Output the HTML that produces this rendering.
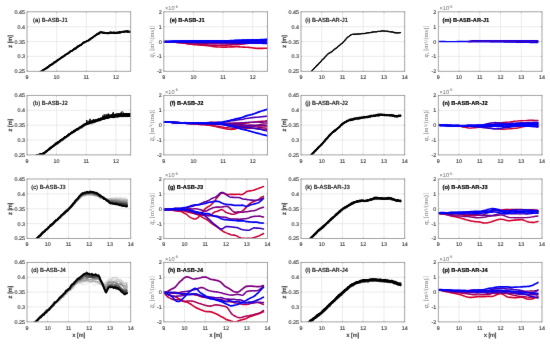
<!DOCTYPE html>
<html lang="en">
<head>
<meta charset="utf-8">
<title>Beach profile evolution and sediment transport</title>
<style>
html,body{margin:0;padding:0;background:#fff;}
body{width:550px;height:345px;overflow:hidden;}
svg{display:block;}
svg text{font-family:'Liberation Sans', sans-serif;text-rendering:geometricPrecision;}
.tk{font-size:5.4px;fill:#404040;stroke:#404040;stroke-width:0.14px;}
.tt{font-size:5.9px;fill:#161616;stroke:#161616;stroke-width:0.2px;}
.tb{font-size:5.7px;fill:#0a0a0a;font-weight:bold;stroke:#0a0a0a;stroke-width:0.18px;}
.yl{font-size:5.8px;fill:#333;stroke:#333;stroke-width:0.22px;}
.ql{font-size:6.3px;fill:#707070;font-family:'Liberation Serif','DejaVu Serif',serif;letter-spacing:0.1px;}
.qi{font-style:italic;}
.sub{font-size:4.2px;}
.ex{font-size:5.6px;fill:#707070;}
.es{font-size:4px;}
</style>
</head>
<body>
<svg width="550" height="345" viewBox="0 0 550 345" role="img" aria-label="Beach profile evolution and net sediment transport, 16 panels">
<defs><filter id="soft" x="0" y="0" width="100%" height="100%" filterUnits="objectBoundingBox" color-interpolation-filters="sRGB"><feConvolveMatrix order="3" kernelMatrix="0.0028 0.0470 0.0028 0.0470 0.8008 0.0470 0.0028 0.0470 0.0028" edgeMode="duplicate" preserveAlpha="true"/></filter></defs>
<rect width="550" height="345" fill="#fff"/>
<g filter="url(#soft)">
<rect width="550" height="345" fill="#fff"/>
<g>
<rect x="27.0" y="11.8" width="103.7" height="59.5" fill="#fff"/>
<path d="M56.6 11.8V71.3M86.3 11.8V71.3M115.9 11.8V71.3M27.0 56.4H130.7M27.0 41.6H130.7M27.0 26.7H130.7" stroke="#e4e4e4" stroke-width="0.7" fill="none"/>
<clipPath id="c1"><rect x="27.0" y="11.8" width="103.7" height="59.5"/></clipPath>
<g clip-path="url(#c1)" fill="none" stroke-linejoin="round" stroke-linecap="round">
<polyline points="35.9,74.9 36.5,74.6 37.2,74.4 37.8,74.1 38.4,73.7 39.1,73.2 39.7,72.5 40.3,71.9 41.0,71.8 41.6,71.4 42.3,70.8 42.9,70.3 43.5,70.1 44.2,69.8 44.8,69.2 45.4,68.7 46.1,68.6 46.7,68.3 47.3,68.0 48.0,67.7 48.6,67.1 49.3,66.5 49.9,66.0 50.5,65.4 51.2,64.8 51.8,64.7 52.4,64.6 53.1,64.0 53.7,63.2 54.3,62.9 55.0,62.7 55.6,62.2 56.3,61.8 56.9,61.2 57.5,60.6 58.2,60.2 58.8,59.7 59.4,59.2 60.1,58.9 60.7,58.5 61.3,58.0 62.0,57.7 62.6,57.4 63.3,56.7 63.9,56.2 64.5,56.0 65.2,55.4 65.8,55.0 66.4,54.5 67.1,53.8 67.7,53.5 68.3,53.5 69.0,52.9 69.6,52.4 70.2,52.0 70.9,51.5 71.5,51.1 72.2,50.5 72.8,50.0 73.4,49.9 74.1,49.5 74.7,49.1 75.3,48.8 76.0,48.5 76.6,48.0 77.2,47.3 77.9,46.6 78.5,46.3 79.2,46.3 79.8,45.8 80.4,45.3 81.1,45.1 81.7,44.6 82.3,43.8 83.0,43.2 83.6,42.8 84.2,42.7 84.9,42.3 85.5,41.8 86.2,41.3 86.8,41.3 87.4,41.1 88.1,40.8 88.7,40.5 89.3,40.2 90.0,39.8 90.6,39.3 91.2,38.6 91.9,37.9 92.5,37.5 93.2,37.1 93.8,36.7 94.4,36.2 95.1,35.7 95.7,35.3 96.3,35.0 97.0,34.7 97.6,34.3 98.2,34.1 98.9,33.8 99.5,33.2 100.2,32.9 100.8,32.4 101.4,32.2 102.1,32.6 102.7,32.9 103.3,32.8 104.0,32.9 104.6,33.2 105.2,33.4 105.9,33.3 106.5,33.4 107.2,33.6 107.8,33.5 108.4,33.4 109.1,33.4 109.7,33.3 110.3,33.1 111.0,32.8 111.6,32.8 112.2,32.9 112.9,33.0 113.5,33.2 114.2,33.4 114.8,33.3 115.4,33.1 116.1,33.2 116.7,33.1 117.3,33.1 118.0,33.0 118.6,32.9 119.2,32.7 119.9,32.7 120.5,32.7 121.2,32.2 121.8,31.9 122.4,32.1 123.1,32.1 123.7,32.1 124.3,31.9 125.0,31.7 125.6,31.8 126.2,31.9 126.9,32.0 127.5,32.2 128.2,32.1 128.8,31.8 129.4,31.7 130.1,31.8 130.7,31.9" stroke="#000000" stroke-width="1.45"/>
<polyline points="35.9,74.9 36.5,74.7 37.2,74.3 37.8,73.8 38.4,73.4 39.1,73.1 39.7,72.8 40.3,72.1 41.0,71.4 41.6,71.2 42.3,70.9 42.9,70.2 43.5,69.7 44.2,69.6 44.8,69.2 45.4,68.9 46.1,68.5 46.7,67.7 47.3,67.2 48.0,66.9 48.6,66.5 49.3,66.0 49.9,65.6 50.5,65.3 51.2,65.1 51.8,64.5 52.4,63.8 53.1,63.4 53.7,63.0 54.3,62.6 55.0,62.3 55.6,61.8 56.3,61.2 56.9,60.9 57.5,60.5 58.2,59.9 58.8,59.3 59.4,58.8 60.1,58.6 60.7,58.5 61.3,58.1 62.0,57.3 62.6,56.7 63.3,56.4 63.9,56.0 64.5,55.4 65.2,54.9 65.8,54.6 66.4,54.3 67.1,53.9 67.7,53.6 68.3,53.0 69.0,52.4 69.6,51.9 70.2,51.2 70.9,51.1 71.5,51.3 72.2,50.9 72.8,50.3 73.4,49.8 74.1,49.3 74.7,48.9 75.3,48.9 76.0,48.6 76.6,47.7 77.2,47.1 77.9,46.8 78.5,46.4 79.2,46.2 79.8,45.8 80.4,45.3 81.1,45.0 81.7,44.5 82.3,43.8 83.0,43.2 83.6,42.9 84.2,42.7 84.9,42.4 85.5,42.0 86.2,41.6 86.8,41.2 87.4,41.0 88.1,40.6 88.7,40.0 89.3,39.6 90.0,39.4 90.6,38.9 91.2,38.4 91.9,38.2 92.5,37.9 93.2,37.3 93.8,36.5 94.4,36.1 95.1,35.7 95.7,35.2 96.3,34.6 97.0,34.4 97.6,34.4 98.2,33.9 98.9,33.8 99.5,33.6 100.2,32.8 100.8,32.2 101.4,32.4 102.1,32.8 102.7,32.7 103.3,32.5 104.0,32.7 104.6,33.0 105.2,33.2 105.9,33.2 106.5,33.1 107.2,33.1 107.8,33.2 108.4,33.3 109.1,33.1 109.7,32.9 110.3,32.8 111.0,33.0 111.6,32.9 112.2,32.9 112.9,32.8 113.5,32.4 114.2,32.3 114.8,32.6 115.4,32.6 116.1,32.8 116.7,33.2 117.3,32.9 118.0,32.7 118.6,32.8 119.2,32.8 119.9,32.7 120.5,32.3 121.2,32.0 121.8,31.9 122.4,31.8 123.1,31.6 123.7,31.7 124.3,32.0 125.0,31.8 125.6,31.3 126.2,31.2 126.9,31.3 127.5,31.4 128.2,31.6 128.8,31.7 129.4,31.8 130.1,31.8 130.7,31.8" stroke="#000000" stroke-width="1.45"/>
<polyline points="35.9,74.2 36.5,74.0 37.2,73.9 37.8,73.7 38.4,73.1 39.1,72.3 39.7,72.0 40.3,71.8 41.0,71.5 41.6,71.2 42.3,70.6 42.9,70.0 43.5,69.7 44.2,69.3 44.8,68.9 45.4,68.5 46.1,68.3 46.7,67.8 47.3,67.2 48.0,66.7 48.6,66.2 49.3,65.6 49.9,65.0 50.5,64.9 51.2,64.7 51.8,64.1 52.4,63.7 53.1,63.4 53.7,62.6 54.3,62.0 55.0,61.8 55.6,61.7 56.3,61.3 56.9,60.8 57.5,60.6 58.2,60.0 58.8,59.3 59.4,58.9 60.1,58.3 60.7,57.7 61.3,57.4 62.0,56.9 62.6,56.4 63.3,56.3 63.9,56.2 64.5,55.9 65.2,55.1 65.8,54.3 66.4,54.0 67.1,54.0 67.7,53.7 68.3,53.1 69.0,52.6 69.6,52.1 70.2,51.6 70.9,51.2 71.5,50.9 72.2,50.4 72.8,49.9 73.4,49.5 74.1,48.8 74.7,48.2 75.3,47.9 76.0,47.9 76.6,47.7 77.2,47.3 77.9,47.0 78.5,46.5 79.2,45.6 79.8,45.0 80.4,45.0 81.1,44.8 81.7,44.3 82.3,43.7 83.0,42.8 83.6,42.2 84.2,42.1 84.9,42.1 85.5,41.8 86.2,41.3 86.8,41.1 87.4,40.9 88.1,40.6 88.7,40.2 89.3,39.5 90.0,38.8 90.6,38.5 91.2,38.2 91.9,37.8 92.5,37.4 93.2,37.0 93.8,36.7 94.4,36.4 95.1,35.9 95.7,35.1 96.3,34.5 97.0,34.0 97.6,33.6 98.2,33.5 98.9,33.1 99.5,32.5 100.2,32.2 100.8,32.2 101.4,32.1 102.1,32.2 102.7,32.7 103.3,32.7 104.0,32.5 104.6,32.9 105.2,33.2 105.9,33.0 106.5,32.8 107.2,32.8 107.8,33.0 108.4,33.2 109.1,32.9 109.7,32.4 110.3,32.3 111.0,32.4 111.6,32.5 112.2,32.7 112.9,32.9 113.5,32.7 114.2,32.5 114.8,32.6 115.4,32.4 116.1,32.5 116.7,32.8 117.3,32.8 118.0,32.7 118.6,32.6 119.2,32.6 119.9,32.6 120.5,32.4 121.2,32.4 121.8,32.3 122.4,31.9 123.1,31.7 123.7,31.8 124.3,31.7 125.0,31.6 125.6,31.6 126.2,31.4 126.9,31.3 127.5,31.3 128.2,31.5 128.8,31.6 129.4,31.7 130.1,31.7 130.7,31.6" stroke="#000000" stroke-width="1.45"/>
<polyline points="35.9,74.4 36.5,74.0 37.2,73.8 37.8,73.6 38.4,73.0 39.1,72.4 39.7,71.9 40.3,71.7 41.0,71.5 41.6,71.1 42.3,70.5 42.9,70.2 43.5,70.0 44.2,69.1 44.8,68.6 45.4,68.5 46.1,68.2 46.7,67.7 47.3,67.2 48.0,66.6 48.6,66.3 49.3,65.8 49.9,65.2 50.5,64.8 51.2,64.4 51.8,64.2 52.4,64.0 53.1,63.4 53.7,62.5 54.3,62.1 55.0,61.8 55.6,61.3 56.3,60.9 56.9,60.3 57.5,59.8 58.2,59.8 58.8,59.7 59.4,59.3 60.1,58.6 60.7,57.8 61.3,57.4 62.0,57.3 62.6,57.1 63.3,56.3 63.9,55.8 64.5,55.7 65.2,55.2 65.8,54.6 66.4,54.1 67.1,53.8 67.7,53.5 68.3,53.2 69.0,52.6 69.6,51.7 70.2,51.2 70.9,51.2 71.5,51.1 72.2,50.7 72.8,50.1 73.4,49.4 74.1,49.0 74.7,48.6 75.3,48.3 76.0,47.8 76.6,47.1 77.2,46.4 77.9,45.9 78.5,45.9 79.2,45.7 79.8,45.2 80.4,44.9 81.1,44.4 81.7,44.0 82.3,43.5 83.0,42.9 83.6,42.4 84.2,42.1 84.9,41.8 85.5,41.6 86.2,41.3 86.8,41.0 87.4,40.6 88.1,40.3 88.7,40.0 89.3,39.8 90.0,39.3 90.6,38.9 91.2,38.4 91.9,38.0 92.5,37.6 93.2,36.9 93.8,36.2 94.4,35.9 95.1,35.5 95.7,35.1 96.3,34.7 97.0,34.2 97.6,33.6 98.2,33.2 98.9,32.8 99.5,32.4 100.2,32.1 100.8,32.1 101.4,32.1 102.1,32.2 102.7,32.4 103.3,32.4 104.0,32.4 104.6,32.5 105.2,32.8 105.9,33.1 106.5,33.0 107.2,32.8 107.8,32.7 108.4,32.8 109.1,32.9 109.7,32.5 110.3,32.1 111.0,32.1 111.6,32.4 112.2,32.6 112.9,32.3 113.5,32.5 114.2,32.8 114.8,32.7 115.4,32.7 116.1,32.8 116.7,32.5 117.3,32.2 118.0,32.3 118.6,32.1 119.2,31.7 119.9,31.7 120.5,31.9 121.2,32.1 121.8,32.1 122.4,31.9 123.1,31.5 123.7,31.3 124.3,31.1 125.0,31.1 125.6,31.3 126.2,31.3 126.9,31.1 127.5,31.0 128.2,31.0 128.8,31.2 129.4,31.4 130.1,31.5 130.7,31.6" stroke="#000000" stroke-width="1.45"/>
</g>
<path d="M27.0 71.3v-1.1M27.0 11.8v1.1M56.6 71.3v-1.1M56.6 11.8v1.1M86.3 71.3v-1.1M86.3 11.8v1.1M115.9 71.3v-1.1M115.9 11.8v1.1M27.0 71.3h1.1M130.7 71.3h-1.1M27.0 56.4h1.1M130.7 56.4h-1.1M27.0 41.6h1.1M130.7 41.6h-1.1M27.0 26.7h1.1M130.7 26.7h-1.1M27.0 11.8h1.1M130.7 11.8h-1.1" stroke="#9c9c9c" stroke-width="0.6" fill="none"/>
<rect x="27.0" y="11.8" width="103.7" height="59.5" fill="none" stroke="#9c9c9c" stroke-width="0.9"/>
<text x="27.0" y="79.1" text-anchor="middle" class="tk">9</text>
<text x="56.6" y="79.1" text-anchor="middle" class="tk">10</text>
<text x="86.3" y="79.1" text-anchor="middle" class="tk">11</text>
<text x="115.9" y="79.1" text-anchor="middle" class="tk">12</text>
<text x="24.9" y="73.2" text-anchor="end" class="tk">0.25</text>
<text x="24.9" y="58.4" text-anchor="end" class="tk">0.3</text>
<text x="24.9" y="43.5" text-anchor="end" class="tk">0.35</text>
<text x="24.9" y="28.6" text-anchor="end" class="tk">0.4</text>
<text x="24.9" y="13.8" text-anchor="end" class="tk">0.45</text>
<text x="33.0" y="21.6" class="tt">(a) B-ASB-J1</text>
<text transform="translate(11.6 41.5) rotate(-90)" text-anchor="middle" class="yl">z [m]</text>
</g>
<g>
<rect x="27.0" y="95.4" width="103.7" height="59.5" fill="#fff"/>
<path d="M56.6 95.4V154.9M86.3 95.4V154.9M115.9 95.4V154.9M27.0 140.0H130.7M27.0 125.2H130.7M27.0 110.3H130.7" stroke="#e4e4e4" stroke-width="0.7" fill="none"/>
<clipPath id="c2"><rect x="27.0" y="95.4" width="103.7" height="59.5"/></clipPath>
<g clip-path="url(#c2)" fill="none" stroke-linejoin="round" stroke-linecap="round">
<polyline points="34.4,157.9 35.1,157.4 35.7,156.9 36.3,157.0 37.0,157.1 37.6,156.8 38.3,156.4 38.9,156.6 39.6,156.6 40.2,155.8 40.9,154.9 41.5,154.9 42.2,155.0 42.8,154.6 43.5,154.6 44.1,154.7 44.7,153.8 45.4,152.6 46.0,151.8 46.7,151.0 47.3,150.6 48.0,150.5 48.6,150.1 49.3,149.6 49.9,149.4 50.6,148.8 51.2,147.7 51.9,147.1 52.5,147.1 53.1,146.9 53.8,146.1 54.4,145.4 55.1,144.9 55.7,144.6 56.4,144.5 57.0,144.2 57.7,143.4 58.3,142.6 59.0,142.3 59.6,142.6 60.3,142.1 60.9,141.3 61.6,141.1 62.2,140.7 62.8,139.6 63.5,138.9 64.1,138.7 64.8,138.4 65.4,137.8 66.1,137.3 66.7,136.9 67.4,136.9 68.0,136.6 68.7,135.9 69.3,135.4 70.0,134.7 70.6,134.3 71.2,134.2 71.9,133.7 72.5,133.1 73.2,132.6 73.8,132.4 74.5,131.9 75.1,130.8 75.8,129.8 76.4,129.6 77.1,129.9 77.7,129.5 78.4,128.9 79.0,129.0 79.6,129.0 80.3,128.3 80.9,127.8 81.6,127.9 82.2,128.0 82.9,127.3 83.5,126.4 84.2,126.0 84.8,125.6 85.5,124.9 86.1,124.5 86.8,124.4 87.4,124.3 88.0,124.3 88.7,124.3 89.3,123.8 90.0,123.2 90.6,123.2 91.3,123.4 91.9,123.1 92.6,122.7 93.2,122.5 93.9,122.9 94.5,122.7 95.2,121.8 95.8,120.7 96.4,120.8 97.1,121.0 97.7,120.5 98.4,120.1 99.0,120.5 99.7,120.4 100.3,119.8 101.0,119.6 101.6,119.6 102.3,119.4 102.9,118.6 103.6,118.2 104.2,118.4 104.8,118.8 105.5,119.0 106.1,118.5 106.8,118.0 107.4,117.7 108.1,117.5 108.7,117.8 109.4,117.9 110.0,117.5 110.7,117.3 111.3,117.3 112.0,117.2 112.6,117.5 113.3,117.4 113.9,116.7 114.5,116.2 115.2,115.8 115.8,115.7 116.5,116.4 117.1,117.1 117.8,117.1 118.4,116.9 119.1,116.6 119.7,116.6 120.4,116.7 121.0,116.6 121.7,116.5 122.3,116.2 122.9,116.1 123.6,116.1 124.2,116.1 124.9,116.2 125.5,116.5 126.2,116.5 126.8,115.8 127.5,114.8 128.1,114.6 128.8,114.8 129.4,115.4 130.1,115.5 130.7,115.3" stroke="#aaaaaa" stroke-width="1.30"/>
<polyline points="34.4,157.2 35.1,157.1 35.7,156.9 36.3,156.6 37.0,156.4 37.6,156.3 38.3,156.2 38.9,155.4 39.6,154.6 40.2,154.8 40.9,155.0 41.5,154.5 42.2,154.5 42.8,154.7 43.5,154.2 44.1,153.3 44.7,152.9 45.4,152.3 46.0,151.7 46.7,151.5 47.3,151.2 48.0,150.5 48.6,150.0 49.3,150.1 49.9,149.7 50.6,148.7 51.2,147.8 51.9,147.0 52.5,146.8 53.1,146.7 53.8,146.1 54.4,145.7 55.1,145.3 55.7,144.7 56.4,144.7 57.0,144.5 57.7,143.9 58.3,143.4 59.0,142.7 59.6,141.7 60.3,140.9 60.9,140.3 61.6,140.5 62.2,140.7 62.8,140.2 63.5,139.7 64.1,139.1 64.8,138.3 65.4,138.2 66.1,137.9 66.7,136.9 67.4,136.2 68.0,135.8 68.7,135.2 69.3,134.7 70.0,134.2 70.6,133.6 71.2,133.2 71.9,132.9 72.5,132.8 73.2,132.8 73.8,132.3 74.5,131.7 75.1,131.4 75.8,130.9 76.4,130.0 77.1,129.9 77.7,130.3 78.4,130.0 79.0,129.2 79.6,128.6 80.3,128.2 80.9,127.8 81.6,127.3 82.2,126.8 82.9,126.5 83.5,125.9 84.2,124.8 84.8,124.3 85.5,124.8 86.1,124.9 86.8,124.4 87.4,124.0 88.0,124.1 88.7,123.9 89.3,123.6 90.0,123.6 90.6,123.5 91.3,123.4 91.9,123.6 92.6,123.3 93.2,122.5 93.9,122.0 94.5,122.1 95.2,122.3 95.8,121.7 96.4,120.9 97.1,120.7 97.7,120.9 98.4,120.8 99.0,120.4 99.7,120.5 100.3,120.6 101.0,120.0 101.6,119.2 102.3,118.8 102.9,118.8 103.6,118.7 104.2,118.6 104.8,118.6 105.5,118.0 106.1,117.1 106.8,117.3 107.4,117.7 108.1,117.5 108.7,116.9 109.4,116.7 110.0,117.1 110.7,117.5 111.3,117.1 112.0,116.6 112.6,116.3 113.3,116.0 113.9,116.0 114.5,116.2 115.2,116.4 115.8,115.8 116.5,115.2 117.1,115.4 117.8,115.8 118.4,115.6 119.1,115.5 119.7,115.9 120.4,116.0 121.0,115.6 121.7,115.5 122.3,115.7 122.9,115.7 123.6,115.7 124.2,115.7 124.9,115.8 125.5,116.0 126.2,115.6 126.8,115.4 127.5,115.7 128.1,115.6 128.8,115.4 129.4,115.6 130.1,115.7 130.7,115.7" stroke="#828282" stroke-width="1.30"/>
<polyline points="34.4,156.5 35.1,156.0 35.7,155.9 36.3,156.0 37.0,155.8 37.6,155.6 38.3,155.3 38.9,155.0 39.6,155.0 40.2,154.8 40.9,154.4 41.5,154.2 42.2,154.2 42.8,154.1 43.5,153.7 44.1,153.2 44.7,152.7 45.4,152.3 46.0,152.0 46.7,151.6 47.3,150.7 48.0,150.0 48.6,149.7 49.3,149.1 49.9,148.6 50.6,148.3 51.2,148.0 51.9,147.3 52.5,146.7 53.1,146.3 53.8,145.7 54.4,145.4 55.1,144.9 55.7,144.2 56.4,143.8 57.0,143.6 57.7,143.0 58.3,142.2 59.0,141.7 59.6,141.4 60.3,140.9 60.9,140.5 61.6,140.2 62.2,139.7 62.8,139.2 63.5,138.9 64.1,138.4 64.8,137.9 65.4,137.4 66.1,137.1 66.7,136.5 67.4,135.9 68.0,135.4 68.7,134.9 69.3,134.3 70.0,133.8 70.6,133.4 71.2,133.2 71.9,132.9 72.5,132.3 73.2,131.7 73.8,131.4 74.5,131.6 75.1,131.2 75.8,130.4 76.4,129.9 77.1,129.5 77.7,129.2 78.4,128.8 79.0,128.4 79.6,128.0 80.3,127.8 80.9,127.6 81.6,127.1 82.2,126.6 82.9,126.1 83.5,125.8 84.2,125.5 84.8,125.1 85.5,124.8 86.1,124.6 86.8,124.4 87.4,123.9 88.0,123.4 88.7,123.2 89.3,123.1 90.0,122.9 90.6,122.8 91.3,122.7 91.9,122.3 92.6,122.1 93.2,122.1 93.9,122.1 94.5,121.8 95.2,121.7 95.8,121.5 96.4,121.2 97.1,121.0 97.7,120.9 98.4,120.8 99.0,120.5 99.7,120.2 100.3,120.0 101.0,119.6 101.6,119.3 102.3,119.1 102.9,119.1 103.6,119.2 104.2,119.0 104.8,118.7 105.5,118.5 106.1,118.3 106.8,118.4 107.4,118.3 108.1,118.1 108.7,117.9 109.4,117.6 110.0,117.4 110.7,117.3 111.3,117.1 112.0,117.1 112.6,117.4 113.3,117.5 113.9,117.4 114.5,117.4 115.2,117.0 115.8,116.6 116.5,116.7 117.1,116.7 117.8,116.7 118.4,116.6 119.1,116.5 119.7,116.4 120.4,116.2 121.0,116.0 121.7,116.2 122.3,116.4 122.9,116.5 123.6,116.4 124.2,116.2 124.9,116.2 125.5,116.1 126.2,116.1 126.8,116.5 127.5,116.4 128.1,116.1 128.8,116.3 129.4,116.4 130.1,116.4 130.7,116.4" stroke="#000000" stroke-width="1.40"/>
<polyline points="34.4,156.5 35.1,156.0 35.7,156.0 36.3,156.3 37.0,156.1 37.6,155.6 38.3,155.2 38.9,155.2 39.6,155.0 40.2,154.5 40.9,154.3 41.5,154.5 42.2,154.6 42.8,154.4 43.5,154.1 44.1,153.6 44.7,152.8 45.4,152.2 46.0,151.5 46.7,150.7 47.3,150.4 48.0,150.2 48.6,149.5 49.3,148.9 49.9,148.8 50.6,148.4 51.2,147.9 51.9,147.3 52.5,146.7 53.1,146.6 53.8,146.1 54.4,145.3 55.1,144.7 55.7,144.1 56.4,143.6 57.0,143.1 57.7,142.8 58.3,142.6 59.0,142.1 59.6,141.5 60.3,140.9 60.9,140.5 61.6,140.2 62.2,139.7 62.8,139.0 63.5,138.6 64.1,138.1 64.8,137.2 65.4,136.8 66.1,136.9 66.7,136.2 67.4,135.4 68.0,135.1 68.7,134.9 69.3,134.6 70.0,134.2 70.6,133.8 71.2,133.3 71.9,132.8 72.5,132.4 73.2,132.2 73.8,131.8 74.5,131.4 75.1,131.0 75.8,130.4 76.4,129.8 77.1,129.4 77.7,129.0 78.4,128.7 79.0,128.4 79.6,128.0 80.3,127.6 80.9,127.2 81.6,126.8 82.2,126.3 82.9,125.9 83.5,125.8 84.2,125.4 84.8,125.0 85.5,124.5 86.1,124.1 86.8,123.7 87.4,123.8 88.0,123.9 88.7,123.7 89.3,123.5 90.0,122.9 90.6,122.4 91.3,122.4 91.9,122.5 92.6,122.2 93.2,121.6 93.9,121.5 94.5,121.4 95.2,120.9 95.8,120.5 96.4,120.5 97.1,120.6 97.7,120.5 98.4,120.3 99.0,120.4 99.7,120.3 100.3,120.0 101.0,119.8 101.6,119.5 102.3,119.0 102.9,118.7 103.6,118.8 104.2,118.7 104.8,118.4 105.5,118.0 106.1,117.8 106.8,117.9 107.4,117.9 108.1,117.8 108.7,117.4 109.4,117.0 110.0,116.9 110.7,117.0 111.3,116.8 112.0,116.6 112.6,116.5 113.3,116.6 113.9,116.7 114.5,116.8 115.2,116.6 115.8,116.3 116.5,116.5 117.1,116.4 117.8,116.1 118.4,116.2 119.1,116.2 119.7,116.1 120.4,116.0 121.0,116.1 121.7,116.3 122.3,116.2 122.9,116.1 123.6,116.0 124.2,115.8 124.9,115.6 125.5,115.6 126.2,115.7 126.8,115.5 127.5,115.3 128.1,115.2 128.8,115.3 129.4,115.5 130.1,115.6 130.7,115.5" stroke="#000000" stroke-width="1.40"/>
<polyline points="34.4,156.9 35.1,156.6 35.7,156.3 36.3,156.2 37.0,156.1 37.6,155.8 38.3,155.2 38.9,154.7 39.6,154.5 40.2,154.5 40.9,154.5 41.5,154.4 42.2,154.1 42.8,153.8 43.5,153.3 44.1,152.7 44.7,152.6 45.4,152.4 46.0,152.0 46.7,151.5 47.3,150.8 48.0,149.9 48.6,149.5 49.3,149.2 49.9,148.4 50.6,147.8 51.2,147.5 51.9,147.2 52.5,146.6 53.1,146.0 53.8,145.3 54.4,144.7 55.1,144.1 55.7,143.6 56.4,143.2 57.0,143.0 57.7,142.9 58.3,142.3 59.0,141.7 59.6,141.2 60.3,140.7 60.9,140.4 61.6,140.0 62.2,139.2 62.8,138.7 63.5,138.4 64.1,137.8 64.8,137.3 65.4,137.2 66.1,137.2 66.7,136.6 67.4,136.0 68.0,135.6 68.7,134.8 69.3,134.3 70.0,134.1 70.6,133.6 71.2,132.9 71.9,132.7 72.5,132.5 73.2,131.9 73.8,131.4 74.5,131.1 75.1,130.6 75.8,130.4 76.4,130.1 77.1,129.4 77.7,129.0 78.4,128.7 79.0,128.3 79.6,127.6 80.3,127.0 80.9,126.8 81.6,126.5 82.2,126.1 82.9,125.8 83.5,125.2 84.2,124.7 84.8,124.3 85.5,124.1 86.1,124.0 86.8,123.7 87.4,123.3 88.0,122.9 88.7,122.7 89.3,122.5 90.0,122.3 90.6,122.1 91.3,122.2 91.9,122.4 92.6,122.3 93.2,121.9 93.9,121.4 94.5,121.2 95.2,120.9 95.8,120.5 96.4,120.3 97.1,120.2 97.7,120.3 98.4,120.2 99.0,119.9 99.7,119.7 100.3,119.6 101.0,119.2 101.6,119.0 102.3,119.0 102.9,118.9 103.6,118.6 104.2,118.2 104.8,117.9 105.5,117.7 106.1,117.7 106.8,117.6 107.4,117.2 108.1,117.0 108.7,116.7 109.4,116.8 110.0,117.0 110.7,116.7 111.3,116.2 112.0,115.9 112.6,115.9 113.3,116.2 113.9,116.1 114.5,115.7 115.2,115.5 115.8,115.7 116.5,116.0 117.1,116.0 117.8,115.4 118.4,115.0 119.1,115.1 119.7,115.2 120.4,115.4 121.0,115.5 121.7,115.4 122.3,115.5 122.9,115.5 123.6,115.2 124.2,115.1 124.9,115.1 125.5,115.2 126.2,115.4 126.8,115.5 127.5,115.3 128.1,115.4 128.8,115.5 129.4,115.5 130.1,115.4 130.7,115.4" stroke="#000000" stroke-width="1.40"/>
<polyline points="34.4,156.9 35.1,156.7 35.7,156.2 36.3,155.6 37.0,155.3 37.6,155.5 38.3,155.3 38.9,154.8 39.6,154.6 40.2,154.4 40.9,154.1 41.5,154.1 42.2,154.3 42.8,154.0 43.5,153.4 44.1,153.0 44.7,152.8 45.4,152.2 46.0,151.4 46.7,150.8 47.3,150.4 48.0,149.8 48.6,149.4 49.3,149.2 49.9,148.6 50.6,147.9 51.2,147.7 51.9,147.4 52.5,146.6 53.1,145.7 53.8,145.3 54.4,144.9 55.1,144.3 55.7,143.8 56.4,143.3 57.0,142.6 57.7,142.2 58.3,142.0 59.0,141.7 59.6,141.2 60.3,141.0 60.9,140.5 61.6,139.4 62.2,138.8 62.8,138.6 63.5,138.3 64.1,137.6 64.8,137.0 65.4,136.6 66.1,136.6 66.7,136.4 67.4,136.0 68.0,135.8 68.7,135.3 69.3,134.6 70.0,134.1 70.6,133.6 71.2,132.8 71.9,132.1 72.5,131.7 73.2,131.5 73.8,131.2 74.5,131.0 75.1,130.6 75.8,130.1 76.4,129.9 77.1,129.6 77.7,129.2 78.4,128.5 79.0,127.9 79.6,127.7 80.3,127.4 80.9,127.1 81.6,126.9 82.2,126.3 82.9,125.3 83.5,124.7 84.2,124.6 84.8,124.5 85.5,124.1 86.1,123.7 86.8,123.3 87.4,123.1 88.0,122.9 88.7,122.8 89.3,122.7 90.0,122.7 90.6,122.6 91.3,122.4 91.9,122.2 92.6,121.9 93.2,121.6 93.9,121.3 94.5,121.1 95.2,121.1 95.8,121.0 96.4,120.6 97.1,120.1 97.7,119.6 98.4,119.6 99.0,119.5 99.7,119.3 100.3,119.2 101.0,118.9 101.6,119.0 102.3,118.9 102.9,118.0 103.6,117.7 104.2,118.0 104.8,117.8 105.5,117.5 106.1,117.4 106.8,117.4 107.4,117.1 108.1,116.6 108.7,116.3 109.4,116.0 110.0,115.8 110.7,115.6 111.3,115.8 112.0,116.0 112.6,116.2 113.3,116.0 113.9,115.6 114.5,115.6 115.2,115.5 115.8,115.5 116.5,115.6 117.1,115.5 117.8,115.4 118.4,115.2 119.1,115.0 119.7,114.9 120.4,115.1 121.0,115.2 121.7,115.0 122.3,114.8 122.9,114.5 123.6,114.2 124.2,114.4 124.9,114.7 125.5,114.8 126.2,115.0 126.8,115.0 127.5,114.9 128.1,114.8 128.8,114.6 129.4,114.5 130.1,114.5 130.7,114.5" stroke="#000000" stroke-width="1.40"/>
<polyline points="34.4,156.5 35.1,156.0 35.7,155.6 36.3,155.3 37.0,155.0 37.6,154.9 38.3,154.8 38.9,154.4 39.6,154.1 40.2,154.2 40.9,153.9 41.5,153.6 42.2,153.5 42.8,153.3 43.5,153.0 44.1,152.8 44.7,152.4 45.4,152.0 46.0,151.6 46.7,151.0 47.3,150.4 48.0,149.7 48.6,149.3 49.3,148.8 49.9,147.9 50.6,147.3 51.2,147.1 51.9,146.8 52.5,146.3 53.1,145.7 53.8,145.3 54.4,145.0 55.1,144.1 55.7,143.4 56.4,143.3 57.0,142.8 57.7,142.2 58.3,141.8 59.0,141.3 59.6,141.1 60.3,140.5 60.9,139.8 61.6,139.6 62.2,139.3 62.8,138.8 63.5,138.2 64.1,137.7 64.8,137.3 65.4,137.0 66.1,136.6 66.7,136.0 67.4,135.8 68.0,135.6 68.7,135.0 69.3,134.4 70.0,133.8 70.6,133.2 71.2,133.0 71.9,132.6 72.5,131.8 73.2,131.3 73.8,130.9 74.5,130.7 75.1,130.5 75.8,130.0 76.4,129.3 77.1,128.9 77.7,128.7 78.4,128.4 79.0,128.0 79.6,127.5 80.3,126.8 80.9,126.7 81.6,126.6 82.2,126.1 82.9,125.4 83.5,125.0 84.2,124.7 84.8,124.4 85.5,124.1 86.1,124.0 86.8,123.6 87.4,123.1 88.0,122.8 88.7,122.5 89.3,122.1 90.0,122.0 90.6,121.8 91.3,121.4 91.9,121.3 92.6,121.4 93.2,121.1 93.9,121.0 94.5,120.9 95.2,120.7 95.8,120.6 96.4,120.6 97.1,120.2 97.7,119.9 98.4,119.8 99.0,119.7 99.7,119.4 100.3,119.0 101.0,118.8 101.6,118.6 102.3,118.4 102.9,118.2 103.6,117.9 104.2,117.5 104.8,117.4 105.5,117.2 106.1,116.8 106.8,116.7 107.4,116.6 108.1,116.2 108.7,116.1 109.4,116.3 110.0,116.2 110.7,115.9 111.3,115.9 112.0,115.8 112.6,115.6 113.3,115.4 113.9,115.3 114.5,115.2 115.2,115.0 115.8,115.1 116.5,114.8 117.1,114.5 117.8,114.6 118.4,114.8 119.1,114.8 119.7,114.7 120.4,114.5 121.0,114.4 121.7,114.6 122.3,114.4 122.9,114.2 123.6,114.3 124.2,114.4 124.9,114.5 125.5,114.5 126.2,114.2 126.8,113.8 127.5,114.0 128.1,114.2 128.8,114.2 129.4,114.0 130.1,113.8 130.7,113.8" stroke="#000000" stroke-width="1.40"/>
<polyline points="34.4,155.9 35.1,155.7 35.7,155.6 36.3,155.4 37.0,155.3 37.6,155.3 38.3,155.0 38.9,154.7 39.6,154.7 40.2,154.6 40.9,154.1 41.5,153.9 42.2,153.8 42.8,153.6 43.5,153.2 44.1,152.8 44.7,152.5 45.4,152.0 46.0,151.2 46.7,150.7 47.3,150.3 48.0,149.9 48.6,149.4 49.3,148.6 49.9,148.1 50.6,147.6 51.2,146.9 51.9,146.4 52.5,146.1 53.1,145.7 53.8,145.5 54.4,145.2 55.1,144.6 55.7,143.9 56.4,143.3 57.0,142.8 57.7,142.5 58.3,142.1 59.0,141.6 59.6,141.2 60.3,140.7 60.9,140.2 61.6,139.9 62.2,139.5 62.8,138.9 63.5,138.2 64.1,137.6 64.8,137.2 65.4,137.0 66.1,136.7 66.7,136.1 67.4,135.6 68.0,135.2 68.7,134.5 69.3,134.1 70.0,133.8 70.6,133.1 71.2,132.5 71.9,132.1 72.5,131.7 73.2,131.3 73.8,130.7 74.5,130.3 75.1,130.0 75.8,129.6 76.4,129.3 77.1,129.1 77.7,128.8 78.4,128.3 79.0,127.8 79.6,127.5 80.3,127.0 80.9,126.4 81.6,126.3 82.2,126.2 82.9,125.5 83.5,124.9 84.2,124.6 84.8,124.4 85.5,124.1 86.1,123.6 86.8,123.1 87.4,122.9 88.0,122.8 88.7,122.5 89.3,122.1 90.0,122.0 90.6,122.0 91.3,121.6 91.9,121.1 92.6,121.2 93.2,121.2 93.9,121.0 94.5,120.7 95.2,120.1 95.8,119.8 96.4,120.1 97.1,120.0 97.7,119.4 98.4,118.9 99.0,118.7 99.7,118.7 100.3,118.7 101.0,118.6 101.6,118.6 102.3,118.2 102.9,117.7 103.6,117.3 104.2,116.9 104.8,116.9 105.5,116.9 106.1,116.4 106.8,115.9 107.4,116.0 108.1,116.1 108.7,115.6 109.4,115.3 110.0,115.4 110.7,115.3 111.3,115.0 112.0,115.0 112.6,115.2 113.3,115.1 113.9,114.9 114.5,114.7 115.2,114.5 115.8,114.3 116.5,114.4 117.1,114.6 117.8,114.3 118.4,114.0 119.1,113.9 119.7,113.9 120.4,114.2 121.0,114.2 121.7,114.0 122.3,114.2 122.9,114.3 123.6,113.9 124.2,113.9 124.9,114.0 125.5,114.1 126.2,114.1 126.8,114.0 127.5,113.7 128.1,113.7 128.8,113.8 129.4,113.6 130.1,113.6 130.7,113.6" stroke="#000000" stroke-width="1.40"/>
<polyline points="34.4,156.1 35.1,156.1 35.7,155.9 36.3,155.4 37.0,155.3 37.6,155.0 38.3,154.6 38.9,154.3 39.6,154.2 40.2,154.1 40.9,153.9 41.5,153.8 42.2,153.7 42.8,153.4 43.5,152.8 44.1,152.4 44.7,151.9 45.4,151.2 46.0,151.0 46.7,150.7 47.3,150.2 48.0,149.7 48.6,148.9 49.3,148.3 49.9,148.2 50.6,147.8 51.2,147.1 51.9,146.7 52.5,146.2 53.1,145.8 53.8,145.5 54.4,144.9 55.1,144.3 55.7,143.7 56.4,143.2 57.0,142.8 57.7,142.2 58.3,141.8 59.0,141.6 59.6,141.3 60.3,140.7 60.9,140.1 61.6,139.6 62.2,139.0 62.8,138.3 63.5,137.7 64.1,137.3 64.8,137.2 65.4,136.9 66.1,136.2 66.7,135.6 67.4,135.2 68.0,134.7 68.7,134.2 69.3,133.7 70.0,133.3 70.6,132.9 71.2,132.5 71.9,132.2 72.5,131.7 73.2,131.3 73.8,130.9 74.5,130.4 75.1,130.0 75.8,129.6 76.4,129.3 77.1,128.9 77.7,128.3 78.4,128.2 79.0,128.1 79.6,127.6 80.3,126.9 80.9,126.2 81.6,125.8 82.2,125.6 82.9,125.4 83.5,124.9 84.2,124.2 84.8,123.8 85.5,123.6 86.1,123.3 86.8,120.0 87.4,123.0 88.0,121.5 88.7,122.7 89.3,122.6 90.0,118.8 90.6,120.0 91.3,121.7 91.9,121.5 92.6,121.0 93.2,120.7 93.9,119.3 94.5,120.3 95.2,120.3 95.8,120.1 96.4,119.1 97.1,119.8 97.7,119.5 98.4,119.2 99.0,118.9 99.7,118.8 100.3,118.7 101.0,118.5 101.6,118.2 102.3,118.2 102.9,115.5 103.6,117.6 104.2,114.3 104.8,117.2 105.5,116.8 106.1,114.0 106.8,116.0 107.4,116.0 108.1,113.6 108.7,115.3 109.4,115.3 110.0,115.3 110.7,115.2 111.3,115.0 112.0,114.8 112.6,114.7 113.3,112.1 113.9,114.6 114.5,114.8 115.2,114.7 115.8,114.4 116.5,114.5 117.1,114.4 117.8,114.1 118.4,114.1 119.1,114.4 119.7,114.5 120.4,114.4 121.0,114.2 121.7,111.7 122.3,111.7 122.9,111.9 123.6,113.9 124.2,114.0 124.9,113.7 125.5,113.7 126.2,114.0 126.8,113.9 127.5,113.7 128.1,113.7 128.8,113.7 129.4,113.8 130.1,113.7 130.7,113.1" stroke="#000000" stroke-width="0.90"/>
<polyline points="34.4,155.8 35.1,155.5 35.7,155.6 36.3,155.7 37.0,155.3 37.6,155.0 38.3,154.7 38.9,154.3 39.6,154.0 40.2,154.0 40.9,153.8 41.5,153.5 42.2,153.4 42.8,153.4 43.5,153.0 44.1,152.7 44.7,152.3 45.4,151.7 46.0,151.3 46.7,151.0 47.3,150.6 48.0,149.8 48.6,148.8 49.3,148.1 49.9,147.7 50.6,147.4 51.2,147.1 51.9,146.6 52.5,146.2 53.1,145.9 53.8,145.4 54.4,144.7 55.1,144.3 55.7,142.8 56.4,143.2 57.0,142.6 57.7,142.1 58.3,141.7 59.0,141.3 59.6,140.9 60.3,139.5 60.9,140.1 61.6,139.5 62.2,138.9 62.8,138.3 63.5,138.0 64.1,137.9 64.8,137.5 65.4,136.8 66.1,136.3 66.7,136.0 67.4,135.5 68.0,134.8 68.7,133.6 69.3,134.1 70.0,133.4 70.6,132.9 71.2,132.6 71.9,132.2 72.5,131.8 73.2,131.3 73.8,131.0 74.5,130.8 75.1,130.4 75.8,130.0 76.4,128.6 77.1,127.9 77.7,128.6 78.4,128.6 79.0,128.5 79.6,127.8 80.3,127.3 80.9,126.6 81.6,125.9 82.2,125.6 82.9,125.4 83.5,123.8 84.2,124.6 84.8,124.3 85.5,124.0 86.1,123.5 86.8,122.9 87.4,122.6 88.0,122.5 88.7,122.4 89.3,120.2 90.0,120.3 90.6,121.7 91.3,121.4 91.9,121.3 92.6,121.4 93.2,119.2 93.9,120.6 94.5,120.5 95.2,120.3 95.8,119.8 96.4,119.6 97.1,119.6 97.7,119.3 98.4,118.9 99.0,118.8 99.7,118.8 100.3,118.1 101.0,117.3 101.6,118.5 102.3,117.8 102.9,116.3 103.6,117.7 104.2,117.7 104.8,117.5 105.5,117.2 106.1,116.9 106.8,116.3 107.4,115.7 108.1,115.3 108.7,113.9 109.4,115.7 110.0,115.9 110.7,116.0 111.3,115.6 112.0,115.1 112.6,113.4 113.3,114.7 113.9,114.1 114.5,114.6 115.2,114.4 115.8,114.4 116.5,114.7 117.1,113.3 117.8,114.6 118.4,114.1 119.1,113.8 119.7,114.1 120.4,114.3 121.0,112.5 121.7,114.1 122.3,114.1 122.9,114.0 123.6,113.9 124.2,113.9 124.9,113.7 125.5,113.7 126.2,113.8 126.8,113.8 127.5,113.7 128.1,113.6 128.8,113.6 129.4,113.6 130.1,113.7 130.7,113.2" stroke="#000000" stroke-width="0.90"/>
</g>
<path d="M27.0 154.9v-1.1M27.0 95.4v1.1M56.6 154.9v-1.1M56.6 95.4v1.1M86.3 154.9v-1.1M86.3 95.4v1.1M115.9 154.9v-1.1M115.9 95.4v1.1M27.0 154.9h1.1M130.7 154.9h-1.1M27.0 140.0h1.1M130.7 140.0h-1.1M27.0 125.2h1.1M130.7 125.2h-1.1M27.0 110.3h1.1M130.7 110.3h-1.1M27.0 95.4h1.1M130.7 95.4h-1.1" stroke="#9c9c9c" stroke-width="0.6" fill="none"/>
<rect x="27.0" y="95.4" width="103.7" height="59.5" fill="none" stroke="#9c9c9c" stroke-width="0.9"/>
<text x="27.0" y="162.7" text-anchor="middle" class="tk">9</text>
<text x="56.6" y="162.7" text-anchor="middle" class="tk">10</text>
<text x="86.3" y="162.7" text-anchor="middle" class="tk">11</text>
<text x="115.9" y="162.7" text-anchor="middle" class="tk">12</text>
<text x="24.9" y="156.8" text-anchor="end" class="tk">0.25</text>
<text x="24.9" y="142.0" text-anchor="end" class="tk">0.3</text>
<text x="24.9" y="127.1" text-anchor="end" class="tk">0.35</text>
<text x="24.9" y="112.2" text-anchor="end" class="tk">0.4</text>
<text x="24.9" y="97.4" text-anchor="end" class="tk">0.45</text>
<text x="33.0" y="105.2" class="tt">(b) B-ASB-J2</text>
<text transform="translate(11.6 125.2) rotate(-90)" text-anchor="middle" class="yl">z [m]</text>
</g>
<g>
<rect x="27.0" y="179.0" width="103.7" height="59.5" fill="#fff"/>
<path d="M47.7 179.0V238.5M68.5 179.0V238.5M89.2 179.0V238.5M110.0 179.0V238.5M27.0 223.6H130.7M27.0 208.8H130.7M27.0 193.9H130.7" stroke="#e4e4e4" stroke-width="0.7" fill="none"/>
<clipPath id="c3"><rect x="27.0" y="179.0" width="103.7" height="59.5"/></clipPath>
<g clip-path="url(#c3)" fill="none" stroke-linejoin="round" stroke-linecap="round">
<polyline points="32.2,242.2 32.8,241.9 33.5,241.4 34.1,241.1 34.7,240.8 35.4,240.1 36.0,239.1 36.6,238.3 37.3,237.6 37.9,237.0 38.5,236.7 39.2,236.3 39.8,235.6 40.5,234.5 41.1,233.8 41.7,233.9 42.4,233.5 43.0,233.0 43.6,232.6 44.3,231.8 44.9,230.8 45.5,230.2 46.2,229.7 46.8,229.1 47.5,228.6 48.1,228.1 48.7,227.6 49.4,227.1 50.0,226.4 50.6,225.7 51.3,224.9 51.9,224.2 52.5,223.7 53.2,223.4 53.8,223.1 54.4,222.8 55.1,222.3 55.7,221.3 56.4,220.7 57.0,220.3 57.6,219.6 58.3,219.1 58.9,218.5 59.5,217.7 60.2,217.4 60.8,217.0 61.4,216.0 62.1,215.4 62.7,215.3 63.4,215.2 64.0,214.8 64.6,214.0 65.3,213.0 65.9,212.6 66.5,212.3 67.2,211.4 67.8,210.4 68.4,210.1 69.1,209.6 69.7,208.7 70.4,208.1 71.0,207.7 71.6,207.4 72.3,207.1 72.9,206.3 73.5,205.4 74.2,204.5 74.8,203.6 75.4,202.9 76.1,202.3 76.7,201.8 77.3,201.6 78.0,201.2 78.6,200.4 79.3,199.5 79.9,198.8 80.5,198.2 81.2,197.8 81.8,197.4 82.4,196.8 83.1,196.6 83.7,196.4 84.3,196.1 85.0,196.1 85.6,196.1 86.3,195.6 86.9,195.2 87.5,195.4 88.2,195.2 88.8,194.8 89.4,195.1 90.1,195.3 90.7,195.1 91.3,195.3 92.0,195.7 92.6,195.7 93.3,195.7 93.9,195.9 94.5,196.0 95.2,196.0 95.8,196.6 96.4,196.9 97.1,196.7 97.7,196.7 98.3,197.1 99.0,197.6 99.6,197.6 100.2,197.6 100.9,198.0 101.5,198.6 102.2,198.8 102.8,199.0 103.4,199.4 104.1,199.2 104.7,198.8 105.3,199.1 106.0,199.2 106.6,198.8 107.2,198.5 107.9,198.5 108.5,198.7 109.2,198.3 109.8,197.9 110.4,198.1 111.1,198.0 111.7,197.4 112.3,197.3 113.0,198.1 113.6,198.6 114.2,198.4 114.9,198.0 115.5,197.6 116.2,197.3 116.8,197.5 117.4,197.6 118.1,197.6 118.7,197.7 119.3,197.7 120.0,197.3 120.6,196.7 121.2,197.0 121.9,197.7 122.5,197.9 123.2,197.9 123.8,198.1 124.4,198.0 125.1,197.7 125.7,197.5 126.3,197.6 127.0,197.8" stroke="#f0f0f0" stroke-width="1.40"/>
<polyline points="32.2,242.4 32.8,242.0 33.5,241.3 34.1,240.5 34.7,239.9 35.4,239.5 36.0,238.8 36.6,238.3 37.3,238.2 37.9,238.1 38.5,237.3 39.2,236.0 39.8,235.1 40.5,234.7 41.1,234.3 41.7,233.9 42.4,233.5 43.0,232.8 43.6,231.9 44.3,231.3 44.9,230.9 45.5,230.3 46.2,229.5 46.8,229.1 47.5,228.5 48.1,227.6 48.7,227.1 49.4,226.6 50.0,225.7 50.6,225.2 51.3,224.9 51.9,224.6 52.5,224.3 53.2,224.1 53.8,223.4 54.4,222.6 55.1,222.0 55.7,221.4 56.4,220.9 57.0,220.5 57.6,219.7 58.3,218.8 58.9,218.0 59.5,217.2 60.2,216.8 60.8,216.5 61.4,216.1 62.1,215.5 62.7,215.0 63.4,214.6 64.0,214.0 64.6,213.4 65.3,212.7 65.9,212.2 66.5,211.9 67.2,211.3 67.8,210.7 68.4,210.4 69.1,209.6 69.7,208.8 70.4,208.8 71.0,208.0 71.6,207.0 72.3,206.2 72.9,205.4 73.5,205.0 74.2,203.9 74.8,202.7 75.4,202.4 76.1,202.0 76.7,201.5 77.3,200.8 78.0,200.1 78.6,199.6 79.3,198.8 79.9,198.0 80.5,197.6 81.2,197.1 81.8,196.7 82.4,196.4 83.1,195.8 83.7,195.8 84.3,196.0 85.0,195.8 85.6,195.6 86.3,195.5 86.9,195.3 87.5,195.1 88.2,195.0 88.8,194.9 89.4,194.8 90.1,194.7 90.7,194.8 91.3,195.1 92.0,195.4 92.6,195.4 93.3,195.1 93.9,194.8 94.5,194.7 95.2,195.0 95.8,195.7 96.4,196.1 97.1,196.3 97.7,196.4 98.3,196.4 99.0,196.8 99.6,197.6 100.2,197.8 100.9,197.6 101.5,197.9 102.2,198.2 102.8,198.3 103.4,198.6 104.1,199.0 104.7,199.4 105.3,199.6 106.0,199.4 106.6,199.6 107.2,199.7 107.9,199.4 108.5,199.0 109.2,198.9 109.8,199.1 110.4,199.2 111.1,199.1 111.7,199.0 112.3,198.7 113.0,198.4 113.6,198.2 114.2,197.9 114.9,198.0 115.5,198.3 116.2,198.4 116.8,198.4 117.4,198.2 118.1,198.3 118.7,198.7 119.3,198.4 120.0,198.2 120.6,198.3 121.2,198.6 121.9,199.1 122.5,199.0 123.2,198.4 123.8,198.7 124.4,199.1 125.1,199.0 125.7,199.2 126.3,199.7 127.0,199.8" stroke="#d4d4d4" stroke-width="1.40"/>
<polyline points="32.2,242.2 32.8,241.7 33.5,241.1 34.1,240.6 34.7,240.0 35.4,239.7 36.0,239.6 36.6,239.0 37.3,238.4 37.9,237.9 38.5,237.1 39.2,236.4 39.8,235.9 40.5,235.5 41.1,234.5 41.7,233.5 42.4,233.5 43.0,233.2 43.6,232.1 44.3,231.2 44.9,230.8 45.5,230.4 46.2,229.7 46.8,229.3 47.5,229.0 48.1,228.3 48.7,227.4 49.4,226.5 50.0,226.0 50.6,225.5 51.3,224.8 51.9,224.3 52.5,223.9 53.2,223.9 53.8,223.4 54.4,222.5 55.1,222.0 55.7,221.4 56.4,220.7 57.0,220.2 57.6,219.5 58.3,218.9 58.9,218.7 59.5,217.6 60.2,216.5 60.8,216.3 61.4,216.0 62.1,215.1 62.7,214.5 63.4,214.4 64.0,214.0 64.6,213.2 65.3,212.5 65.9,211.9 66.5,211.4 67.2,211.0 67.8,210.6 68.4,210.1 69.1,209.6 69.7,208.8 70.4,208.3 71.0,207.5 71.6,206.4 72.3,206.0 72.9,205.6 73.5,204.6 74.2,203.9 74.8,203.2 75.4,202.5 76.1,201.8 76.7,201.2 77.3,200.6 78.0,199.6 78.6,198.9 79.3,198.8 79.9,198.0 80.5,197.1 81.2,197.0 81.8,196.4 82.4,195.5 83.1,195.2 83.7,194.9 84.3,194.9 85.0,195.0 85.6,194.8 86.3,194.5 86.9,194.3 87.5,194.4 88.2,194.6 88.8,194.4 89.4,194.1 90.1,194.3 90.7,194.8 91.3,194.8 92.0,194.7 92.6,194.9 93.3,195.2 93.9,195.3 94.5,195.3 95.2,195.1 95.8,195.2 96.4,195.3 97.1,195.5 97.7,195.6 98.3,195.6 99.0,196.1 99.6,196.9 100.2,197.8 100.9,198.5 101.5,198.3 102.2,197.9 102.8,198.0 103.4,198.4 104.1,198.4 104.7,198.6 105.3,199.3 106.0,199.8 106.6,199.7 107.2,199.4 107.9,199.3 108.5,199.4 109.2,199.5 109.8,199.1 110.4,198.9 111.1,198.8 111.7,198.7 112.3,198.8 113.0,199.3 113.6,199.8 114.2,199.6 114.9,199.0 115.5,198.8 116.2,199.2 116.8,199.4 117.4,199.4 118.1,199.4 118.7,199.6 119.3,199.4 120.0,198.9 120.6,199.2 121.2,199.9 121.9,200.1 122.5,199.9 123.2,199.5 123.8,199.4 124.4,199.7 125.1,199.8 125.7,200.0 126.3,199.9 127.0,199.6" stroke="#bfbfbf" stroke-width="1.40"/>
<polyline points="32.2,241.4 32.8,240.9 33.5,241.0 34.1,240.6 34.7,239.9 35.4,239.7 36.0,239.6 36.6,239.0 37.3,238.0 37.9,237.3 38.5,236.7 39.2,235.8 39.8,235.2 40.5,234.8 41.1,234.4 41.7,233.8 42.4,233.0 43.0,232.3 43.6,231.9 44.3,231.4 44.9,231.1 45.5,230.8 46.2,230.0 46.8,229.0 47.5,228.1 48.1,227.4 48.7,227.0 49.4,226.4 50.0,225.6 50.6,225.3 51.3,225.1 51.9,224.6 52.5,224.1 53.2,223.6 53.8,222.7 54.4,222.0 55.1,221.4 55.7,220.7 56.4,220.4 57.0,220.1 57.6,219.6 58.3,219.0 58.9,218.3 59.5,217.4 60.2,216.6 60.8,216.1 61.4,215.8 62.1,215.6 62.7,215.3 63.4,214.6 64.0,213.9 64.6,213.0 65.3,212.3 65.9,211.5 66.5,210.9 67.2,210.6 67.8,210.1 68.4,209.6 69.1,208.9 69.7,208.3 70.4,207.9 71.0,206.9 71.6,205.8 72.3,205.6 72.9,205.3 73.5,204.9 74.2,204.1 74.8,202.9 75.4,202.2 76.1,201.3 76.7,200.1 77.3,199.5 78.0,199.3 78.6,198.6 79.3,197.8 79.9,197.2 80.5,196.7 81.2,196.0 81.8,195.4 82.4,195.2 83.1,195.1 83.7,194.7 84.3,194.6 85.0,194.6 85.6,194.3 86.3,194.0 86.9,194.1 87.5,194.5 88.2,194.6 88.8,194.6 89.4,194.6 90.1,194.3 90.7,194.4 91.3,194.7 92.0,194.5 92.6,194.2 93.3,194.5 93.9,194.7 94.5,194.7 95.2,195.2 95.8,195.8 96.4,195.9 97.1,195.7 97.7,195.6 98.3,195.8 99.0,196.5 99.6,197.2 100.2,197.6 100.9,197.8 101.5,198.1 102.2,198.4 102.8,198.3 103.4,198.3 104.1,198.5 104.7,198.9 105.3,199.5 106.0,199.9 106.6,199.7 107.2,199.2 107.9,199.3 108.5,199.5 109.2,199.5 109.8,199.4 110.4,199.3 111.1,199.5 111.7,199.7 112.3,199.7 113.0,200.0 113.6,200.4 114.2,200.3 114.9,200.0 115.5,199.8 116.2,200.0 116.8,199.8 117.4,199.7 118.1,200.0 118.7,200.2 119.3,199.7 120.0,199.6 120.6,200.2 121.2,200.8 121.9,200.7 122.5,200.3 123.2,200.1 123.8,200.2 124.4,200.6 125.1,200.6 125.7,200.5 126.3,200.3 127.0,200.4" stroke="#adadad" stroke-width="1.40"/>
<polyline points="32.2,241.7 32.8,241.7 33.5,241.7 34.1,241.1 34.7,240.5 35.4,239.8 36.0,238.7 36.6,238.0 37.3,237.9 37.9,237.7 38.5,237.1 39.2,236.2 39.8,235.3 40.5,234.7 41.1,234.3 41.7,234.2 42.4,234.0 43.0,233.3 43.6,232.4 44.3,231.5 44.9,230.9 45.5,230.5 46.2,229.7 46.8,228.9 47.5,228.7 48.1,228.3 48.7,227.6 49.4,227.1 50.0,226.4 50.6,225.3 51.3,224.8 51.9,224.7 52.5,224.2 53.2,223.4 53.8,222.8 54.4,222.3 55.1,221.6 55.7,220.9 56.4,220.5 57.0,220.0 57.6,219.4 58.3,218.8 58.9,218.1 59.5,217.4 60.2,216.9 60.8,216.5 61.4,216.1 62.1,215.8 62.7,215.3 63.4,214.6 64.0,213.9 64.6,213.4 65.3,212.9 65.9,212.0 66.5,211.4 67.2,211.0 67.8,210.0 68.4,209.5 69.1,209.0 69.7,208.2 70.4,207.7 71.0,207.0 71.6,206.1 72.3,205.7 72.9,205.1 73.5,204.2 74.2,203.8 74.8,203.0 75.4,201.8 76.1,200.9 76.7,200.7 77.3,200.1 78.0,199.2 78.6,198.7 79.3,198.2 79.9,197.3 80.5,196.5 81.2,195.8 81.8,195.1 82.4,194.9 83.1,194.9 83.7,195.0 84.3,195.0 85.0,194.7 85.6,194.4 86.3,194.3 86.9,194.3 87.5,194.1 88.2,193.5 88.8,193.3 89.4,193.7 90.1,193.9 90.7,193.7 91.3,193.5 92.0,193.7 92.6,194.0 93.3,194.2 93.9,194.5 94.5,194.7 95.2,194.7 95.8,194.9 96.4,195.1 97.1,195.2 97.7,195.4 98.3,195.8 99.0,196.2 99.6,196.7 100.2,196.9 100.9,197.2 101.5,197.5 102.2,197.6 102.8,198.1 103.4,198.7 104.1,199.0 104.7,199.1 105.3,199.3 106.0,199.9 106.6,200.3 107.2,200.1 107.9,199.8 108.5,200.1 109.2,200.2 109.8,200.5 110.4,200.8 111.1,200.5 111.7,200.1 112.3,200.1 113.0,200.1 113.6,200.3 114.2,200.5 114.9,200.4 115.5,200.1 116.2,199.9 116.8,200.1 117.4,200.6 118.1,200.9 118.7,200.8 119.3,200.6 120.0,201.1 120.6,201.3 121.2,201.2 121.9,200.9 122.5,200.9 123.2,201.5 123.8,201.3 124.4,201.1 125.1,201.5 125.7,201.5 126.3,201.1 127.0,200.8" stroke="#9c9c9c" stroke-width="1.40"/>
<polyline points="32.2,242.3 32.8,241.9 33.5,240.8 34.1,240.1 34.7,240.3 35.4,240.0 36.0,239.0 36.6,238.3 37.3,237.7 37.9,237.3 38.5,237.0 39.2,236.2 39.8,235.1 40.5,234.7 41.1,235.0 41.7,234.1 42.4,233.0 43.0,232.7 43.6,232.5 44.3,231.7 44.9,230.9 45.5,230.4 46.2,229.9 46.8,229.3 47.5,228.6 48.1,228.0 48.7,227.6 49.4,227.0 50.0,226.1 50.6,225.3 51.3,224.8 51.9,224.4 52.5,223.7 53.2,223.0 53.8,222.4 54.4,221.7 55.1,220.9 55.7,220.5 56.4,220.4 57.0,219.9 57.6,219.1 58.3,218.5 58.9,218.3 59.5,218.3 60.2,217.7 60.8,216.5 61.4,215.5 62.1,215.2 62.7,214.8 63.4,214.1 64.0,213.5 64.6,212.9 65.3,212.4 65.9,212.1 66.5,211.8 67.2,211.5 67.8,210.9 68.4,210.1 69.1,209.1 69.7,208.2 70.4,207.4 71.0,206.9 71.6,206.4 72.3,205.6 72.9,204.9 73.5,204.0 74.2,203.4 74.8,203.0 75.4,202.2 76.1,201.3 76.7,200.6 77.3,199.5 78.0,198.7 78.6,198.4 79.3,198.2 79.9,197.7 80.5,196.8 81.2,196.2 81.8,196.0 82.4,195.2 83.1,194.8 83.7,194.9 84.3,194.8 85.0,194.5 85.6,194.3 86.3,194.3 86.9,193.9 87.5,193.3 88.2,193.4 88.8,193.6 89.4,193.8 90.1,193.9 90.7,193.7 91.3,193.6 92.0,193.8 92.6,193.7 93.3,193.4 93.9,193.8 94.5,194.6 95.2,195.1 95.8,195.0 96.4,194.7 97.1,194.8 97.7,195.3 98.3,196.1 99.0,196.5 99.6,196.5 100.2,196.8 100.9,197.2 101.5,197.3 102.2,197.4 102.8,197.9 103.4,198.8 104.1,199.3 104.7,199.2 105.3,199.2 106.0,199.5 106.6,199.9 107.2,200.0 107.9,200.0 108.5,200.1 109.2,200.4 109.8,200.8 110.4,200.8 111.1,200.8 111.7,201.1 112.3,201.3 113.0,200.9 113.6,200.5 114.2,200.5 114.9,200.5 115.5,200.8 116.2,201.3 116.8,201.6 117.4,201.3 118.1,200.9 118.7,200.9 119.3,201.0 120.0,201.2 120.6,201.5 121.2,201.7 121.9,201.6 122.5,201.5 123.2,201.5 123.8,201.6 124.4,201.9 125.1,202.1 125.7,202.3 126.3,202.1 127.0,201.9" stroke="#8b8b8b" stroke-width="1.40"/>
<polyline points="32.2,242.4 32.8,241.5 33.5,240.5 34.1,240.5 34.7,240.4 35.4,239.6 36.0,238.8 36.6,238.3 37.3,237.8 37.9,237.4 38.5,236.5 39.2,235.4 39.8,235.3 40.5,235.2 41.1,234.6 41.7,233.8 42.4,233.0 43.0,232.4 43.6,232.1 44.3,231.8 44.9,231.0 45.5,230.3 46.2,230.0 46.8,229.6 47.5,229.0 48.1,228.2 48.7,227.6 49.4,227.2 50.0,226.4 50.6,225.7 51.3,225.4 51.9,224.9 52.5,224.1 53.2,223.5 53.8,223.3 54.4,222.8 55.1,222.1 55.7,221.2 56.4,220.4 57.0,219.9 57.6,219.4 58.3,218.7 58.9,217.6 59.5,216.9 60.2,216.7 60.8,216.8 61.4,216.2 62.1,215.1 62.7,214.6 63.4,214.2 64.0,213.6 64.6,213.1 65.3,212.3 65.9,211.6 66.5,211.2 67.2,210.7 67.8,210.1 68.4,209.5 69.1,208.6 69.7,207.7 70.4,207.1 71.0,206.6 71.6,206.3 72.3,206.0 72.9,204.9 73.5,204.0 74.2,203.4 74.8,202.8 75.4,202.4 76.1,201.4 76.7,200.1 77.3,199.3 78.0,199.1 78.6,198.4 79.3,197.4 79.9,196.6 80.5,195.7 81.2,195.4 81.8,195.3 82.4,194.5 83.1,194.3 83.7,194.4 84.3,194.1 85.0,193.7 85.6,193.6 86.3,193.9 86.9,194.1 87.5,193.5 88.2,192.9 88.8,192.5 89.4,192.5 90.1,192.9 90.7,193.3 91.3,193.5 92.0,193.6 92.6,193.8 93.3,194.2 93.9,194.5 94.5,194.2 95.2,193.8 95.8,193.6 96.4,194.2 97.1,194.9 97.7,195.3 98.3,195.9 99.0,196.5 99.6,196.6 100.2,196.3 100.9,196.6 101.5,197.4 102.2,197.5 102.8,197.5 103.4,197.8 104.1,198.4 104.7,199.1 105.3,199.4 106.0,199.4 106.6,199.6 107.2,200.3 107.9,200.5 108.5,200.4 109.2,200.6 109.8,200.6 110.4,200.6 111.1,200.6 111.7,200.5 112.3,200.7 113.0,201.1 113.6,201.6 114.2,201.6 114.9,201.1 115.5,200.8 116.2,200.6 116.8,200.8 117.4,201.3 118.1,201.6 118.7,201.6 119.3,201.8 120.0,202.2 120.6,202.3 121.2,202.3 121.9,202.4 122.5,202.6 123.2,202.6 123.8,202.5 124.4,202.5 125.1,202.7 125.7,203.0 126.3,202.8 127.0,202.4" stroke="#7a7a7a" stroke-width="1.40"/>
<polyline points="32.2,242.1 32.8,241.7 33.5,241.5 34.1,241.2 34.7,240.2 35.4,239.6 36.0,239.2 36.6,238.7 37.3,238.3 37.9,237.8 38.5,237.0 39.2,236.1 39.8,235.3 40.5,235.0 41.1,234.3 41.7,233.8 42.4,233.9 43.0,233.3 43.6,232.2 44.3,231.5 44.9,230.7 45.5,230.0 46.2,229.8 46.8,229.8 47.5,229.4 48.1,228.4 48.7,227.5 49.4,226.8 50.0,226.3 50.6,225.7 51.3,224.6 51.9,223.8 52.5,223.7 53.2,223.6 53.8,223.1 54.4,222.4 55.1,221.9 55.7,221.3 56.4,220.4 57.0,219.7 57.6,219.2 58.3,218.6 58.9,217.8 59.5,217.7 60.2,217.7 60.8,216.9 61.4,215.7 62.1,215.0 62.7,214.6 63.4,214.2 64.0,213.6 64.6,212.9 65.3,212.4 65.9,212.1 66.5,211.4 67.2,210.6 67.8,210.3 68.4,209.9 69.1,209.0 69.7,208.3 70.4,207.5 71.0,206.5 71.6,205.6 72.3,205.0 72.9,204.7 73.5,204.2 74.2,203.3 74.8,202.1 75.4,201.2 76.1,200.6 76.7,200.4 77.3,199.9 78.0,198.7 78.6,197.8 79.3,197.3 79.9,196.5 80.5,195.7 81.2,195.4 81.8,195.2 82.4,194.6 83.1,194.5 83.7,194.2 84.3,193.5 85.0,193.4 85.6,193.9 86.3,194.0 86.9,193.5 87.5,193.2 88.2,193.4 88.8,193.6 89.4,193.7 90.1,193.5 90.7,193.0 91.3,192.6 92.0,192.8 92.6,193.2 93.3,193.3 93.9,193.4 94.5,193.8 95.2,193.7 95.8,193.5 96.4,193.9 97.1,194.5 97.7,195.0 98.3,195.6 99.0,196.1 99.6,196.1 100.2,195.7 100.9,195.8 101.5,196.3 102.2,197.0 102.8,197.7 103.4,198.2 104.1,198.5 104.7,198.8 105.3,199.2 106.0,199.5 106.6,200.2 107.2,200.9 107.9,201.1 108.5,201.4 109.2,201.3 109.8,201.0 110.4,201.2 111.1,201.3 111.7,201.1 112.3,201.2 113.0,201.5 113.6,201.4 114.2,201.6 114.9,201.8 115.5,202.0 116.2,202.5 116.8,202.5 117.4,202.3 118.1,202.2 118.7,202.4 119.3,202.5 120.0,202.2 120.6,202.1 121.2,202.3 121.9,202.5 122.5,203.0 123.2,203.1 123.8,203.1 124.4,203.3 125.1,203.1 125.7,202.9 126.3,203.2 127.0,203.6" stroke="#696969" stroke-width="1.40"/>
<polyline points="32.2,241.5 32.8,240.9 33.5,240.6 34.1,240.3 34.7,240.1 35.4,239.9 36.0,239.3 36.6,238.4 37.3,237.7 37.9,237.3 38.5,236.7 39.2,236.3 39.8,235.7 40.5,234.8 41.1,234.1 41.7,233.9 42.4,233.6 43.0,232.9 43.6,232.0 44.3,231.0 44.9,230.6 45.5,230.4 46.2,230.0 46.8,229.6 47.5,228.8 48.1,227.9 48.7,227.2 49.4,226.7 50.0,226.4 50.6,225.6 51.3,224.9 51.9,224.8 52.5,224.4 53.2,223.6 53.8,223.0 54.4,222.3 55.1,221.5 55.7,220.9 56.4,220.3 57.0,219.7 57.6,218.7 58.3,218.1 58.9,218.0 59.5,217.7 60.2,217.1 60.8,216.2 61.4,215.6 62.1,215.3 62.7,214.7 63.4,214.3 64.0,214.0 64.6,213.1 65.3,211.9 65.9,211.3 66.5,211.1 67.2,210.5 67.8,210.0 68.4,209.8 69.1,208.7 69.7,207.6 70.4,207.2 71.0,206.7 71.6,205.9 72.3,205.4 72.9,204.5 73.5,203.5 74.2,202.8 74.8,202.2 75.4,201.6 76.1,200.8 76.7,199.9 77.3,198.9 78.0,198.3 78.6,198.2 79.3,197.8 79.9,196.5 80.5,195.6 81.2,195.6 81.8,195.5 82.4,194.9 83.1,194.3 83.7,194.2 84.3,194.0 85.0,193.4 85.6,193.1 86.3,193.1 86.9,193.3 87.5,193.0 88.2,192.5 88.8,192.4 89.4,192.9 90.1,193.3 90.7,193.1 91.3,192.8 92.0,192.8 92.6,192.8 93.3,192.8 93.9,193.0 94.5,193.1 95.2,193.5 95.8,194.1 96.4,194.0 97.1,194.1 97.7,194.9 98.3,195.3 99.0,195.3 99.6,195.8 100.2,196.6 100.9,196.9 101.5,196.7 102.2,196.7 102.8,197.1 103.4,197.6 104.1,198.2 104.7,198.9 105.3,199.4 106.0,199.7 106.6,199.9 107.2,199.9 107.9,200.3 108.5,200.8 109.2,201.0 109.8,201.5 110.4,202.1 111.1,202.3 111.7,202.4 112.3,202.2 113.0,202.1 113.6,202.2 114.2,202.2 114.9,202.4 115.5,202.7 116.2,202.9 116.8,202.9 117.4,203.0 118.1,203.1 118.7,203.0 119.3,203.2 120.0,203.8 120.6,204.0 121.2,203.6 121.9,203.4 122.5,203.3 123.2,203.2 123.8,203.2 124.4,203.4 125.1,203.9 125.7,204.2 126.3,204.3 127.0,204.2" stroke="#585858" stroke-width="1.40"/>
<polyline points="32.2,241.7 32.8,241.4 33.5,241.1 34.1,240.5 34.7,239.9 35.4,239.4 36.0,238.9 36.6,238.5 37.3,238.2 37.9,237.7 38.5,236.8 39.2,236.1 39.8,235.7 40.5,234.9 41.1,234.0 41.7,233.8 42.4,233.4 43.0,232.8 43.6,232.3 44.3,231.4 44.9,230.3 45.5,229.7 46.2,229.3 46.8,228.8 47.5,228.3 48.1,227.7 48.7,227.3 49.4,226.9 50.0,226.1 50.6,225.3 51.3,224.7 51.9,224.5 52.5,224.1 53.2,222.9 53.8,221.7 54.4,221.5 55.1,221.5 55.7,221.2 56.4,220.5 57.0,219.9 57.6,219.2 58.3,218.5 58.9,217.6 59.5,217.2 60.2,217.2 60.8,216.5 61.4,216.0 62.1,215.6 62.7,214.9 63.4,213.9 64.0,213.3 64.6,212.9 65.3,211.8 65.9,210.8 66.5,210.5 67.2,210.2 67.8,209.9 68.4,209.5 69.1,208.6 69.7,207.8 70.4,206.7 71.0,205.7 71.6,205.3 72.3,204.7 72.9,204.1 73.5,204.0 74.2,203.5 74.8,202.5 75.4,201.6 76.1,200.6 76.7,199.7 77.3,198.6 78.0,197.7 78.6,197.4 79.3,196.9 79.9,196.0 80.5,195.4 81.2,195.1 81.8,194.5 82.4,194.0 83.1,193.6 83.7,193.2 84.3,193.2 85.0,193.4 85.6,193.4 86.3,193.2 86.9,193.0 87.5,192.9 88.2,192.6 88.8,192.3 89.4,192.3 90.1,192.6 90.7,192.6 91.3,192.2 92.0,192.2 92.6,192.3 93.3,192.5 93.9,192.5 94.5,192.5 95.2,192.8 95.8,193.4 96.4,194.0 97.1,194.2 97.7,194.6 98.3,195.0 99.0,195.2 99.6,195.3 100.2,195.7 100.9,196.6 101.5,197.0 102.2,197.1 102.8,197.3 103.4,197.8 104.1,198.3 104.7,198.7 105.3,198.9 106.0,199.3 106.6,200.0 107.2,200.6 107.9,201.1 108.5,201.1 109.2,201.2 109.8,201.6 110.4,202.1 111.1,202.9 111.7,203.4 112.3,203.2 113.0,202.9 113.6,202.7 114.2,202.7 114.9,202.7 115.5,202.8 116.2,203.2 116.8,203.7 117.4,203.4 118.1,203.2 118.7,203.8 119.3,203.7 120.0,203.3 120.6,203.6 121.2,204.1 121.9,204.0 122.5,203.7 123.2,203.9 123.8,204.2 124.4,204.2 125.1,204.0 125.7,203.9 126.3,204.0 127.0,204.4" stroke="#464646" stroke-width="1.40"/>
<polyline points="32.2,242.2 32.8,241.4 33.5,240.5 34.1,240.1 34.7,239.6 35.4,239.0 36.0,238.9 36.6,238.5 37.3,238.0 37.9,237.5 38.5,236.6 39.2,235.9 39.8,235.8 40.5,235.5 41.1,234.9 41.7,234.0 42.4,233.3 43.0,232.8 43.6,232.3 44.3,231.6 44.9,230.7 45.5,230.1 46.2,229.5 46.8,228.9 47.5,228.7 48.1,228.3 48.7,227.3 49.4,226.4 50.0,226.1 50.6,226.2 51.3,226.0 51.9,225.3 52.5,224.2 53.2,223.0 53.8,222.4 54.4,222.0 55.1,221.3 55.7,220.7 56.4,220.2 57.0,219.6 57.6,219.3 58.3,219.2 58.9,218.2 59.5,217.1 60.2,216.7 60.8,216.4 61.4,215.9 62.1,215.1 62.7,214.3 63.4,213.9 64.0,214.0 64.6,213.7 65.3,212.9 65.9,212.4 66.5,211.6 67.2,210.3 67.8,209.7 68.4,209.5 69.1,208.6 69.7,207.8 70.4,207.3 71.0,206.7 71.6,206.3 72.3,205.8 72.9,205.0 73.5,203.9 74.2,202.9 74.8,202.4 75.4,201.9 76.1,200.9 76.7,199.9 77.3,199.0 78.0,198.2 78.6,197.8 79.3,197.3 79.9,196.4 80.5,195.6 81.2,195.0 81.8,194.1 82.4,193.6 83.1,193.7 83.7,193.5 84.3,193.1 85.0,193.3 85.6,193.5 86.3,193.2 86.9,192.7 87.5,192.5 88.2,192.5 88.8,192.3 89.4,191.9 90.1,192.1 90.7,192.5 91.3,192.4 92.0,192.2 92.6,192.3 93.3,192.7 93.9,193.0 94.5,193.4 95.2,193.7 95.8,193.7 96.4,193.8 97.1,194.1 97.7,194.7 98.3,195.1 99.0,195.6 99.6,195.8 100.2,195.8 100.9,196.1 101.5,196.6 102.2,197.2 102.8,197.7 103.4,198.3 104.1,198.7 104.7,198.9 105.3,199.1 106.0,199.6 106.6,200.0 107.2,200.3 107.9,200.7 108.5,201.0 109.2,201.4 109.8,202.0 110.4,202.4 111.1,202.7 111.7,202.8 112.3,202.7 113.0,202.5 113.6,202.8 114.2,203.3 114.9,203.7 115.5,203.6 116.2,203.3 116.8,203.3 117.4,203.7 118.1,203.8 118.7,203.9 119.3,204.1 120.0,204.1 120.6,203.7 121.2,203.8 121.9,204.2 122.5,204.7 123.2,204.9 123.8,204.8 124.4,204.8 125.1,205.0 125.7,205.1 126.3,205.2 127.0,205.1" stroke="#333333" stroke-width="1.40"/>
<polyline points="32.2,241.6 32.8,241.1 33.5,241.0 34.1,241.1 34.7,240.8 35.4,240.3 36.0,239.4 36.6,238.5 37.3,237.9 37.9,237.5 38.5,237.0 39.2,236.6 39.8,236.3 40.5,235.7 41.1,234.7 41.7,233.8 42.4,233.3 43.0,232.4 43.6,231.6 44.3,231.4 44.9,231.0 45.5,230.5 46.2,229.7 46.8,229.0 47.5,228.3 48.1,227.5 48.7,226.9 49.4,226.5 50.0,226.1 50.6,225.5 51.3,225.1 51.9,224.6 52.5,223.8 53.2,223.2 53.8,222.6 54.4,221.7 55.1,221.6 55.7,221.2 56.4,220.6 57.0,220.3 57.6,219.8 58.3,219.2 58.9,218.4 59.5,217.5 60.2,216.6 60.8,215.7 61.4,215.1 62.1,214.5 62.7,214.2 63.4,213.7 64.0,213.1 64.6,212.7 65.3,212.1 65.9,211.1 66.5,210.5 67.2,210.1 67.8,209.4 68.4,209.0 69.1,208.8 69.7,208.3 70.4,207.5 71.0,206.7 71.6,205.7 72.3,204.6 72.9,204.0 73.5,203.6 74.2,203.0 74.8,202.3 75.4,201.3 76.1,200.3 76.7,199.8 77.3,199.5 78.0,198.5 78.6,197.3 79.3,196.4 79.9,195.7 80.5,195.3 81.2,194.7 81.8,194.2 82.4,193.8 83.1,193.4 83.7,193.3 84.3,193.2 85.0,193.2 85.6,193.3 86.3,193.1 86.9,192.6 87.5,192.6 88.2,192.9 88.8,192.7 89.4,192.1 90.1,191.5 90.7,191.4 91.3,191.9 92.0,192.5 92.6,192.4 93.3,192.2 93.9,192.3 94.5,192.6 95.2,192.7 95.8,192.6 96.4,192.9 97.1,193.8 97.7,194.2 98.3,194.2 99.0,194.6 99.6,194.8 100.2,195.1 100.9,196.0 101.5,196.5 102.2,196.8 102.8,197.2 103.4,197.4 104.1,197.6 104.7,198.3 105.3,199.0 106.0,199.4 106.6,200.2 107.2,200.5 107.9,200.6 108.5,201.5 109.2,202.2 109.8,202.6 110.4,203.3 111.1,203.6 111.7,203.3 112.3,203.4 113.0,203.7 113.6,203.8 114.2,204.0 114.9,204.1 115.5,203.6 116.2,203.1 116.8,203.4 117.4,204.1 118.1,204.6 118.7,204.8 119.3,204.8 120.0,204.7 120.6,204.8 121.2,205.1 121.9,205.2 122.5,205.6 123.2,205.7 123.8,205.6 124.4,205.9 125.1,206.1 125.7,205.9 126.3,205.8 127.0,205.7" stroke="#1e1e1e" stroke-width="1.80"/>
<polyline points="32.2,241.6 32.8,241.3 33.5,241.0 34.1,240.5 34.7,240.1 35.4,239.9 36.0,239.4 36.6,238.9 37.3,238.5 37.9,237.7 38.5,236.9 39.2,236.0 39.8,235.6 40.5,235.6 41.1,234.5 41.7,233.3 42.4,232.6 43.0,232.2 43.6,232.1 44.3,232.0 44.9,231.3 45.5,230.2 46.2,229.5 46.8,229.2 47.5,228.7 48.1,228.1 48.7,227.8 49.4,226.9 50.0,225.5 50.6,224.8 51.3,224.5 51.9,224.0 52.5,223.8 53.2,223.8 53.8,223.2 54.4,222.1 55.1,221.1 55.7,220.2 56.4,219.9 57.0,219.8 57.6,219.4 58.3,218.4 58.9,217.8 59.5,217.7 60.2,217.2 60.8,216.1 61.4,215.3 62.1,215.0 62.7,214.4 63.4,213.5 64.0,212.9 64.6,212.2 65.3,211.6 65.9,211.3 66.5,211.1 67.2,210.8 67.8,210.5 68.4,209.5 69.1,208.3 69.7,207.7 70.4,207.3 71.0,206.7 71.6,206.2 72.3,205.1 72.9,203.9 73.5,203.2 74.2,202.6 74.8,201.4 75.4,200.5 76.1,200.1 76.7,199.6 77.3,199.4 78.0,198.7 78.6,197.4 79.3,196.4 79.9,195.8 80.5,195.2 81.2,194.5 81.8,193.6 82.4,193.1 83.1,193.5 83.7,193.5 84.3,192.8 85.0,192.4 85.6,192.3 86.3,192.0 86.9,191.7 87.5,191.8 88.2,192.2 88.8,192.5 89.4,192.4 90.1,192.1 90.7,191.8 91.3,191.8 92.0,191.8 92.6,191.8 93.3,192.3 93.9,192.5 94.5,192.7 95.2,192.9 95.8,192.9 96.4,193.1 97.1,193.4 97.7,193.5 98.3,194.1 99.0,194.8 99.6,195.5 100.2,196.1 100.9,196.3 101.5,196.5 102.2,196.8 102.8,197.4 103.4,198.4 104.1,199.1 104.7,199.2 105.3,199.2 106.0,199.8 106.6,200.6 107.2,201.0 107.9,201.2 108.5,201.7 109.2,202.5 109.8,203.0 110.4,203.0 111.1,203.0 111.7,203.2 112.3,203.3 113.0,203.7 113.6,203.9 114.2,203.8 114.9,203.9 115.5,204.2 116.2,204.4 116.8,204.5 117.4,204.4 118.1,204.4 118.7,204.5 119.3,204.8 120.0,205.4 120.6,205.4 121.2,205.2 121.9,205.8 122.5,206.1 123.2,205.6 123.8,205.8 124.4,206.1 125.1,206.1 125.7,206.5 126.3,206.7 127.0,206.4" stroke="#000000" stroke-width="1.80"/>
</g>
<path d="M27.0 238.5v-1.1M27.0 179.0v1.1M47.7 238.5v-1.1M47.7 179.0v1.1M68.5 238.5v-1.1M68.5 179.0v1.1M89.2 238.5v-1.1M89.2 179.0v1.1M110.0 238.5v-1.1M110.0 179.0v1.1M130.7 238.5v-1.1M130.7 179.0v1.1M27.0 238.5h1.1M130.7 238.5h-1.1M27.0 223.6h1.1M130.7 223.6h-1.1M27.0 208.8h1.1M130.7 208.8h-1.1M27.0 193.9h1.1M130.7 193.9h-1.1M27.0 179.0h1.1M130.7 179.0h-1.1" stroke="#9c9c9c" stroke-width="0.6" fill="none"/>
<rect x="27.0" y="179.0" width="103.7" height="59.5" fill="none" stroke="#9c9c9c" stroke-width="0.9"/>
<text x="27.0" y="246.3" text-anchor="middle" class="tk">9</text>
<text x="47.7" y="246.3" text-anchor="middle" class="tk">10</text>
<text x="68.5" y="246.3" text-anchor="middle" class="tk">11</text>
<text x="89.2" y="246.3" text-anchor="middle" class="tk">12</text>
<text x="110.0" y="246.3" text-anchor="middle" class="tk">13</text>
<text x="130.7" y="246.3" text-anchor="middle" class="tk">14</text>
<text x="24.9" y="240.4" text-anchor="end" class="tk">0.25</text>
<text x="24.9" y="225.6" text-anchor="end" class="tk">0.3</text>
<text x="24.9" y="210.7" text-anchor="end" class="tk">0.35</text>
<text x="24.9" y="195.8" text-anchor="end" class="tk">0.4</text>
<text x="24.9" y="180.9" text-anchor="end" class="tk">0.45</text>
<text x="31.2" y="188.8" class="tt">(c) B-ASB-J3</text>
<text transform="translate(11.6 208.8) rotate(-90)" text-anchor="middle" class="yl">z [m]</text>
</g>
<g>
<rect x="27.0" y="262.4" width="103.7" height="59.5" fill="#fff"/>
<path d="M47.7 262.4V321.9M68.5 262.4V321.9M89.2 262.4V321.9M110.0 262.4V321.9M27.0 307.0H130.7M27.0 292.1H130.7M27.0 277.3H130.7" stroke="#e4e4e4" stroke-width="0.7" fill="none"/>
<clipPath id="c4"><rect x="27.0" y="262.4" width="103.7" height="59.5"/></clipPath>
<g clip-path="url(#c4)" fill="none" stroke-linejoin="round" stroke-linecap="round">
<polyline points="30.1,325.5 30.8,325.5 31.4,325.3 32.1,324.3 32.7,323.1 33.4,323.0 34.0,323.3 34.7,323.0 35.3,322.3 36.0,321.4 36.6,320.2 37.3,319.5 37.9,319.5 38.6,318.7 39.2,317.9 39.9,317.7 40.5,317.2 41.2,316.4 41.8,315.5 42.5,314.8 43.1,314.4 43.8,313.5 44.4,312.6 45.1,311.8 45.7,311.0 46.4,310.4 47.0,309.8 47.7,309.3 48.3,309.2 49.0,308.9 49.6,307.9 50.3,306.8 50.9,306.5 51.6,306.9 52.2,306.2 52.9,305.3 53.5,305.2 54.2,304.2 54.8,302.7 55.5,302.4 56.1,302.4 56.8,301.5 57.4,300.6 58.1,300.4 58.7,300.1 59.4,299.9 60.0,299.8 60.7,299.0 61.3,298.0 62.0,297.1 62.6,296.5 63.3,296.9 63.9,297.2 64.6,296.1 65.2,294.8 65.9,294.2 66.5,293.9 67.2,293.3 67.8,292.5 68.5,292.0 69.1,291.6 69.8,291.3 70.4,290.7 71.1,290.0 71.7,290.0 72.4,289.2 73.0,287.8 73.7,287.0 74.3,286.2 75.0,285.7 75.6,284.8 76.3,283.8 76.9,283.8 77.6,284.3 78.2,284.5 78.9,284.3 79.5,283.7 80.2,283.6 80.8,284.1 81.5,284.2 82.1,284.3 82.8,284.7 83.4,284.7 84.1,284.5 84.7,284.4 85.4,284.2 86.0,284.3 86.7,283.9 87.3,283.0 88.0,282.7 88.6,282.9 89.3,282.9 89.9,282.8 90.6,282.5 91.2,282.2 91.9,282.2 92.5,283.1 93.2,283.6 93.8,284.5 94.5,285.7 95.1,285.4 95.8,284.4 96.4,284.2 97.1,284.4 97.7,284.0 98.4,284.0 99.0,284.2 99.7,283.5 100.3,282.9 101.0,283.4 101.6,283.5 102.3,282.9 102.9,282.9 103.6,283.1 104.2,283.0 104.9,282.7 105.5,282.0 106.2,281.2 106.8,280.5 107.5,280.0 108.1,279.7 108.8,279.1 109.4,278.7 110.1,278.4 110.7,278.1 111.4,279.0 112.0,279.6 112.7,279.3 113.3,279.4 114.0,280.0 114.6,280.3 115.3,280.2 115.9,280.1 116.6,280.5 117.2,281.0 117.9,281.0 118.5,281.0 119.2,281.9 119.8,283.2 120.5,283.3 121.1,283.0 121.8,282.9 122.4,282.7 123.1,282.6 123.7,282.9 124.4,283.4 125.0,283.3 125.7,283.1 126.3,283.6 127.0,283.7" stroke="#ebebeb" stroke-width="1.20"/>
<polyline points="30.1,325.1 30.8,325.4 31.4,325.6 32.1,324.7 32.7,323.9 33.4,323.1 34.0,322.1 34.7,321.7 35.3,321.3 36.0,320.5 36.6,319.9 37.3,319.5 37.9,318.8 38.6,318.3 39.2,318.0 39.9,317.4 40.5,316.9 41.2,316.6 41.8,315.8 42.5,314.5 43.1,314.0 43.8,313.6 44.4,313.0 45.1,312.3 45.7,311.7 46.4,311.2 47.0,310.6 47.7,309.8 48.3,309.2 49.0,308.8 49.6,308.9 50.3,308.2 50.9,306.9 51.6,306.5 52.2,306.1 52.9,305.6 53.5,305.1 54.2,304.9 54.8,304.6 55.5,303.9 56.1,302.8 56.8,301.7 57.4,301.1 58.1,300.7 58.7,299.9 59.4,300.1 60.0,300.6 60.7,299.7 61.3,297.9 62.0,297.4 62.6,297.4 63.3,297.0 63.9,296.1 64.6,294.9 65.2,294.1 65.9,293.5 66.5,293.8 67.2,293.8 67.8,292.6 68.5,291.9 69.1,291.2 69.8,290.2 70.4,289.6 71.1,289.0 71.7,288.7 72.4,288.2 73.0,287.4 73.7,286.6 74.3,285.4 75.0,284.7 75.6,284.3 76.3,283.7 76.9,283.3 77.6,283.1 78.2,282.9 78.9,282.8 79.5,282.9 80.2,283.0 80.8,282.7 81.5,282.5 82.1,282.8 82.8,282.7 83.4,282.3 84.1,282.0 84.7,281.9 85.4,281.4 86.0,280.7 86.7,281.2 87.3,281.7 88.0,281.0 88.6,280.4 89.3,280.2 89.9,279.9 90.6,279.7 91.2,280.0 91.9,280.4 92.5,280.7 93.2,280.8 93.8,280.6 94.5,280.5 95.1,280.8 95.8,281.1 96.4,281.2 97.1,281.5 97.7,282.3 98.4,282.6 99.0,282.6 99.7,282.7 100.3,283.1 101.0,283.6 101.6,283.8 102.3,283.6 102.9,283.7 103.6,284.1 104.2,283.8 104.9,283.1 105.5,282.4 106.2,282.4 106.8,282.5 107.5,282.1 108.1,281.8 108.8,281.3 109.4,280.7 110.1,280.7 110.7,280.5 111.4,280.5 112.0,280.7 112.7,280.1 113.3,279.7 114.0,280.1 114.6,280.3 115.3,279.9 115.9,279.8 116.6,279.7 117.2,279.3 117.9,279.8 118.5,280.7 119.2,280.9 119.8,280.7 120.5,280.9 121.1,281.3 121.8,281.4 122.4,282.0 123.1,283.2 123.7,283.8 124.4,283.9 125.0,283.4 125.7,282.9 126.3,283.3 127.0,283.9" stroke="#dadada" stroke-width="1.20"/>
<polyline points="30.1,325.8 30.8,325.3 31.4,325.2 32.1,324.8 32.7,324.5 33.4,324.3 34.0,323.3 34.7,322.5 35.3,322.4 36.0,322.4 36.6,322.0 37.3,321.1 37.9,320.1 38.6,319.3 39.2,318.3 39.9,317.0 40.5,316.6 41.2,316.8 41.8,316.1 42.5,314.8 43.1,314.2 43.8,313.2 44.4,312.5 45.1,312.6 45.7,312.2 46.4,311.5 47.0,311.1 47.7,310.6 48.3,309.5 49.0,308.6 49.6,308.3 50.3,307.9 50.9,307.6 51.6,306.8 52.2,306.1 52.9,306.1 53.5,305.4 54.2,304.4 54.8,303.9 55.5,302.8 56.1,302.0 56.8,301.9 57.4,301.6 58.1,301.1 58.7,300.2 59.4,299.4 60.0,298.7 60.7,297.8 61.3,297.1 62.0,296.5 62.6,296.5 63.3,296.5 63.9,295.6 64.6,295.1 65.2,294.7 65.9,293.6 66.5,292.9 67.2,292.7 67.8,292.4 68.5,291.7 69.1,290.9 69.8,290.4 70.4,290.2 71.1,289.6 71.7,288.5 72.4,288.3 73.0,288.3 73.7,287.3 74.3,286.1 75.0,285.1 75.6,284.5 76.3,283.9 76.9,283.0 77.6,282.0 78.2,281.4 78.9,281.5 79.5,281.9 80.2,281.9 80.8,281.6 81.5,281.1 82.1,280.9 82.8,281.5 83.4,281.6 84.1,281.4 84.7,281.4 85.4,281.3 86.0,281.4 86.7,281.5 87.3,281.0 88.0,281.0 88.6,281.6 89.3,281.7 89.9,281.5 90.6,281.6 91.2,281.6 91.9,281.1 92.5,280.9 93.2,281.1 93.8,281.1 94.5,280.4 95.1,280.5 95.8,281.4 96.4,281.4 97.1,281.2 97.7,281.6 98.4,281.7 99.0,282.1 99.7,282.8 100.3,283.5 101.0,284.3 101.6,284.9 102.3,284.7 102.9,283.6 103.6,283.2 104.2,283.7 104.9,284.0 105.5,283.7 106.2,283.0 106.8,282.1 107.5,281.4 108.1,280.8 108.8,280.1 109.4,279.8 110.1,280.0 110.7,279.6 111.4,278.7 112.0,278.4 112.7,278.4 113.3,277.5 114.0,277.2 114.6,277.8 115.3,277.9 115.9,277.5 116.6,277.3 117.2,278.0 117.9,278.7 118.5,279.3 119.2,280.0 119.8,279.9 120.5,279.7 121.1,280.3 121.8,280.8 122.4,281.3 123.1,281.9 123.7,282.7 124.4,283.5 125.0,283.6 125.7,283.3 126.3,282.6 127.0,282.5" stroke="#cccccc" stroke-width="1.20"/>
<polyline points="30.1,325.8 30.8,325.9 31.4,325.6 32.1,324.6 32.7,323.6 33.4,323.3 34.0,323.3 34.7,322.8 35.3,321.9 36.0,321.3 36.6,321.0 37.3,320.0 37.9,319.1 38.6,318.5 39.2,317.5 39.9,316.9 40.5,316.7 41.2,316.2 41.8,315.9 42.5,315.6 43.1,315.0 43.8,314.2 44.4,313.2 45.1,312.4 45.7,311.6 46.4,311.5 47.0,311.7 47.7,310.9 48.3,310.1 49.0,309.3 49.6,308.6 50.3,307.5 50.9,306.9 51.6,306.9 52.2,306.2 52.9,305.7 53.5,305.4 54.2,304.3 54.8,303.5 55.5,303.3 56.1,302.2 56.8,300.8 57.4,301.1 58.1,301.7 58.7,300.9 59.4,299.9 60.0,299.2 60.7,298.7 61.3,298.1 62.0,297.3 62.6,296.9 63.3,296.8 63.9,296.1 64.6,295.0 65.2,293.9 65.9,293.4 66.5,293.1 67.2,292.5 67.8,291.4 68.5,290.6 69.1,290.5 69.8,289.9 70.4,289.3 71.1,289.0 71.7,288.2 72.4,287.4 73.0,286.8 73.7,285.7 74.3,284.6 75.0,284.0 75.6,283.8 76.3,282.8 76.9,282.1 77.6,282.5 78.2,282.4 78.9,281.8 79.5,281.8 80.2,281.7 80.8,281.5 81.5,281.1 82.1,281.0 82.8,281.2 83.4,281.3 84.1,281.2 84.7,281.2 85.4,281.2 86.0,281.0 86.7,280.1 87.3,279.2 88.0,278.9 88.6,279.4 89.3,279.7 89.9,279.5 90.6,279.7 91.2,279.5 91.9,279.4 92.5,280.1 93.2,280.3 93.8,280.5 94.5,281.2 95.1,281.6 95.8,281.7 96.4,281.8 97.1,281.6 97.7,282.1 98.4,283.2 99.0,283.6 99.7,283.7 100.3,284.2 101.0,284.4 101.6,284.1 102.3,284.5 102.9,285.1 103.6,285.0 104.2,284.8 104.9,285.4 105.5,285.2 106.2,284.0 106.8,283.8 107.5,284.4 108.1,284.0 108.8,283.1 109.4,283.0 110.1,282.7 110.7,282.3 111.4,282.4 112.0,283.2 112.7,283.4 113.3,282.3 114.0,281.3 114.6,281.5 115.3,281.7 115.9,281.0 116.6,280.7 117.2,281.1 117.9,281.4 118.5,281.3 119.2,281.3 119.8,281.7 120.5,282.2 121.1,282.7 121.8,283.3 122.4,283.6 123.1,283.7 123.7,283.9 124.4,283.9 125.0,283.7 125.7,283.5 126.3,283.9 127.0,284.5" stroke="#bdbdbd" stroke-width="1.20"/>
<polyline points="30.1,325.7 30.8,325.8 31.4,325.6 32.1,324.8 32.7,323.5 33.4,323.0 34.0,323.3 34.7,323.0 35.3,322.2 36.0,321.1 36.6,320.4 37.3,320.7 37.9,320.5 38.6,319.3 39.2,318.2 39.9,317.4 40.5,316.2 41.2,315.4 41.8,315.5 42.5,315.7 43.1,315.2 43.8,313.9 44.4,312.9 45.1,312.3 45.7,311.5 46.4,310.8 47.0,310.0 47.7,309.9 48.3,310.0 49.0,309.7 49.6,309.4 50.3,308.7 50.9,307.2 51.6,305.7 52.2,305.0 52.9,305.0 53.5,305.1 54.2,304.4 54.8,303.3 55.5,302.7 56.1,302.4 56.8,301.5 57.4,301.2 58.1,301.1 58.7,300.0 59.4,299.3 60.0,299.0 60.7,298.1 61.3,296.7 62.0,295.7 62.6,295.6 63.3,296.0 63.9,295.5 64.6,294.6 65.2,294.5 65.9,294.3 66.5,293.3 67.2,291.7 67.8,290.8 68.5,290.6 69.1,290.4 69.8,290.0 70.4,289.3 71.1,288.5 71.7,287.7 72.4,286.9 73.0,286.5 73.7,285.9 74.3,284.7 75.0,284.0 75.6,283.5 76.3,283.5 76.9,283.4 77.6,282.7 78.2,282.1 78.9,281.8 79.5,282.2 80.2,282.2 80.8,281.2 81.5,280.5 82.1,280.7 82.8,280.6 83.4,280.3 84.1,280.5 84.7,280.7 85.4,280.6 86.0,280.4 86.7,280.2 87.3,280.5 88.0,280.4 88.6,280.7 89.3,281.6 89.9,281.8 90.6,281.6 91.2,281.4 91.9,281.6 92.5,281.8 93.2,281.3 93.8,281.0 94.5,281.6 95.1,282.1 95.8,281.9 96.4,281.7 97.1,281.6 97.7,281.5 98.4,281.6 99.0,281.7 99.7,282.1 100.3,283.2 101.0,283.3 101.6,283.1 102.3,283.5 102.9,283.8 103.6,284.3 104.2,284.9 104.9,285.4 105.5,285.5 106.2,285.1 106.8,284.5 107.5,283.2 108.1,281.9 108.8,281.9 109.4,282.1 110.1,281.6 110.7,281.2 111.4,281.0 112.0,281.4 112.7,282.0 113.3,281.8 114.0,281.7 114.6,282.2 115.3,283.1 115.9,283.9 116.6,283.3 117.2,282.8 117.9,283.8 118.5,284.2 119.2,283.9 119.8,283.7 120.5,284.3 121.1,285.4 121.8,285.5 122.4,285.6 123.1,286.4 123.7,286.2 124.4,285.5 125.0,285.6 125.7,286.7 126.3,287.6 127.0,287.1" stroke="#afafaf" stroke-width="1.20"/>
<polyline points="30.1,325.8 30.8,325.6 31.4,324.6 32.1,323.5 32.7,323.9 33.4,324.1 34.0,323.4 34.7,322.9 35.3,322.5 36.0,321.7 36.6,320.8 37.3,320.5 37.9,320.4 38.6,319.4 39.2,318.5 39.9,317.8 40.5,316.8 41.2,316.3 41.8,316.2 42.5,315.0 43.1,313.5 43.8,313.0 44.4,312.9 45.1,312.5 45.7,312.5 46.4,312.1 47.0,310.8 47.7,309.9 48.3,309.3 49.0,308.8 49.6,308.3 50.3,307.8 50.9,306.9 51.6,306.1 52.2,305.6 52.9,305.4 53.5,305.4 54.2,304.5 54.8,302.7 55.5,301.9 56.1,301.9 56.8,301.9 57.4,301.5 58.1,300.4 58.7,299.8 59.4,299.6 60.0,298.6 60.7,297.7 61.3,297.4 62.0,297.1 62.6,296.6 63.3,295.8 63.9,294.7 64.6,294.3 65.2,294.0 65.9,292.7 66.5,292.0 67.2,291.6 67.8,290.9 68.5,290.7 69.1,290.0 69.8,289.5 70.4,289.4 71.1,288.3 71.7,287.4 72.4,287.1 73.0,286.5 73.7,285.7 74.3,285.3 75.0,284.7 75.6,283.9 76.3,283.0 76.9,282.1 77.6,282.2 78.2,282.3 78.9,281.7 79.5,281.1 80.2,280.6 80.8,280.4 81.5,280.7 82.1,280.7 82.8,280.2 83.4,279.6 84.1,279.6 84.7,280.3 85.4,280.3 86.0,279.1 86.7,278.8 87.3,279.2 88.0,279.4 88.6,279.8 89.3,280.0 89.9,279.7 90.6,279.6 91.2,279.8 91.9,279.9 92.5,279.4 93.2,279.0 93.8,279.0 94.5,279.4 95.1,279.7 95.8,279.3 96.4,279.0 97.1,279.5 97.7,279.5 98.4,279.1 99.0,279.3 99.7,279.7 100.3,280.2 101.0,280.9 101.6,282.0 102.3,283.2 102.9,283.7 103.6,284.3 104.2,285.1 104.9,286.2 105.5,286.7 106.2,286.1 106.8,285.2 107.5,284.2 108.1,283.3 108.8,282.7 109.4,282.3 110.1,282.2 110.7,282.4 111.4,282.6 112.0,282.1 112.7,281.6 113.3,282.1 114.0,282.7 114.6,282.7 115.3,282.5 115.9,282.6 116.6,283.3 117.2,283.6 117.9,283.5 118.5,283.7 119.2,283.6 119.8,283.3 120.5,283.1 121.1,283.2 121.8,284.1 122.4,285.1 123.1,285.8 123.7,285.8 124.4,286.0 125.0,286.3 125.7,285.9 126.3,285.3 127.0,285.1" stroke="#a0a0a0" stroke-width="1.20"/>
<polyline points="30.1,325.9 30.8,325.6 31.4,325.3 32.1,325.0 32.7,324.5 33.4,323.1 34.0,321.9 34.7,321.5 35.3,321.4 36.0,320.8 36.6,320.0 37.3,319.5 37.9,318.8 38.6,318.4 39.2,318.0 39.9,317.1 40.5,316.4 41.2,315.9 41.8,315.3 42.5,314.9 43.1,314.4 43.8,313.7 44.4,313.2 45.1,312.8 45.7,312.5 46.4,312.3 47.0,311.5 47.7,310.5 48.3,309.5 49.0,308.9 49.6,308.8 50.3,308.5 50.9,308.2 51.6,307.5 52.2,306.8 52.9,306.7 53.5,305.9 54.2,304.4 54.8,303.4 55.5,303.0 56.1,302.1 56.8,301.0 57.4,300.8 58.1,300.4 58.7,299.2 59.4,298.7 60.0,298.3 60.7,297.5 61.3,296.9 62.0,296.4 62.6,296.1 63.3,295.7 63.9,294.7 64.6,294.2 65.2,294.2 65.9,293.3 66.5,292.3 67.2,291.7 67.8,291.1 68.5,290.3 69.1,290.1 69.8,289.8 70.4,288.5 71.1,287.3 71.7,286.4 72.4,285.6 73.0,285.2 73.7,284.4 74.3,283.7 75.0,283.2 75.6,282.0 76.3,281.2 76.9,280.8 77.6,280.3 78.2,280.5 78.9,280.7 79.5,280.1 80.2,279.6 80.8,279.5 81.5,279.0 82.1,278.5 82.8,278.5 83.4,278.6 84.1,278.2 84.7,278.0 85.4,278.5 86.0,278.7 86.7,278.7 87.3,278.6 88.0,278.1 88.6,277.5 89.3,277.2 89.9,277.4 90.6,277.6 91.2,277.5 91.9,277.7 92.5,278.1 93.2,278.1 93.8,278.1 94.5,278.4 95.1,278.6 95.8,278.6 96.4,278.7 97.1,278.6 97.7,278.3 98.4,278.4 99.0,279.0 99.7,279.7 100.3,280.8 101.0,282.2 101.6,283.6 102.3,285.1 102.9,286.3 103.6,286.3 104.2,286.1 104.9,286.9 105.5,286.7 106.2,286.2 106.8,285.7 107.5,284.3 108.1,283.1 108.8,282.5 109.4,282.1 110.1,282.6 110.7,283.1 111.4,283.0 112.0,283.2 112.7,283.7 113.3,283.0 114.0,282.0 114.6,282.3 115.3,282.7 115.9,282.6 116.6,282.6 117.2,282.9 117.9,283.6 118.5,284.4 119.2,285.0 119.8,285.0 120.5,284.5 121.1,284.2 121.8,284.6 122.4,285.2 123.1,286.2 123.7,287.3 124.4,288.0 125.0,288.3 125.7,288.5 126.3,287.7 127.0,286.8" stroke="#919191" stroke-width="1.20"/>
<polyline points="30.1,325.5 30.8,325.1 31.4,325.3 32.1,325.3 32.7,324.6 33.4,323.6 34.0,322.3 34.7,321.7 35.3,322.0 36.0,321.8 36.6,321.1 37.3,320.7 37.9,320.2 38.6,319.2 39.2,318.2 39.9,317.8 40.5,317.6 41.2,317.2 41.8,316.4 42.5,315.5 43.1,314.9 43.8,314.4 44.4,313.7 45.1,313.3 45.7,313.0 46.4,312.1 47.0,310.5 47.7,309.8 48.3,309.1 49.0,308.1 49.6,307.9 50.3,307.6 50.9,306.8 51.6,305.9 52.2,305.4 52.9,305.1 53.5,304.6 54.2,303.7 54.8,303.3 55.5,303.4 56.1,302.7 56.8,301.8 57.4,301.5 58.1,301.0 58.7,299.9 59.4,299.3 60.0,298.8 60.7,298.4 61.3,298.0 62.0,297.4 62.6,296.9 63.3,296.1 63.9,295.0 64.6,294.1 65.2,293.4 65.9,292.4 66.5,291.3 67.2,291.2 67.8,291.4 68.5,290.9 69.1,290.1 69.8,289.3 70.4,288.8 71.1,287.8 71.7,286.4 72.4,285.9 73.0,285.7 73.7,285.0 74.3,284.0 75.0,282.8 75.6,282.0 76.3,282.1 76.9,282.4 77.6,281.3 78.2,279.7 78.9,279.2 79.5,279.8 80.2,280.1 80.8,279.4 81.5,279.3 82.1,279.4 82.8,278.5 83.4,277.2 84.1,276.7 84.7,277.1 85.4,277.1 86.0,276.8 86.7,277.3 87.3,277.9 88.0,277.6 88.6,277.0 89.3,276.7 89.9,276.8 90.6,277.1 91.2,277.3 91.9,277.7 92.5,277.9 93.2,277.2 93.8,277.0 94.5,277.5 95.1,277.6 95.8,277.2 96.4,276.9 97.1,277.3 97.7,277.9 98.4,278.8 99.0,279.8 99.7,280.4 100.3,281.1 101.0,282.2 101.6,283.0 102.3,283.7 102.9,284.6 103.6,285.5 104.2,286.3 104.9,287.2 105.5,287.7 106.2,288.1 106.8,287.7 107.5,286.6 108.1,285.7 108.8,285.0 109.4,284.4 110.1,284.3 110.7,284.8 111.4,285.0 112.0,284.6 112.7,284.6 113.3,284.9 114.0,284.8 114.6,284.5 115.3,284.6 115.9,285.3 116.6,286.0 117.2,286.1 117.9,285.7 118.5,285.6 119.2,286.3 119.8,286.9 120.5,287.1 121.1,287.7 121.8,288.3 122.4,288.9 123.1,289.4 123.7,289.2 124.4,289.4 125.0,290.0 125.7,290.2 126.3,289.5 127.0,288.9" stroke="#828282" stroke-width="1.20"/>
<polyline points="30.1,326.2 30.8,325.9 31.4,325.2 32.1,325.3 32.7,325.0 33.4,323.9 34.0,323.0 34.7,322.4 35.3,321.6 36.0,320.9 36.6,320.4 37.3,320.1 37.9,319.3 38.6,318.2 39.2,317.2 39.9,316.6 40.5,317.0 41.2,317.6 41.8,316.7 42.5,315.3 43.1,314.7 43.8,314.1 44.4,312.9 45.1,312.4 45.7,312.2 46.4,311.6 47.0,311.1 47.7,310.6 48.3,309.7 49.0,309.4 49.6,309.2 50.3,308.3 50.9,307.5 51.6,306.7 52.2,305.8 52.9,305.1 53.5,303.9 54.2,303.4 54.8,303.5 55.5,302.6 56.1,301.6 56.8,301.5 57.4,301.3 58.1,300.0 58.7,299.0 59.4,299.0 60.0,298.3 60.7,297.5 61.3,297.1 62.0,296.6 62.6,295.7 63.3,294.6 63.9,294.2 64.6,293.8 65.2,293.0 65.9,292.6 66.5,291.9 67.2,290.8 67.8,290.1 68.5,289.4 69.1,288.9 69.8,288.3 70.4,287.6 71.1,286.6 71.7,285.8 72.4,285.5 73.0,284.8 73.7,284.0 74.3,283.7 75.0,283.2 75.6,282.6 76.3,282.5 76.9,281.8 77.6,280.9 78.2,280.4 78.9,279.6 79.5,279.2 80.2,279.0 80.8,278.5 81.5,278.2 82.1,278.0 82.8,277.8 83.4,277.2 84.1,276.4 84.7,276.1 85.4,276.2 86.0,276.8 86.7,277.6 87.3,278.0 88.0,277.4 88.6,277.3 89.3,277.6 89.9,277.4 90.6,277.3 91.2,277.5 91.9,277.5 92.5,277.9 93.2,278.6 93.8,278.4 94.5,277.9 95.1,277.7 95.8,278.0 96.4,278.1 97.1,278.0 97.7,277.7 98.4,277.5 99.0,277.7 99.7,278.5 100.3,279.7 101.0,280.8 101.6,281.9 102.3,282.7 102.9,284.1 103.6,286.1 104.2,287.1 104.9,287.4 105.5,288.2 106.2,288.9 106.8,288.0 107.5,286.8 108.1,286.4 108.8,286.3 109.4,285.8 110.1,285.3 110.7,285.0 111.4,284.7 112.0,284.3 112.7,284.6 113.3,285.2 114.0,285.3 114.6,285.2 115.3,284.5 115.9,284.1 116.6,284.5 117.2,285.1 117.9,285.8 118.5,285.9 119.2,286.1 119.8,287.2 120.5,287.4 121.1,288.0 121.8,289.7 122.4,290.6 123.1,290.5 123.7,290.4 124.4,290.9 125.0,291.0 125.7,290.7 126.3,290.6 127.0,290.7" stroke="#727272" stroke-width="1.20"/>
<polyline points="30.1,325.6 30.8,325.1 31.4,324.5 32.1,323.7 32.7,323.5 33.4,323.2 34.0,322.1 34.7,321.8 35.3,321.8 36.0,321.1 36.6,320.6 37.3,319.9 37.9,318.9 38.6,318.4 39.2,317.8 39.9,316.8 40.5,315.9 41.2,315.9 41.8,316.2 42.5,315.7 43.1,314.9 43.8,313.9 44.4,313.0 45.1,312.2 45.7,311.8 46.4,311.3 47.0,310.8 47.7,310.3 48.3,309.5 49.0,308.5 49.6,308.1 50.3,308.2 50.9,308.1 51.6,307.1 52.2,306.4 52.9,306.3 53.5,305.2 54.2,304.0 54.8,303.7 55.5,302.9 56.1,301.3 56.8,300.5 57.4,300.3 58.1,299.3 58.7,298.9 59.4,298.5 60.0,297.5 60.7,297.4 61.3,297.4 62.0,296.7 62.6,296.0 63.3,295.5 63.9,294.4 64.6,293.2 65.2,292.8 65.9,292.1 66.5,291.3 67.2,290.9 67.8,290.3 68.5,289.7 69.1,289.1 69.8,288.4 70.4,287.8 71.1,287.3 71.7,286.8 72.4,286.0 73.0,284.9 73.7,284.4 74.3,284.1 75.0,283.4 75.6,282.5 76.3,281.5 76.9,280.7 77.6,280.3 78.2,279.9 78.9,279.6 79.5,279.8 80.2,279.6 80.8,278.6 81.5,278.1 82.1,277.6 82.8,276.7 83.4,276.0 84.1,275.8 84.7,275.6 85.4,275.9 86.0,276.5 86.7,276.5 87.3,275.9 88.0,275.5 88.6,275.3 89.3,275.2 89.9,275.8 90.6,276.2 91.2,276.4 91.9,276.5 92.5,276.8 93.2,276.5 93.8,276.2 94.5,276.8 95.1,276.7 95.8,276.3 96.4,276.6 97.1,276.9 97.7,277.0 98.4,277.4 99.0,278.2 99.7,279.0 100.3,280.2 101.0,281.4 101.6,282.5 102.3,284.0 102.9,285.3 103.6,286.5 104.2,287.7 104.9,288.8 105.5,289.9 106.2,290.5 106.8,289.8 107.5,288.3 108.1,286.5 108.8,285.1 109.4,284.8 110.1,285.1 110.7,285.6 111.4,286.3 112.0,286.7 112.7,286.2 113.3,286.1 114.0,286.5 114.6,286.3 115.3,285.7 115.9,286.1 116.6,286.1 117.2,285.4 117.9,286.0 118.5,286.9 119.2,287.3 119.8,287.7 120.5,288.1 121.1,289.4 121.8,290.1 122.4,290.2 123.1,290.3 123.7,290.6 124.4,291.5 125.0,291.7 125.7,291.0 126.3,290.4 127.0,290.2" stroke="#616161" stroke-width="1.20"/>
<polyline points="30.1,325.3 30.8,324.6 31.4,324.7 32.1,324.4 32.7,323.7 33.4,323.5 34.0,323.2 34.7,322.8 35.3,322.4 36.0,322.0 36.6,321.4 37.3,320.7 37.9,320.0 38.6,319.0 39.2,317.4 39.9,316.4 40.5,316.3 41.2,316.5 41.8,315.9 42.5,314.9 43.1,314.3 43.8,314.0 44.4,313.5 45.1,312.8 45.7,312.4 46.4,312.2 47.0,311.9 47.7,311.0 48.3,309.9 49.0,309.4 49.6,308.7 50.3,307.7 50.9,306.9 51.6,306.6 52.2,306.6 52.9,305.5 53.5,304.6 54.2,304.8 54.8,304.0 55.5,302.8 56.1,302.4 56.8,301.7 57.4,300.7 58.1,300.0 58.7,299.5 59.4,299.0 60.0,298.0 60.7,296.9 61.3,296.9 62.0,296.9 62.6,295.7 63.3,294.9 63.9,294.3 64.6,293.5 65.2,293.0 65.9,292.0 66.5,291.2 67.2,290.5 67.8,290.3 68.5,290.2 69.1,289.2 69.8,288.1 70.4,287.1 71.1,286.6 71.7,286.3 72.4,285.3 73.0,284.4 73.7,284.2 74.3,283.9 75.0,283.0 75.6,281.6 76.3,280.9 76.9,281.0 77.6,280.5 78.2,279.7 78.9,279.5 79.5,279.2 80.2,279.0 80.8,278.8 81.5,277.8 82.1,276.8 82.8,275.6 83.4,275.1 84.1,275.5 84.7,275.4 85.4,275.5 86.0,276.3 86.7,276.4 87.3,276.0 88.0,276.3 88.6,276.7 89.3,276.9 89.9,277.0 90.6,277.0 91.2,276.5 91.9,276.3 92.5,277.0 93.2,277.3 93.8,277.2 94.5,277.3 95.1,276.8 95.8,275.6 96.4,275.1 97.1,275.9 97.7,276.5 98.4,276.9 99.0,278.2 99.7,278.7 100.3,278.9 101.0,280.5 101.6,282.9 102.3,284.3 102.9,285.0 103.6,286.4 104.2,288.1 104.9,289.5 105.5,290.9 106.2,291.3 106.8,290.1 107.5,288.9 108.1,288.1 108.8,287.2 109.4,286.5 110.1,286.2 110.7,286.1 111.4,286.0 112.0,286.0 112.7,286.4 113.3,287.1 114.0,287.6 114.6,287.2 115.3,285.9 115.9,285.6 116.6,287.0 117.2,287.7 117.9,287.5 118.5,287.8 119.2,288.4 119.8,289.1 120.5,289.7 121.1,289.7 121.8,289.2 122.4,289.4 123.1,290.4 123.7,291.0 124.4,290.8 125.0,290.6 125.7,290.9 126.3,291.1 127.0,290.8" stroke="#4f4f4f" stroke-width="1.20"/>
<polyline points="30.1,325.6 30.8,325.8 31.4,325.6 32.1,324.4 32.7,323.4 33.4,322.8 34.0,322.7 34.7,322.5 35.3,322.1 36.0,321.7 36.6,321.2 37.3,320.4 37.9,319.4 38.6,318.6 39.2,318.4 39.9,317.9 40.5,316.9 41.2,315.9 41.8,315.5 42.5,315.2 43.1,314.4 43.8,314.0 44.4,313.4 45.1,312.2 45.7,311.4 46.4,310.7 47.0,310.2 47.7,310.0 48.3,309.9 49.0,309.5 49.6,308.5 50.3,307.6 50.9,307.0 51.6,306.6 52.2,306.4 52.9,305.7 53.5,304.3 54.2,303.4 54.8,303.1 55.5,302.2 56.1,301.5 56.8,301.4 57.4,301.2 58.1,300.3 58.7,299.0 59.4,298.4 60.0,298.5 60.7,298.1 61.3,296.9 62.0,295.7 62.6,295.4 63.3,294.8 63.9,294.1 64.6,293.7 65.2,292.8 65.9,292.0 66.5,291.8 67.2,291.2 67.8,290.2 68.5,289.5 69.1,288.8 69.8,288.0 70.4,287.4 71.1,287.1 71.7,286.3 72.4,284.9 73.0,283.7 73.7,283.2 74.3,282.9 75.0,281.9 75.6,281.1 76.3,280.6 76.9,279.9 77.6,278.9 78.2,278.4 78.9,278.5 79.5,278.1 80.2,277.5 80.8,276.9 81.5,275.9 82.1,275.6 82.8,275.7 83.4,275.3 84.1,275.0 84.7,275.1 85.4,274.8 86.0,274.9 86.7,275.2 87.3,275.0 88.0,275.0 88.6,275.7 89.3,276.0 89.9,275.9 90.6,276.6 91.2,277.3 91.9,277.2 92.5,276.5 93.2,276.3 93.8,276.4 94.5,276.5 95.1,276.8 95.8,277.1 96.4,277.0 97.1,276.5 97.7,276.2 98.4,276.4 99.0,277.7 99.7,279.2 100.3,280.0 101.0,280.9 101.6,282.3 102.3,283.2 102.9,284.3 103.6,286.0 104.2,288.0 104.9,290.0 105.5,291.1 106.2,291.2 106.8,290.1 107.5,288.9 108.1,287.8 108.8,286.6 109.4,286.4 110.1,286.8 110.7,287.3 111.4,287.5 112.0,286.8 112.7,286.2 113.3,286.7 114.0,287.1 114.6,287.1 115.3,286.9 115.9,287.0 116.6,287.8 117.2,288.6 117.9,288.4 118.5,288.2 119.2,288.6 119.8,289.2 120.5,290.2 121.1,290.9 121.8,290.7 122.4,290.8 123.1,291.6 123.7,291.9 124.4,292.0 125.0,292.1 125.7,291.9 126.3,292.2 127.0,292.5" stroke="#3b3b3b" stroke-width="1.20"/>
<polyline points="30.1,326.0 30.8,326.0 31.4,325.4 32.1,324.7 32.7,324.1 33.4,323.2 34.0,322.5 34.7,322.6 35.3,322.7 36.0,321.8 36.6,320.7 37.3,320.3 37.9,320.0 38.6,319.1 39.2,318.2 39.9,317.5 40.5,317.1 41.2,316.9 41.8,316.4 42.5,315.6 43.1,315.3 43.8,315.1 44.4,314.4 45.1,313.3 45.7,311.8 46.4,310.6 47.0,310.1 47.7,310.0 48.3,309.8 49.0,309.0 49.6,308.4 50.3,307.9 50.9,307.6 51.6,306.9 52.2,305.5 52.9,304.5 53.5,303.8 54.2,302.5 54.8,302.0 55.5,302.5 56.1,302.4 56.8,301.6 57.4,300.9 58.1,300.2 58.7,299.2 59.4,298.0 60.0,297.3 60.7,296.9 61.3,296.5 62.0,295.8 62.6,295.0 63.3,294.3 63.9,293.6 64.6,293.2 65.2,292.8 65.9,291.4 66.5,290.3 67.2,290.4 67.8,290.1 68.5,289.0 69.1,288.9 69.8,289.1 70.4,287.7 71.1,286.1 71.7,285.1 72.4,284.2 73.0,283.7 73.7,283.7 74.3,283.7 75.0,282.8 75.6,281.3 76.3,280.5 76.9,280.3 77.6,279.7 78.2,279.1 78.9,279.2 79.5,278.8 80.2,277.5 80.8,276.6 81.5,276.6 82.1,276.5 82.8,275.6 83.4,274.8 84.1,274.2 84.7,273.9 85.4,273.8 86.0,274.0 86.7,274.2 87.3,273.9 88.0,273.7 88.6,273.9 89.3,274.2 89.9,274.6 90.6,274.6 91.2,274.9 91.9,275.3 92.5,275.3 93.2,275.4 93.8,275.3 94.5,274.9 95.1,274.7 95.8,275.0 96.4,275.4 97.1,275.7 97.7,275.3 98.4,275.0 99.0,275.8 99.7,277.4 100.3,279.3 101.0,280.9 101.6,282.3 102.3,284.1 102.9,285.5 103.6,286.6 104.2,288.0 104.9,289.5 105.5,291.0 106.2,291.5 106.8,290.8 107.5,289.6 108.1,288.3 108.8,287.4 109.4,287.0 110.1,286.9 110.7,286.4 111.4,286.3 112.0,286.8 112.7,286.8 113.3,286.9 114.0,286.8 114.6,286.9 115.3,287.9 115.9,288.6 116.6,288.6 117.2,288.6 117.9,287.9 118.5,287.4 119.2,288.2 119.8,288.9 120.5,289.6 121.1,290.7 121.8,291.0 122.4,291.1 123.1,291.9 123.7,292.6 124.4,293.2 125.0,293.9 125.7,293.7 126.3,292.8 127.0,292.4" stroke="#242424" stroke-width="1.70"/>
<polyline points="30.1,326.2 30.8,325.8 31.4,325.1 32.1,324.3 32.7,323.5 33.4,323.0 34.0,322.8 34.7,322.8 35.3,322.1 36.0,321.3 36.6,320.9 37.3,320.1 37.9,319.6 38.6,319.0 39.2,318.1 39.9,317.8 40.5,317.6 41.2,316.8 41.8,315.4 42.5,314.5 43.1,315.0 43.8,314.6 44.4,313.4 45.1,312.7 45.7,312.8 46.4,312.6 47.0,311.4 47.7,310.8 48.3,310.5 49.0,310.1 49.6,309.5 50.3,308.2 50.9,306.9 51.6,306.2 52.2,305.9 52.9,305.3 53.5,304.6 54.2,303.9 54.8,303.0 55.5,302.4 56.1,302.0 56.8,301.3 57.4,300.4 58.1,299.9 58.7,299.1 59.4,298.0 60.0,297.5 60.7,296.9 61.3,295.9 62.0,295.7 62.6,295.3 63.3,294.0 63.9,293.6 64.6,293.5 65.2,292.1 65.9,290.6 66.5,290.6 67.2,290.8 67.8,289.8 68.5,288.8 69.1,288.6 69.8,288.0 70.4,286.6 71.1,285.4 71.7,284.8 72.4,284.3 73.0,284.1 73.7,283.5 74.3,282.1 75.0,281.6 75.6,281.4 76.3,280.2 76.9,279.4 77.6,279.1 78.2,278.4 78.9,277.8 79.5,277.5 80.2,277.2 80.8,276.6 81.5,276.1 82.1,275.6 82.8,275.0 83.4,274.5 84.1,273.9 84.7,273.7 85.4,273.7 86.0,273.1 86.7,272.5 87.3,273.1 88.0,273.9 88.6,273.7 89.3,273.7 89.9,274.2 90.6,274.5 91.2,274.2 91.9,273.7 92.5,274.1 93.2,274.8 93.8,275.1 94.5,274.9 95.1,274.3 95.8,274.2 96.4,275.0 97.1,275.3 97.7,275.5 98.4,276.0 99.0,276.4 99.7,277.7 100.3,279.7 101.0,280.9 101.6,281.6 102.3,283.1 102.9,285.1 103.6,287.2 104.2,289.0 104.9,290.5 105.5,292.0 106.2,292.6 106.8,291.3 107.5,289.7 108.1,288.5 108.8,287.2 109.4,286.9 110.1,287.3 110.7,287.4 111.4,287.1 112.0,287.0 112.7,287.3 113.3,288.1 114.0,288.1 114.6,287.5 115.3,287.4 115.9,287.6 116.6,287.5 117.2,287.9 117.9,288.8 118.5,289.3 119.2,289.8 119.8,290.0 120.5,290.5 121.1,291.6 121.8,292.1 122.4,292.6 123.1,293.2 123.7,293.7 124.4,294.4 125.0,294.4 125.7,293.5 126.3,293.2 127.0,293.4" stroke="#000000" stroke-width="1.70"/>
</g>
<path d="M27.0 321.9v-1.1M27.0 262.4v1.1M47.7 321.9v-1.1M47.7 262.4v1.1M68.5 321.9v-1.1M68.5 262.4v1.1M89.2 321.9v-1.1M89.2 262.4v1.1M110.0 321.9v-1.1M110.0 262.4v1.1M130.7 321.9v-1.1M130.7 262.4v1.1M27.0 321.9h1.1M130.7 321.9h-1.1M27.0 307.0h1.1M130.7 307.0h-1.1M27.0 292.1h1.1M130.7 292.1h-1.1M27.0 277.3h1.1M130.7 277.3h-1.1M27.0 262.4h1.1M130.7 262.4h-1.1" stroke="#9c9c9c" stroke-width="0.6" fill="none"/>
<rect x="27.0" y="262.4" width="103.7" height="59.5" fill="none" stroke="#9c9c9c" stroke-width="0.9"/>
<text x="27.0" y="329.7" text-anchor="middle" class="tk">9</text>
<text x="47.7" y="329.7" text-anchor="middle" class="tk">10</text>
<text x="68.5" y="329.7" text-anchor="middle" class="tk">11</text>
<text x="89.2" y="329.7" text-anchor="middle" class="tk">12</text>
<text x="110.0" y="329.7" text-anchor="middle" class="tk">13</text>
<text x="130.7" y="329.7" text-anchor="middle" class="tk">14</text>
<text x="24.9" y="323.8" text-anchor="end" class="tk">0.25</text>
<text x="24.9" y="309.0" text-anchor="end" class="tk">0.3</text>
<text x="24.9" y="294.1" text-anchor="end" class="tk">0.35</text>
<text x="24.9" y="279.2" text-anchor="end" class="tk">0.4</text>
<text x="24.9" y="264.3" text-anchor="end" class="tk">0.45</text>
<text x="31.2" y="272.1" class="tt">(d) B-ASB-J4</text>
<text transform="translate(11.6 292.1) rotate(-90)" text-anchor="middle" class="yl">z [m]</text>
<text x="78.8" y="337.3" text-anchor="middle" class="yl">x [m]</text>
</g>
<g>
<rect x="163.8" y="11.8" width="103.7" height="59.5" fill="#fff"/>
<path d="M193.4 11.8V71.3M223.1 11.8V71.3M252.7 11.8V71.3M163.8 56.4H267.5M163.8 41.5H267.5M163.8 26.7H267.5" stroke="#e4e4e4" stroke-width="0.7" fill="none"/>
<clipPath id="c5"><rect x="163.8" y="11.8" width="103.7" height="59.5"/></clipPath>
<g clip-path="url(#c5)" fill="none" stroke-linejoin="round" stroke-linecap="round">
<polyline points="163.8,41.5 165.0,41.5 166.1,41.6 167.3,41.7 168.5,41.8 169.6,41.9 170.8,42.0 172.0,42.0 173.1,42.1 174.3,42.2 175.5,42.3 176.6,42.5 177.8,42.6 178.9,42.7 180.1,42.8 181.3,42.9 182.4,43.0 183.6,43.2 184.8,43.3 185.9,43.5 187.1,43.7 188.3,43.9 189.4,44.0 190.6,44.2 191.8,44.3 192.9,44.5 194.1,44.6 195.3,44.7 196.4,44.8 197.6,44.9 198.8,44.9 199.9,45.0 201.1,45.1 202.3,45.1 203.4,45.2 204.6,45.4 205.7,45.5 206.9,45.6 208.1,45.8 209.2,45.9 210.4,46.1 211.6,46.3 212.7,46.5 213.9,46.7 215.1,46.8 216.2,46.9 217.4,47.0 218.6,47.0 219.7,47.0 220.9,47.0 222.1,47.1 223.2,47.1 224.4,47.1 225.6,47.1 226.7,47.1 227.9,47.0 229.0,47.0 230.2,46.9 231.4,46.9 232.5,46.9 233.7,46.9 234.9,46.8 236.0,46.8 237.2,46.8 238.4,46.8 239.5,46.9 240.7,47.0 241.9,47.0 243.0,47.1 244.2,47.1 245.4,47.2 246.5,47.2 247.7,47.3 248.9,47.4 250.0,47.5 251.2,47.7 252.4,47.8 253.5,48.0 254.7,48.1 255.8,48.3 257.0,48.4 258.2,48.4 259.3,48.4 260.5,48.4 261.7,48.4 262.8,48.4 264.0,48.3 265.2,48.2 266.3,48.2 267.5,48.0" stroke="#d40030" stroke-width="1.56"/>
<polyline points="163.8,41.6 165.0,41.7 166.1,41.7 167.3,41.7 168.5,41.8 169.6,41.8 170.8,41.9 172.0,42.0 173.1,42.1 174.3,42.1 175.5,42.2 176.6,42.3 177.8,42.4 178.9,42.4 180.1,42.5 181.3,42.6 182.4,42.7 183.6,42.9 184.8,43.1 185.9,43.3 187.1,43.5 188.3,43.6 189.4,43.8 190.6,43.9 191.8,44.0 192.9,44.1 194.1,44.1 195.3,44.2 196.4,44.3 197.6,44.3 198.8,44.4 199.9,44.5 201.1,44.6 202.3,44.6 203.4,44.7 204.6,44.7 205.7,44.8 206.9,44.9 208.1,45.0 209.2,45.2 210.4,45.3 211.6,45.4 212.7,45.4 213.9,45.4 215.1,45.4 216.2,45.4 217.4,45.3 218.6,45.3 219.7,45.2 220.9,45.2 222.1,45.2 223.2,45.2 224.4,45.2 225.6,45.2 226.7,45.1 227.9,45.1 229.0,45.0 230.2,44.9 231.4,44.9 232.5,44.8 233.7,44.8 234.9,44.8 236.0,44.7 237.2,44.7 238.4,44.6 239.5,44.5 240.7,44.3 241.9,44.2 243.0,44.0 244.2,43.9 245.4,43.7 246.5,43.6 247.7,43.4 248.9,43.3 250.0,43.2 251.2,43.2 252.4,43.1 253.5,43.0 254.7,42.9 255.8,42.8 257.0,42.7 258.2,42.6 259.3,42.6 260.5,42.5 261.7,42.5 262.8,42.5 264.0,42.4 265.2,42.4 266.3,42.3 267.5,42.3" stroke="#bb0048" stroke-width="1.56"/>
<polyline points="163.8,41.5 165.0,41.5 166.1,41.6 167.3,41.7 168.5,41.8 169.6,41.9 170.8,42.1 172.0,42.1 173.1,42.2 174.3,42.2 175.5,42.3 176.6,42.3 177.8,42.4 178.9,42.4 180.1,42.5 181.3,42.5 182.4,42.5 183.6,42.6 184.8,42.7 185.9,42.7 187.1,42.8 188.3,42.8 189.4,42.9 190.6,42.9 191.8,43.0 192.9,43.0 194.1,43.1 195.3,43.1 196.4,43.2 197.6,43.2 198.8,43.3 199.9,43.3 201.1,43.4 202.3,43.4 203.4,43.4 204.6,43.5 205.7,43.5 206.9,43.6 208.1,43.6 209.2,43.7 210.4,43.7 211.6,43.8 212.7,43.7 213.9,43.7 215.1,43.7 216.2,43.7 217.4,43.6 218.6,43.6 219.7,43.6 220.9,43.7 222.1,43.7 223.2,43.7 224.4,43.7 225.6,43.7 226.7,43.8 227.9,43.8 229.0,43.8 230.2,43.7 231.4,43.7 232.5,43.7 233.7,43.6 234.9,43.6 236.0,43.6 237.2,43.5 238.4,43.5 239.5,43.5 240.7,43.5 241.9,43.4 243.0,43.4 244.2,43.4 245.4,43.4 246.5,43.3 247.7,43.3 248.9,43.2 250.0,43.2 251.2,43.3 252.4,43.3 253.5,43.3 254.7,43.2 255.8,43.2 257.0,43.2 258.2,43.1 259.3,43.2 260.5,43.2 261.7,43.2 262.8,43.2 264.0,43.1 265.2,43.1 266.3,43.1 267.5,43.0" stroke="#75008a" stroke-width="1.44"/>
<polyline points="163.8,41.5 165.0,41.6 166.1,41.6 167.3,41.6 168.5,41.6 169.6,41.6 170.8,41.6 172.0,41.6 173.1,41.6 174.3,41.6 175.5,41.6 176.6,41.6 177.8,41.6 178.9,41.6 180.1,41.7 181.3,41.7 182.4,41.8 183.6,41.8 184.8,41.8 185.9,41.9 187.1,41.9 188.3,41.9 189.4,41.9 190.6,41.9 191.8,41.9 192.9,41.9 194.1,41.9 195.3,41.9 196.4,42.0 197.6,42.0 198.8,42.1 199.9,42.1 201.1,42.1 202.3,42.1 203.4,42.1 204.6,42.1 205.7,42.1 206.9,42.1 208.1,42.2 209.2,42.3 210.4,42.3 211.6,42.4 212.7,42.4 213.9,42.4 215.1,42.5 216.2,42.5 217.4,42.5 218.6,42.5 219.7,42.5 220.9,42.6 222.1,42.6 223.2,42.6 224.4,42.7 225.6,42.7 226.7,42.7 227.9,42.7 229.0,42.7 230.2,42.8 231.4,42.8 232.5,42.8 233.7,42.9 234.9,42.8 236.0,42.8 237.2,42.8 238.4,42.8 239.5,42.9 240.7,42.9 241.9,43.0 243.0,43.0 244.2,43.1 245.4,43.1 246.5,43.1 247.7,43.2 248.9,43.2 250.0,43.2 251.2,43.2 252.4,43.3 253.5,43.3 254.7,43.3 255.8,43.3 257.0,43.4 258.2,43.4 259.3,43.5 260.5,43.5 261.7,43.5 262.8,43.6 264.0,43.6 265.2,43.7 266.3,43.7 267.5,43.8" stroke="#0000f8" stroke-width="1.08"/>
<polyline points="163.8,41.5 165.0,41.6 166.1,41.6 167.3,41.6 168.5,41.6 169.6,41.6 170.8,41.6 172.0,41.6 173.1,41.6 174.3,41.6 175.5,41.6 176.6,41.7 177.8,41.7 178.9,41.8 180.1,41.8 181.3,41.8 182.4,41.8 183.6,41.8 184.8,41.8 185.9,41.8 187.1,41.8 188.3,41.8 189.4,41.8 190.6,41.8 191.8,41.8 192.9,41.8 194.1,41.9 195.3,41.9 196.4,41.9 197.6,42.0 198.8,42.0 199.9,42.0 201.1,42.1 202.3,42.1 203.4,42.1 204.6,42.1 205.7,42.1 206.9,42.2 208.1,42.2 209.2,42.2 210.4,42.2 211.6,42.3 212.7,42.3 213.9,42.4 215.1,42.4 216.2,42.4 217.4,42.4 218.6,42.4 219.7,42.4 220.9,42.4 222.1,42.4 223.2,42.4 224.4,42.4 225.6,42.5 226.7,42.5 227.9,42.5 229.0,42.5 230.2,42.5 231.4,42.5 232.5,42.6 233.7,42.6 234.9,42.7 236.0,42.8 237.2,42.8 238.4,42.8 239.5,42.8 240.7,42.8 241.9,42.8 243.0,42.8 244.2,42.8 245.4,42.8 246.5,42.8 247.7,42.8 248.9,42.8 250.0,42.9 251.2,42.9 252.4,43.0 253.5,43.0 254.7,43.0 255.8,43.0 257.0,43.1 258.2,43.1 259.3,43.2 260.5,43.2 261.7,43.3 262.8,43.3 264.0,43.4 265.2,43.4 266.3,43.4 267.5,43.4" stroke="#0300f6" stroke-width="1.08"/>
<polyline points="163.8,41.6 165.0,41.6 166.1,41.6 167.3,41.7 168.5,41.7 169.6,41.7 170.8,41.7 172.0,41.6 173.1,41.6 174.3,41.6 175.5,41.6 176.6,41.6 177.8,41.6 178.9,41.6 180.1,41.7 181.3,41.7 182.4,41.7 183.6,41.6 184.8,41.6 185.9,41.6 187.1,41.6 188.3,41.7 189.4,41.7 190.6,41.8 191.8,41.8 192.9,41.8 194.1,41.9 195.3,41.9 196.4,41.9 197.6,41.9 198.8,41.9 199.9,42.0 201.1,42.0 202.3,42.0 203.4,42.0 204.6,42.0 205.7,42.0 206.9,42.0 208.1,42.0 209.2,42.1 210.4,42.1 211.6,42.2 212.7,42.2 213.9,42.2 215.1,42.2 216.2,42.2 217.4,42.3 218.6,42.3 219.7,42.3 220.9,42.3 222.1,42.3 223.2,42.3 224.4,42.4 225.6,42.4 226.7,42.4 227.9,42.5 229.0,42.5 230.2,42.5 231.4,42.5 232.5,42.5 233.7,42.5 234.9,42.5 236.0,42.6 237.2,42.6 238.4,42.6 239.5,42.6 240.7,42.6 241.9,42.6 243.0,42.6 244.2,42.6 245.4,42.6 246.5,42.6 247.7,42.6 248.9,42.7 250.0,42.7 251.2,42.7 252.4,42.7 253.5,42.7 254.7,42.7 255.8,42.8 257.0,42.8 258.2,42.9 259.3,42.9 260.5,43.0 261.7,43.0 262.8,43.1 264.0,43.1 265.2,43.2 266.3,43.2 267.5,43.2" stroke="#0500f3" stroke-width="1.08"/>
<polyline points="163.8,41.6 165.0,41.5 166.1,41.5 167.3,41.6 168.5,41.6 169.6,41.6 170.8,41.6 172.0,41.6 173.1,41.6 174.3,41.6 175.5,41.6 176.6,41.6 177.8,41.7 178.9,41.7 180.1,41.7 181.3,41.7 182.4,41.6 183.6,41.6 184.8,41.5 185.9,41.5 187.1,41.6 188.3,41.6 189.4,41.6 190.6,41.7 191.8,41.7 192.9,41.7 194.1,41.8 195.3,41.8 196.4,41.8 197.6,41.8 198.8,41.8 199.9,41.8 201.1,41.8 202.3,41.8 203.4,41.8 204.6,41.8 205.7,41.9 206.9,41.9 208.1,41.9 209.2,41.9 210.4,42.0 211.6,42.0 212.7,42.0 213.9,42.1 215.1,42.1 216.2,42.1 217.4,42.1 218.6,42.2 219.7,42.2 220.9,42.2 222.1,42.2 223.2,42.1 224.4,42.1 225.6,42.2 226.7,42.2 227.9,42.2 229.0,42.2 230.2,42.3 231.4,42.3 232.5,42.3 233.7,42.3 234.9,42.3 236.0,42.3 237.2,42.3 238.4,42.4 239.5,42.4 240.7,42.4 241.9,42.5 243.0,42.5 244.2,42.5 245.4,42.5 246.5,42.5 247.7,42.5 248.9,42.5 250.0,42.5 251.2,42.5 252.4,42.5 253.5,42.5 254.7,42.5 255.8,42.6 257.0,42.6 258.2,42.7 259.3,42.7 260.5,42.7 261.7,42.7 262.8,42.7 264.0,42.7 265.2,42.8 266.3,42.8 267.5,42.9" stroke="#0800f0" stroke-width="1.08"/>
<polyline points="163.8,41.6 165.0,41.5 166.1,41.6 167.3,41.5 168.5,41.5 169.6,41.5 170.8,41.4 172.0,41.5 173.1,41.5 174.3,41.5 175.5,41.6 176.6,41.6 177.8,41.6 178.9,41.6 180.1,41.6 181.3,41.5 182.4,41.5 183.6,41.6 184.8,41.6 185.9,41.6 187.1,41.6 188.3,41.6 189.4,41.6 190.6,41.6 191.8,41.7 192.9,41.7 194.1,41.7 195.3,41.7 196.4,41.8 197.6,41.8 198.8,41.8 199.9,41.8 201.1,41.8 202.3,41.8 203.4,41.8 204.6,41.8 205.7,41.8 206.9,41.8 208.1,41.9 209.2,41.9 210.4,42.0 211.6,42.0 212.7,42.0 213.9,41.9 215.1,41.9 216.2,42.0 217.4,42.0 218.6,42.0 219.7,42.0 220.9,42.0 222.1,42.0 223.2,42.1 224.4,42.1 225.6,42.1 226.7,42.1 227.9,42.1 229.0,42.2 230.2,42.2 231.4,42.2 232.5,42.1 233.7,42.1 234.9,42.1 236.0,42.1 237.2,42.1 238.4,42.1 239.5,42.1 240.7,42.2 241.9,42.2 243.0,42.2 244.2,42.2 245.4,42.2 246.5,42.2 247.7,42.2 248.9,42.3 250.0,42.3 251.2,42.3 252.4,42.3 253.5,42.3 254.7,42.3 255.8,42.3 257.0,42.3 258.2,42.4 259.3,42.4 260.5,42.4 261.7,42.5 262.8,42.5 264.0,42.5 265.2,42.6 266.3,42.6 267.5,42.6" stroke="#0b00ee" stroke-width="1.08"/>
<polyline points="163.8,41.6 165.0,41.6 166.1,41.6 167.3,41.6 168.5,41.6 169.6,41.6 170.8,41.6 172.0,41.6 173.1,41.6 174.3,41.6 175.5,41.6 176.6,41.5 177.8,41.5 178.9,41.5 180.1,41.5 181.3,41.5 182.4,41.5 183.6,41.5 184.8,41.5 185.9,41.5 187.1,41.5 188.3,41.6 189.4,41.6 190.6,41.6 191.8,41.6 192.9,41.7 194.1,41.7 195.3,41.7 196.4,41.7 197.6,41.7 198.8,41.7 199.9,41.7 201.1,41.7 202.3,41.7 203.4,41.7 204.6,41.7 205.7,41.7 206.9,41.8 208.1,41.8 209.2,41.8 210.4,41.8 211.6,41.8 212.7,41.8 213.9,41.9 215.1,41.9 216.2,41.9 217.4,41.9 218.6,41.9 219.7,41.9 220.9,41.9 222.1,41.9 223.2,41.9 224.4,41.9 225.6,41.9 226.7,42.0 227.9,41.9 229.0,41.9 230.2,42.0 231.4,41.9 232.5,42.0 233.7,42.0 234.9,42.0 236.0,42.0 237.2,42.0 238.4,42.0 239.5,42.0 240.7,42.0 241.9,42.0 243.0,42.0 244.2,42.0 245.4,42.0 246.5,42.0 247.7,42.0 248.9,42.0 250.0,42.0 251.2,42.0 252.4,42.1 253.5,42.1 254.7,42.1 255.8,42.1 257.0,42.1 258.2,42.1 259.3,42.1 260.5,42.1 261.7,42.1 262.8,42.1 264.0,42.1 265.2,42.1 266.3,42.2 267.5,42.2" stroke="#0d00ec" stroke-width="1.08"/>
<polyline points="163.8,41.6 165.0,41.6 166.1,41.6 167.3,41.6 168.5,41.6 169.6,41.5 170.8,41.5 172.0,41.5 173.1,41.5 174.3,41.5 175.5,41.5 176.6,41.5 177.8,41.5 178.9,41.5 180.1,41.5 181.3,41.5 182.4,41.5 183.6,41.5 184.8,41.6 185.9,41.6 187.1,41.6 188.3,41.5 189.4,41.5 190.6,41.4 191.8,41.4 192.9,41.4 194.1,41.4 195.3,41.5 196.4,41.5 197.6,41.6 198.8,41.6 199.9,41.6 201.1,41.6 202.3,41.6 203.4,41.7 204.6,41.6 205.7,41.7 206.9,41.7 208.1,41.7 209.2,41.7 210.4,41.7 211.6,41.7 212.7,41.8 213.9,41.8 215.1,41.8 216.2,41.8 217.4,41.8 218.6,41.8 219.7,41.8 220.9,41.8 222.1,41.8 223.2,41.8 224.4,41.9 225.6,41.9 226.7,41.9 227.9,41.8 229.0,41.8 230.2,41.8 231.4,41.8 232.5,41.8 233.7,41.8 234.9,41.8 236.0,41.9 237.2,41.8 238.4,41.8 239.5,41.8 240.7,41.8 241.9,41.8 243.0,41.8 244.2,41.8 245.4,41.8 246.5,41.8 247.7,41.8 248.9,41.9 250.0,41.9 251.2,41.9 252.4,41.9 253.5,41.9 254.7,42.0 255.8,42.0 257.0,42.0 258.2,42.0 259.3,42.0 260.5,41.9 261.7,41.9 262.8,41.9 264.0,42.0 265.2,42.0 266.3,42.0 267.5,42.0" stroke="#1000e9" stroke-width="1.08"/>
<polyline points="163.8,41.6 165.0,41.5 166.1,41.5 167.3,41.5 168.5,41.5 169.6,41.5 170.8,41.5 172.0,41.5 173.1,41.5 174.3,41.5 175.5,41.5 176.6,41.5 177.8,41.5 178.9,41.5 180.1,41.5 181.3,41.5 182.4,41.5 183.6,41.4 184.8,41.4 185.9,41.4 187.1,41.3 188.3,41.3 189.4,41.4 190.6,41.4 191.8,41.5 192.9,41.5 194.1,41.6 195.3,41.5 196.4,41.5 197.6,41.6 198.8,41.6 199.9,41.6 201.1,41.6 202.3,41.6 203.4,41.6 204.6,41.6 205.7,41.6 206.9,41.6 208.1,41.6 209.2,41.6 210.4,41.5 211.6,41.6 212.7,41.6 213.9,41.6 215.1,41.6 216.2,41.6 217.4,41.7 218.6,41.7 219.7,41.8 220.9,41.8 222.1,41.8 223.2,41.7 224.4,41.7 225.6,41.6 226.7,41.6 227.9,41.6 229.0,41.6 230.2,41.7 231.4,41.7 232.5,41.7 233.7,41.7 234.9,41.6 236.0,41.6 237.2,41.6 238.4,41.6 239.5,41.6 240.7,41.6 241.9,41.7 243.0,41.7 244.2,41.6 245.4,41.6 246.5,41.6 247.7,41.5 248.9,41.5 250.0,41.5 251.2,41.5 252.4,41.5 253.5,41.5 254.7,41.6 255.8,41.6 257.0,41.6 258.2,41.7 259.3,41.7 260.5,41.6 261.7,41.6 262.8,41.6 264.0,41.6 265.2,41.7 266.3,41.7 267.5,41.7" stroke="#1300e6" stroke-width="1.08"/>
<polyline points="163.8,41.6 165.0,41.6 166.1,41.5 167.3,41.5 168.5,41.5 169.6,41.5 170.8,41.5 172.0,41.5 173.1,41.4 174.3,41.4 175.5,41.5 176.6,41.5 177.8,41.5 178.9,41.5 180.1,41.4 181.3,41.4 182.4,41.4 183.6,41.4 184.8,41.4 185.9,41.4 187.1,41.4 188.3,41.4 189.4,41.4 190.6,41.4 191.8,41.4 192.9,41.4 194.1,41.4 195.3,41.4 196.4,41.4 197.6,41.5 198.8,41.5 199.9,41.4 201.1,41.4 202.3,41.4 203.4,41.4 204.6,41.5 205.7,41.5 206.9,41.5 208.1,41.5 209.2,41.5 210.4,41.5 211.6,41.5 212.7,41.6 213.9,41.6 215.1,41.7 216.2,41.6 217.4,41.6 218.6,41.6 219.7,41.5 220.9,41.5 222.1,41.5 223.2,41.5 224.4,41.5 225.6,41.5 226.7,41.5 227.9,41.5 229.0,41.4 230.2,41.4 231.4,41.4 232.5,41.5 233.7,41.4 234.9,41.4 236.0,41.4 237.2,41.4 238.4,41.5 239.5,41.5 240.7,41.5 241.9,41.5 243.0,41.5 244.2,41.5 245.4,41.5 246.5,41.5 247.7,41.4 248.9,41.4 250.0,41.4 251.2,41.4 252.4,41.4 253.5,41.5 254.7,41.4 255.8,41.4 257.0,41.4 258.2,41.4 259.3,41.4 260.5,41.4 261.7,41.3 262.8,41.3 264.0,41.3 265.2,41.3 266.3,41.3 267.5,41.4" stroke="#1500e4" stroke-width="1.08"/>
<polyline points="163.8,41.5 165.0,41.4 166.1,41.4 167.3,41.4 168.5,41.4 169.6,41.4 170.8,41.4 172.0,41.4 173.1,41.4 174.3,41.4 175.5,41.4 176.6,41.3 177.8,41.3 178.9,41.3 180.1,41.3 181.3,41.3 182.4,41.4 183.6,41.4 184.8,41.4 185.9,41.4 187.1,41.3 188.3,41.3 189.4,41.3 190.6,41.3 191.8,41.3 192.9,41.3 194.1,41.3 195.3,41.3 196.4,41.3 197.6,41.3 198.8,41.3 199.9,41.3 201.1,41.3 202.3,41.3 203.4,41.3 204.6,41.3 205.7,41.3 206.9,41.3 208.1,41.3 209.2,41.3 210.4,41.3 211.6,41.3 212.7,41.3 213.9,41.3 215.1,41.3 216.2,41.4 217.4,41.4 218.6,41.4 219.7,41.4 220.9,41.4 222.1,41.4 223.2,41.5 224.4,41.4 225.6,41.4 226.7,41.4 227.9,41.4 229.0,41.4 230.2,41.4 231.4,41.4 232.5,41.4 233.7,41.4 234.9,41.4 236.0,41.4 237.2,41.3 238.4,41.4 239.5,41.3 240.7,41.3 241.9,41.3 243.0,41.3 244.2,41.3 245.4,41.2 246.5,41.2 247.7,41.2 248.9,41.2 250.0,41.2 251.2,41.2 252.4,41.2 253.5,41.2 254.7,41.2 255.8,41.2 257.0,41.2 258.2,41.1 259.3,41.1 260.5,41.1 261.7,41.0 262.8,41.0 264.0,41.0 265.2,41.1 266.3,41.1 267.5,41.1" stroke="#1300e6" stroke-width="1.08"/>
<polyline points="163.8,41.6 165.0,41.6 166.1,41.6 167.3,41.6 168.5,41.6 169.6,41.5 170.8,41.5 172.0,41.4 173.1,41.4 174.3,41.4 175.5,41.4 176.6,41.3 177.8,41.3 178.9,41.3 180.1,41.3 181.3,41.3 182.4,41.3 183.6,41.3 184.8,41.3 185.9,41.3 187.1,41.2 188.3,41.2 189.4,41.2 190.6,41.2 191.8,41.2 192.9,41.2 194.1,41.2 195.3,41.2 196.4,41.3 197.6,41.3 198.8,41.3 199.9,41.3 201.1,41.4 202.3,41.3 203.4,41.3 204.6,41.3 205.7,41.2 206.9,41.2 208.1,41.2 209.2,41.2 210.4,41.2 211.6,41.3 212.7,41.3 213.9,41.3 215.1,41.3 216.2,41.3 217.4,41.3 218.6,41.3 219.7,41.3 220.9,41.3 222.1,41.3 223.2,41.3 224.4,41.3 225.6,41.3 226.7,41.3 227.9,41.3 229.0,41.3 230.2,41.3 231.4,41.3 232.5,41.3 233.7,41.3 234.9,41.2 236.0,41.2 237.2,41.2 238.4,41.1 239.5,41.1 240.7,41.0 241.9,41.0 243.0,41.0 244.2,41.0 245.4,41.0 246.5,40.9 247.7,40.9 248.9,40.9 250.0,40.9 251.2,40.9 252.4,40.9 253.5,40.8 254.7,40.8 255.8,40.8 257.0,40.8 258.2,40.8 259.3,40.8 260.5,40.8 261.7,40.8 262.8,40.8 264.0,40.7 265.2,40.7 266.3,40.7 267.5,40.7" stroke="#1000e9" stroke-width="1.08"/>
<polyline points="163.8,41.6 165.0,41.6 166.1,41.5 167.3,41.5 168.5,41.5 169.6,41.5 170.8,41.5 172.0,41.4 173.1,41.4 174.3,41.4 175.5,41.4 176.6,41.3 177.8,41.3 178.9,41.3 180.1,41.3 181.3,41.3 182.4,41.3 183.6,41.3 184.8,41.3 185.9,41.3 187.1,41.3 188.3,41.2 189.4,41.2 190.6,41.2 191.8,41.2 192.9,41.1 194.1,41.2 195.3,41.2 196.4,41.2 197.6,41.2 198.8,41.1 199.9,41.1 201.1,41.1 202.3,41.2 203.4,41.2 204.6,41.2 205.7,41.2 206.9,41.2 208.1,41.2 209.2,41.2 210.4,41.2 211.6,41.3 212.7,41.3 213.9,41.2 215.1,41.2 216.2,41.2 217.4,41.1 218.6,41.1 219.7,41.1 220.9,41.1 222.1,41.1 223.2,41.1 224.4,41.1 225.6,41.1 226.7,41.2 227.9,41.2 229.0,41.1 230.2,41.1 231.4,41.1 232.5,41.0 233.7,41.0 234.9,41.0 236.0,41.0 237.2,41.0 238.4,41.0 239.5,41.0 240.7,41.0 241.9,40.9 243.0,40.9 244.2,40.9 245.4,40.9 246.5,40.8 247.7,40.8 248.9,40.7 250.0,40.7 251.2,40.7 252.4,40.7 253.5,40.7 254.7,40.7 255.8,40.7 257.0,40.7 258.2,40.6 259.3,40.6 260.5,40.6 261.7,40.6 262.8,40.5 264.0,40.5 265.2,40.5 266.3,40.5 267.5,40.5" stroke="#0d00ec" stroke-width="1.08"/>
<polyline points="163.8,41.5 165.0,41.5 166.1,41.5 167.3,41.5 168.5,41.5 169.6,41.5 170.8,41.5 172.0,41.4 173.1,41.4 174.3,41.3 175.5,41.3 176.6,41.3 177.8,41.2 178.9,41.2 180.1,41.1 181.3,41.1 182.4,41.1 183.6,41.2 184.8,41.2 185.9,41.2 187.1,41.2 188.3,41.2 189.4,41.2 190.6,41.2 191.8,41.2 192.9,41.2 194.1,41.2 195.3,41.1 196.4,41.1 197.6,41.1 198.8,41.0 199.9,41.0 201.1,41.1 202.3,41.1 203.4,41.1 204.6,41.1 205.7,41.1 206.9,41.1 208.1,41.1 209.2,41.1 210.4,41.0 211.6,41.0 212.7,41.0 213.9,41.0 215.1,41.0 216.2,41.0 217.4,41.0 218.6,41.0 219.7,41.0 220.9,41.1 222.1,41.1 223.2,41.1 224.4,41.1 225.6,41.1 226.7,41.0 227.9,41.0 229.0,40.9 230.2,40.9 231.4,40.8 232.5,40.8 233.7,40.8 234.9,40.8 236.0,40.8 237.2,40.8 238.4,40.8 239.5,40.8 240.7,40.8 241.9,40.8 243.0,40.8 244.2,40.7 245.4,40.7 246.5,40.7 247.7,40.6 248.9,40.6 250.0,40.5 251.2,40.5 252.4,40.5 253.5,40.5 254.7,40.5 255.8,40.5 257.0,40.4 258.2,40.4 259.3,40.3 260.5,40.3 261.7,40.3 262.8,40.3 264.0,40.3 265.2,40.3 266.3,40.3 267.5,40.3" stroke="#0b00ee" stroke-width="1.08"/>
<polyline points="163.8,41.5 165.0,41.5 166.1,41.5 167.3,41.5 168.5,41.5 169.6,41.5 170.8,41.5 172.0,41.5 173.1,41.4 174.3,41.4 175.5,41.4 176.6,41.4 177.8,41.3 178.9,41.3 180.1,41.3 181.3,41.3 182.4,41.3 183.6,41.2 184.8,41.2 185.9,41.2 187.1,41.2 188.3,41.1 189.4,41.1 190.6,41.1 191.8,41.1 192.9,41.1 194.1,41.1 195.3,41.1 196.4,41.0 197.6,41.0 198.8,41.0 199.9,41.0 201.1,41.1 202.3,41.1 203.4,41.1 204.6,41.1 205.7,41.1 206.9,41.0 208.1,41.0 209.2,41.0 210.4,41.0 211.6,41.0 212.7,41.0 213.9,41.0 215.1,41.0 216.2,41.0 217.4,40.9 218.6,40.9 219.7,40.9 220.9,40.8 222.1,40.8 223.2,40.8 224.4,40.8 225.6,40.8 226.7,40.7 227.9,40.8 229.0,40.8 230.2,40.8 231.4,40.8 232.5,40.8 233.7,40.7 234.9,40.7 236.0,40.7 237.2,40.7 238.4,40.7 239.5,40.7 240.7,40.6 241.9,40.6 243.0,40.5 244.2,40.5 245.4,40.4 246.5,40.4 247.7,40.4 248.9,40.3 250.0,40.3 251.2,40.2 252.4,40.2 253.5,40.2 254.7,40.2 255.8,40.2 257.0,40.2 258.2,40.1 259.3,40.1 260.5,40.1 261.7,40.0 262.8,40.0 264.0,39.9 265.2,39.9 266.3,39.8 267.5,39.8" stroke="#0800f0" stroke-width="1.08"/>
<polyline points="163.8,41.6 165.0,41.6 166.1,41.5 167.3,41.5 168.5,41.4 169.6,41.4 170.8,41.4 172.0,41.4 173.1,41.3 174.3,41.3 175.5,41.3 176.6,41.2 177.8,41.2 178.9,41.3 180.1,41.2 181.3,41.2 182.4,41.2 183.6,41.2 184.8,41.2 185.9,41.2 187.1,41.1 188.3,41.1 189.4,41.1 190.6,41.0 191.8,41.0 192.9,41.0 194.1,41.0 195.3,41.0 196.4,41.0 197.6,41.0 198.8,41.0 199.9,41.0 201.1,41.0 202.3,41.0 203.4,41.0 204.6,41.0 205.7,41.0 206.9,41.0 208.1,41.0 209.2,41.0 210.4,40.9 211.6,40.8 212.7,40.8 213.9,40.7 215.1,40.7 216.2,40.8 217.4,40.8 218.6,40.9 219.7,40.9 220.9,40.9 222.1,40.9 223.2,40.9 224.4,40.8 225.6,40.8 226.7,40.7 227.9,40.7 229.0,40.7 230.2,40.7 231.4,40.7 232.5,40.7 233.7,40.6 234.9,40.6 236.0,40.5 237.2,40.5 238.4,40.4 239.5,40.3 240.7,40.3 241.9,40.3 243.0,40.3 244.2,40.3 245.4,40.3 246.5,40.2 247.7,40.1 248.9,40.1 250.0,40.1 251.2,40.1 252.4,40.1 253.5,40.1 254.7,40.1 255.8,40.1 257.0,40.0 258.2,40.0 259.3,39.9 260.5,39.9 261.7,39.8 262.8,39.8 264.0,39.7 265.2,39.7 266.3,39.7 267.5,39.6" stroke="#0500f3" stroke-width="1.08"/>
<polyline points="163.8,41.5 165.0,41.5 166.1,41.4 167.3,41.4 168.5,41.4 169.6,41.4 170.8,41.4 172.0,41.3 173.1,41.3 174.3,41.3 175.5,41.3 176.6,41.3 177.8,41.2 178.9,41.2 180.1,41.2 181.3,41.1 182.4,41.1 183.6,41.0 184.8,41.0 185.9,41.0 187.1,41.0 188.3,41.0 189.4,41.0 190.6,41.1 191.8,41.1 192.9,41.1 194.1,41.0 195.3,41.0 196.4,40.9 197.6,40.9 198.8,40.9 199.9,40.9 201.1,40.9 202.3,40.9 203.4,40.9 204.6,40.9 205.7,40.9 206.9,40.9 208.1,40.9 209.2,40.9 210.4,40.8 211.6,40.8 212.7,40.8 213.9,40.8 215.1,40.8 216.2,40.8 217.4,40.7 218.6,40.7 219.7,40.6 220.9,40.6 222.1,40.6 223.2,40.6 224.4,40.6 225.6,40.6 226.7,40.6 227.9,40.5 229.0,40.5 230.2,40.5 231.4,40.5 232.5,40.5 233.7,40.5 234.9,40.4 236.0,40.4 237.2,40.4 238.4,40.3 239.5,40.3 240.7,40.2 241.9,40.2 243.0,40.1 244.2,40.1 245.4,40.1 246.5,40.1 247.7,40.0 248.9,40.0 250.0,39.9 251.2,39.9 252.4,39.9 253.5,39.8 254.7,39.8 255.8,39.8 257.0,39.7 258.2,39.7 259.3,39.7 260.5,39.7 261.7,39.7 262.8,39.6 264.0,39.6 265.2,39.5 266.3,39.5 267.5,39.4" stroke="#0300f6" stroke-width="1.08"/>
<polyline points="163.8,41.5 165.0,41.5 166.1,41.4 167.3,41.4 168.5,41.4 169.6,41.3 170.8,41.3 172.0,41.2 173.1,41.1 174.3,41.1 175.5,41.1 176.6,41.1 177.8,41.1 178.9,41.1 180.1,41.1 181.3,41.1 182.4,41.1 183.6,41.1 184.8,41.1 185.9,41.1 187.1,41.1 188.3,41.0 189.4,41.0 190.6,41.0 191.8,41.0 192.9,41.0 194.1,41.0 195.3,40.9 196.4,40.9 197.6,40.9 198.8,40.9 199.9,40.8 201.1,40.8 202.3,40.8 203.4,40.7 204.6,40.8 205.7,40.8 206.9,40.8 208.1,40.8 209.2,40.8 210.4,40.8 211.6,40.7 212.7,40.7 213.9,40.6 215.1,40.6 216.2,40.5 217.4,40.5 218.6,40.5 219.7,40.5 220.9,40.5 222.1,40.5 223.2,40.5 224.4,40.5 225.6,40.5 226.7,40.5 227.9,40.5 229.0,40.5 230.2,40.4 231.4,40.3 232.5,40.2 233.7,40.2 234.9,40.1 236.0,40.1 237.2,40.1 238.4,40.1 239.5,40.0 240.7,40.0 241.9,39.9 243.0,39.9 244.2,39.9 245.4,39.9 246.5,39.8 247.7,39.8 248.9,39.8 250.0,39.7 251.2,39.7 252.4,39.7 253.5,39.7 254.7,39.7 255.8,39.6 257.0,39.6 258.2,39.5 259.3,39.5 260.5,39.4 261.7,39.4 262.8,39.3 264.0,39.2 265.2,39.1 266.3,39.0 267.5,39.0" stroke="#0000f8" stroke-width="1.08"/>
</g>
<path d="M163.8 71.3v-1.1M163.8 11.8v1.1M193.4 71.3v-1.1M193.4 11.8v1.1M223.1 71.3v-1.1M223.1 11.8v1.1M252.7 71.3v-1.1M252.7 11.8v1.1M163.8 71.3h1.1M267.5 71.3h-1.1M163.8 56.4h1.1M267.5 56.4h-1.1M163.8 41.5h1.1M267.5 41.5h-1.1M163.8 26.7h1.1M267.5 26.7h-1.1M163.8 11.8h1.1M267.5 11.8h-1.1" stroke="#9c9c9c" stroke-width="0.6" fill="none"/>
<rect x="163.8" y="11.8" width="103.7" height="59.5" fill="none" stroke="#9c9c9c" stroke-width="0.9"/>
<text x="163.8" y="79.1" text-anchor="middle" class="tk">9</text>
<text x="193.4" y="79.1" text-anchor="middle" class="tk">10</text>
<text x="223.1" y="79.1" text-anchor="middle" class="tk">11</text>
<text x="252.7" y="79.1" text-anchor="middle" class="tk">12</text>
<text x="161.7" y="73.2" text-anchor="end" class="tk">-2</text>
<text x="161.7" y="58.4" text-anchor="end" class="tk">-1</text>
<text x="161.7" y="43.5" text-anchor="end" class="tk">0</text>
<text x="161.7" y="28.6" text-anchor="end" class="tk">1</text>
<text x="161.7" y="13.8" text-anchor="end" class="tk">2</text>
<text x="169.8" y="21.6" class="tb">(e) B-ASB-J1</text>
<text transform="translate(153.9 41.5) rotate(-90)" text-anchor="middle" class="ql"><tspan class="qi">q&#773;</tspan><tspan class="sub" dy="1">s</tspan><tspan dy="-1"> [m</tspan><tspan class="sub" dy="-1.6">3</tspan><tspan dy="1.6">/(ms)]</tspan></text>
<text x="165.0" y="10.1" class="ex">&#215;10<tspan class="es" dy="-2.6">-6</tspan></text>
</g>
<g>
<rect x="163.8" y="95.4" width="103.7" height="59.5" fill="#fff"/>
<path d="M193.4 95.4V154.9M223.1 95.4V154.9M252.7 95.4V154.9M163.8 140.0H267.5M163.8 125.2H267.5M163.8 110.3H267.5" stroke="#e4e4e4" stroke-width="0.7" fill="none"/>
<clipPath id="c6"><rect x="163.8" y="95.4" width="103.7" height="59.5"/></clipPath>
<g clip-path="url(#c6)" fill="none" stroke-linejoin="round" stroke-linecap="round">
<polyline points="163.8,121.8 165.0,121.8 166.1,121.9 167.3,121.9 168.5,122.0 169.6,122.0 170.8,122.1 172.0,122.3 173.1,122.4 174.3,122.6 175.5,122.7 176.6,122.8 177.8,122.8 178.9,122.9 180.1,123.0 181.3,123.1 182.4,123.2 183.6,123.3 184.8,123.4 185.9,123.4 187.1,123.5 188.3,123.6 189.4,123.7 190.6,123.9 191.8,124.0 192.9,124.1 194.1,124.1 195.3,124.2 196.4,124.3 197.6,124.3 198.8,124.5 199.9,124.6 201.1,124.7 202.3,124.9 203.4,124.9 204.6,124.9 205.7,125.0 206.9,125.0 208.1,125.1 209.2,125.3 210.4,125.5 211.6,125.7 212.7,125.9 213.9,126.2 215.1,126.4 216.2,126.7 217.4,127.0 218.6,127.3 219.7,127.6 220.9,127.9 222.1,128.1 223.2,128.3 224.4,128.5 225.6,128.8 226.7,129.0 227.9,129.2 229.0,129.4 230.2,129.4 231.4,129.5 232.5,129.4 233.7,129.3 234.9,129.1 236.0,128.7 237.2,128.3 238.4,127.9 239.5,127.5 240.7,127.3 241.9,127.1 243.0,126.9 244.2,126.8 245.4,126.7 246.5,126.5 247.7,126.4 248.9,126.2 250.0,126.0 251.2,125.9 252.4,125.8 253.5,125.7 254.7,125.7 255.8,125.8 257.0,125.8 258.2,126.0 259.3,126.0 260.5,126.0 261.7,126.0 262.8,126.0 264.0,126.0 265.2,126.0 266.3,126.0 267.5,126.0" stroke="#d40030" stroke-width="1.44"/>
<polyline points="163.8,121.9 165.0,121.9 166.1,121.9 167.3,121.9 168.5,121.9 169.6,122.0 170.8,122.1 172.0,122.2 173.1,122.3 174.3,122.4 175.5,122.4 176.6,122.4 177.8,122.5 178.9,122.6 180.1,122.7 181.3,122.8 182.4,122.9 183.6,123.0 184.8,123.1 185.9,123.3 187.1,123.4 188.3,123.5 189.4,123.5 190.6,123.6 191.8,123.6 192.9,123.7 194.1,123.7 195.3,123.8 196.4,123.9 197.6,123.9 198.8,123.9 199.9,124.0 201.1,124.0 202.3,124.1 203.4,124.2 204.6,124.4 205.7,124.6 206.9,124.8 208.1,125.0 209.2,125.1 210.4,125.3 211.6,125.4 212.7,125.6 213.9,125.7 215.1,125.9 216.2,126.1 217.4,126.3 218.6,126.4 219.7,126.6 220.9,126.7 222.1,127.0 223.2,127.2 224.4,127.4 225.6,127.6 226.7,127.7 227.9,127.8 229.0,127.9 230.2,128.0 231.4,128.1 232.5,128.2 233.7,128.3 234.9,128.4 236.0,128.4 237.2,128.4 238.4,128.3 239.5,128.3 240.7,128.2 241.9,128.1 243.0,128.1 244.2,128.1 245.4,128.2 246.5,128.3 247.7,128.3 248.9,128.3 250.0,128.3 251.2,128.3 252.4,128.3 253.5,128.4 254.7,128.5 255.8,128.6 257.0,128.7 258.2,128.7 259.3,128.8 260.5,128.9 261.7,129.1 262.8,129.2 264.0,129.3 265.2,129.4 266.3,129.5 267.5,129.6" stroke="#c30040" stroke-width="1.44"/>
<polyline points="163.8,122.0 165.0,122.1 166.1,122.2 167.3,122.3 168.5,122.3 169.6,122.4 170.8,122.4 172.0,122.5 173.1,122.6 174.3,122.7 175.5,122.8 176.6,122.9 177.8,123.0 178.9,123.1 180.1,123.2 181.3,123.3 182.4,123.4 183.6,123.4 184.8,123.4 185.9,123.4 187.1,123.5 188.3,123.5 189.4,123.5 190.6,123.5 191.8,123.4 192.9,123.4 194.1,123.4 195.3,123.4 196.4,123.3 197.6,123.2 198.8,123.2 199.9,123.3 201.1,123.3 202.3,123.3 203.4,123.2 204.6,123.0 205.7,122.8 206.9,122.6 208.1,122.5 209.2,122.4 210.4,122.3 211.6,122.3 212.7,122.2 213.9,122.2 215.1,122.2 216.2,122.2 217.4,122.2 218.6,122.3 219.7,122.4 220.9,122.6 222.1,122.8 223.2,123.0 224.4,123.2 225.6,123.4 226.7,123.5 227.9,123.6 229.0,123.5 230.2,123.5 231.4,123.4 232.5,123.4 233.7,123.4 234.9,123.4 236.0,123.4 237.2,123.4 238.4,123.2 239.5,123.2 240.7,123.2 241.9,123.2 243.0,123.2 244.2,123.2 245.4,123.2 246.5,123.1 247.7,123.0 248.9,122.8 250.0,122.6 251.2,122.4 252.4,122.3 253.5,122.1 254.7,122.0 255.8,121.8 257.0,121.7 258.2,121.5 259.3,121.4 260.5,121.4 261.7,121.3 262.8,121.2 264.0,121.1 265.2,121.0 266.3,120.8 267.5,120.7" stroke="#b4004e" stroke-width="1.44"/>
<polyline points="163.8,121.9 165.0,122.0 166.1,122.0 167.3,122.1 168.5,122.2 169.6,122.3 170.8,122.4 172.0,122.5 173.1,122.6 174.3,122.8 175.5,122.9 176.6,123.0 177.8,123.0 178.9,123.1 180.1,123.1 181.3,123.2 182.4,123.4 183.6,123.4 184.8,123.4 185.9,123.4 187.1,123.3 188.3,123.3 189.4,123.3 190.6,123.3 191.8,123.4 192.9,123.5 194.1,123.7 195.3,123.8 196.4,123.8 197.6,123.8 198.8,123.7 199.9,123.7 201.1,123.8 202.3,123.9 203.4,124.0 204.6,124.0 205.7,124.0 206.9,124.0 208.1,124.1 209.2,124.2 210.4,124.2 211.6,124.2 212.7,124.3 213.9,124.3 215.1,124.4 216.2,124.5 217.4,124.5 218.6,124.5 219.7,124.5 220.9,124.5 222.1,124.6 223.2,124.7 224.4,124.8 225.6,125.0 226.7,125.1 227.9,125.2 229.0,125.4 230.2,125.5 231.4,125.6 232.5,125.8 233.7,125.9 234.9,125.9 236.0,125.9 237.2,125.9 238.4,125.9 239.5,125.9 240.7,125.8 241.9,125.8 243.0,125.7 244.2,125.7 245.4,125.6 246.5,125.6 247.7,125.5 248.9,125.4 250.0,125.3 251.2,125.3 252.4,125.2 253.5,125.1 254.7,125.1 255.8,125.1 257.0,125.0 258.2,124.9 259.3,124.6 260.5,124.4 261.7,124.2 262.8,124.0 264.0,124.0 265.2,123.9 266.3,123.9 267.5,123.8" stroke="#9f0062" stroke-width="1.44"/>
<polyline points="163.8,121.9 165.0,121.9 166.1,122.0 167.3,122.0 168.5,122.1 169.6,122.2 170.8,122.4 172.0,122.6 173.1,122.7 174.3,122.8 175.5,122.8 176.6,122.8 177.8,122.8 178.9,122.8 180.1,122.9 181.3,122.9 182.4,123.0 183.6,123.1 184.8,123.1 185.9,123.2 187.1,123.2 188.3,123.3 189.4,123.3 190.6,123.3 191.8,123.3 192.9,123.3 194.1,123.3 195.3,123.3 196.4,123.4 197.6,123.4 198.8,123.5 199.9,123.5 201.1,123.5 202.3,123.5 203.4,123.5 204.6,123.6 205.7,123.7 206.9,123.7 208.1,123.8 209.2,123.8 210.4,123.8 211.6,123.8 212.7,123.8 213.9,123.8 215.1,123.8 216.2,123.8 217.4,123.7 218.6,123.8 219.7,123.8 220.9,123.9 222.1,123.9 223.2,124.0 224.4,124.0 225.6,124.1 226.7,124.2 227.9,124.3 229.0,124.4 230.2,124.6 231.4,124.7 232.5,124.7 233.7,124.8 234.9,124.9 236.0,125.0 237.2,125.1 238.4,125.1 239.5,125.2 240.7,125.3 241.9,125.5 243.0,125.6 244.2,125.7 245.4,125.9 246.5,126.0 247.7,126.1 248.9,126.2 250.0,126.4 251.2,126.5 252.4,126.6 253.5,126.7 254.7,126.8 255.8,126.9 257.0,127.1 258.2,127.2 259.3,127.4 260.5,127.5 261.7,127.6 262.8,127.8 264.0,127.9 265.2,128.0 266.3,128.1 267.5,128.2" stroke="#8a0076" stroke-width="1.44"/>
<polyline points="163.8,121.8 165.0,121.9 166.1,122.0 167.3,122.2 168.5,122.3 169.6,122.3 170.8,122.4 172.0,122.3 173.1,122.4 174.3,122.5 175.5,122.5 176.6,122.7 177.8,122.8 178.9,122.8 180.1,123.0 181.3,123.0 182.4,123.0 183.6,123.1 184.8,123.1 185.9,123.2 187.1,123.2 188.3,123.3 189.4,123.3 190.6,123.4 191.8,123.4 192.9,123.3 194.1,123.3 195.3,123.3 196.4,123.3 197.6,123.3 198.8,123.3 199.9,123.3 201.1,123.2 202.3,123.1 203.4,123.0 204.6,123.1 205.7,123.1 206.9,123.2 208.1,123.3 209.2,123.3 210.4,123.3 211.6,123.3 212.7,123.3 213.9,123.3 215.1,123.3 216.2,123.4 217.4,123.4 218.6,123.5 219.7,123.5 220.9,123.5 222.1,123.5 223.2,123.5 224.4,123.5 225.6,123.5 226.7,123.4 227.9,123.3 229.0,123.3 230.2,123.2 231.4,123.1 232.5,123.1 233.7,123.0 234.9,123.0 236.0,122.9 237.2,122.9 238.4,122.9 239.5,122.9 240.7,122.8 241.9,122.8 243.0,122.7 244.2,122.6 245.4,122.5 246.5,122.4 247.7,122.4 248.9,122.3 250.0,122.2 251.2,122.2 252.4,122.2 253.5,122.2 254.7,122.2 255.8,122.1 257.0,122.1 258.2,122.1 259.3,122.2 260.5,122.2 261.7,122.2 262.8,122.2 264.0,122.1 265.2,122.0 266.3,122.0 267.5,122.0" stroke="#75008a" stroke-width="1.44"/>
<polyline points="163.8,121.8 165.0,121.9 166.1,121.9 167.3,121.9 168.5,122.0 169.6,122.1 170.8,122.2 172.0,122.3 173.1,122.4 174.3,122.5 175.5,122.6 176.6,122.7 177.8,122.8 178.9,122.8 180.1,122.9 181.3,122.9 182.4,122.9 183.6,123.0 184.8,123.1 185.9,123.1 187.1,123.2 188.3,123.2 189.4,123.3 190.6,123.3 191.8,123.2 192.9,123.3 194.1,123.3 195.3,123.4 196.4,123.5 197.6,123.5 198.8,123.5 199.9,123.5 201.1,123.5 202.3,123.4 203.4,123.4 204.6,123.4 205.7,123.4 206.9,123.4 208.1,123.4 209.2,123.4 210.4,123.4 211.6,123.3 212.7,123.4 213.9,123.5 215.1,123.5 216.2,123.7 217.4,123.7 218.6,123.7 219.7,123.7 220.9,123.6 222.1,123.6 223.2,123.7 224.4,123.7 225.6,123.7 226.7,123.8 227.9,123.8 229.0,123.9 230.2,124.0 231.4,124.2 232.5,124.3 233.7,124.3 234.9,124.4 236.0,124.3 237.2,124.3 238.4,124.3 239.5,124.3 240.7,124.4 241.9,124.6 243.0,124.7 244.2,124.9 245.4,125.0 246.5,125.1 247.7,125.1 248.9,125.2 250.0,125.2 251.2,125.3 252.4,125.4 253.5,125.5 254.7,125.5 255.8,125.6 257.0,125.6 258.2,125.6 259.3,125.5 260.5,125.5 261.7,125.4 262.8,125.4 264.0,125.5 265.2,125.5 266.3,125.5 267.5,125.6" stroke="#5f009e" stroke-width="1.44"/>
<polyline points="163.8,121.9 165.0,122.0 166.1,122.0 167.3,122.1 168.5,122.2 169.6,122.2 170.8,122.3 172.0,122.4 173.1,122.5 174.3,122.5 175.5,122.6 176.6,122.6 177.8,122.7 178.9,122.8 180.1,122.9 181.3,122.9 182.4,123.0 183.6,123.0 184.8,123.1 185.9,123.1 187.1,123.2 188.3,123.1 189.4,123.1 190.6,123.0 191.8,123.0 192.9,123.0 194.1,123.0 195.3,123.1 196.4,123.0 197.6,123.0 198.8,123.0 199.9,122.9 201.1,122.9 202.3,122.9 203.4,122.9 204.6,123.0 205.7,123.0 206.9,123.0 208.1,123.0 209.2,123.0 210.4,123.0 211.6,123.0 212.7,123.0 213.9,123.0 215.1,123.0 216.2,123.0 217.4,123.0 218.6,122.9 219.7,122.7 220.9,122.6 222.1,122.4 223.2,122.3 224.4,122.1 225.6,121.9 226.7,121.7 227.9,121.4 229.0,121.2 230.2,121.0 231.4,120.8 232.5,120.7 233.7,120.5 234.9,120.4 236.0,120.2 237.2,120.0 238.4,119.8 239.5,119.7 240.7,119.5 241.9,119.4 243.0,119.2 244.2,118.9 245.4,118.6 246.5,118.4 247.7,118.2 248.9,118.1 250.0,117.9 251.2,117.8 252.4,117.6 253.5,117.5 254.7,117.4 255.8,117.3 257.0,117.2 258.2,117.2 259.3,117.0 260.5,116.9 261.7,116.7 262.8,116.6 264.0,116.5 265.2,116.4 266.3,116.3 267.5,116.2" stroke="#4a00b2" stroke-width="1.56"/>
<polyline points="163.8,121.7 165.0,121.8 166.1,121.9 167.3,122.0 168.5,122.1 169.6,122.2 170.8,122.3 172.0,122.4 173.1,122.4 174.3,122.4 175.5,122.4 176.6,122.5 177.8,122.5 178.9,122.6 180.1,122.7 181.3,122.7 182.4,122.8 183.6,122.8 184.8,122.7 185.9,122.8 187.1,122.8 188.3,122.8 189.4,122.9 190.6,122.9 191.8,122.9 192.9,123.0 194.1,123.0 195.3,123.1 196.4,123.2 197.6,123.3 198.8,123.5 199.9,123.5 201.1,123.5 202.3,123.5 203.4,123.5 204.6,123.5 205.7,123.5 206.9,123.5 208.1,123.5 209.2,123.5 210.4,123.5 211.6,123.5 212.7,123.6 213.9,123.6 215.1,123.6 216.2,123.6 217.4,123.6 218.6,123.7 219.7,123.8 220.9,123.9 222.1,124.0 223.2,124.0 224.4,124.1 225.6,124.3 226.7,124.4 227.9,124.5 229.0,124.7 230.2,124.9 231.4,125.1 232.5,125.5 233.7,125.8 234.9,126.0 236.0,126.3 237.2,126.4 238.4,126.5 239.5,126.6 240.7,126.8 241.9,126.9 243.0,127.1 244.2,127.2 245.4,127.3 246.5,127.3 247.7,127.4 248.9,127.6 250.0,127.7 251.2,127.9 252.4,128.0 253.5,128.2 254.7,128.4 255.8,128.6 257.0,128.8 258.2,129.0 259.3,129.1 260.5,129.3 261.7,129.5 262.8,129.9 264.0,130.2 265.2,130.5 266.3,130.8 267.5,131.0" stroke="#2a00d0" stroke-width="1.56"/>
<polyline points="163.8,121.9 165.0,122.1 166.1,122.1 167.3,122.1 168.5,122.2 169.6,122.1 170.8,122.2 172.0,122.2 173.1,122.3 174.3,122.5 175.5,122.6 176.6,122.7 177.8,122.7 178.9,122.7 180.1,122.8 181.3,122.9 182.4,123.0 183.6,123.1 184.8,123.2 185.9,123.3 187.1,123.3 188.3,123.4 189.4,123.4 190.6,123.4 191.8,123.5 192.9,123.4 194.1,123.4 195.3,123.4 196.4,123.3 197.6,123.3 198.8,123.3 199.9,123.3 201.1,123.3 202.3,123.3 203.4,123.4 204.6,123.5 205.7,123.5 206.9,123.6 208.1,123.6 209.2,123.6 210.4,123.6 211.6,123.6 212.7,123.6 213.9,123.6 215.1,123.6 216.2,123.7 217.4,123.8 218.6,123.9 219.7,124.0 220.9,124.2 222.1,124.4 223.2,124.6 224.4,124.9 225.6,125.2 226.7,125.5 227.9,125.8 229.0,125.9 230.2,126.2 231.4,126.4 232.5,126.6 233.7,126.9 234.9,127.2 236.0,127.4 237.2,127.8 238.4,128.1 239.5,128.5 240.7,128.8 241.9,129.1 243.0,129.3 244.2,129.6 245.4,129.9 246.5,130.2 247.7,130.5 248.9,130.8 250.0,131.2 251.2,131.5 252.4,131.8 253.5,132.2 254.7,132.5 255.8,132.8 257.0,133.1 258.2,133.4 259.3,133.7 260.5,134.0 261.7,134.3 262.8,134.6 264.0,134.8 265.2,135.2 266.3,135.5 267.5,135.8" stroke="#0000f8" stroke-width="1.80"/>
<polyline points="163.8,121.8 165.0,121.9 166.1,122.0 167.3,122.0 168.5,122.1 169.6,122.2 170.8,122.2 172.0,122.2 173.1,122.3 174.3,122.4 175.5,122.5 176.6,122.6 177.8,122.6 178.9,122.7 180.1,122.8 181.3,122.8 182.4,122.8 183.6,122.8 184.8,122.7 185.9,122.8 187.1,122.8 188.3,122.9 189.4,123.0 190.6,123.0 191.8,123.0 192.9,123.0 194.1,123.0 195.3,123.0 196.4,123.0 197.6,123.0 198.8,123.0 199.9,123.0 201.1,122.9 202.3,122.9 203.4,122.9 204.6,122.9 205.7,123.0 206.9,123.0 208.1,122.9 209.2,122.8 210.4,122.7 211.6,122.7 212.7,122.8 213.9,122.8 215.1,122.9 216.2,122.8 217.4,122.6 218.6,122.5 219.7,122.4 220.9,122.3 222.1,122.1 223.2,121.9 224.4,121.6 225.6,121.4 226.7,121.2 227.9,120.9 229.0,120.7 230.2,120.4 231.4,120.0 232.5,119.8 233.7,119.5 234.9,119.2 236.0,118.9 237.2,118.6 238.4,118.4 239.5,118.1 240.7,117.8 241.9,117.5 243.0,117.1 244.2,116.7 245.4,116.2 246.5,115.8 247.7,115.4 248.9,115.1 250.0,114.9 251.2,114.6 252.4,114.3 253.5,113.9 254.7,113.5 255.8,113.1 257.0,112.7 258.2,112.2 259.3,111.8 260.5,111.4 261.7,111.0 262.8,110.6 264.0,110.3 265.2,109.9 266.3,109.6 267.5,109.2" stroke="#0000f8" stroke-width="1.80"/>
</g>
<path d="M163.8 154.9v-1.1M163.8 95.4v1.1M193.4 154.9v-1.1M193.4 95.4v1.1M223.1 154.9v-1.1M223.1 95.4v1.1M252.7 154.9v-1.1M252.7 95.4v1.1M163.8 154.9h1.1M267.5 154.9h-1.1M163.8 140.0h1.1M267.5 140.0h-1.1M163.8 125.2h1.1M267.5 125.2h-1.1M163.8 110.3h1.1M267.5 110.3h-1.1M163.8 95.4h1.1M267.5 95.4h-1.1" stroke="#9c9c9c" stroke-width="0.6" fill="none"/>
<rect x="163.8" y="95.4" width="103.7" height="59.5" fill="none" stroke="#9c9c9c" stroke-width="0.9"/>
<text x="163.8" y="162.7" text-anchor="middle" class="tk">9</text>
<text x="193.4" y="162.7" text-anchor="middle" class="tk">10</text>
<text x="223.1" y="162.7" text-anchor="middle" class="tk">11</text>
<text x="252.7" y="162.7" text-anchor="middle" class="tk">12</text>
<text x="161.7" y="156.8" text-anchor="end" class="tk">-2</text>
<text x="161.7" y="142.0" text-anchor="end" class="tk">-1</text>
<text x="161.7" y="127.1" text-anchor="end" class="tk">0</text>
<text x="161.7" y="112.2" text-anchor="end" class="tk">1</text>
<text x="161.7" y="97.4" text-anchor="end" class="tk">2</text>
<text x="169.8" y="105.2" class="tb">(f) B-ASB-J2</text>
<text transform="translate(153.9 125.2) rotate(-90)" text-anchor="middle" class="ql"><tspan class="qi">q&#773;</tspan><tspan class="sub" dy="1">s</tspan><tspan dy="-1"> [m</tspan><tspan class="sub" dy="-1.6">3</tspan><tspan dy="1.6">/(ms)]</tspan></text>
<text x="165.0" y="93.7" class="ex">&#215;10<tspan class="es" dy="-2.6">-6</tspan></text>
</g>
<g>
<rect x="163.8" y="179.0" width="103.7" height="59.5" fill="#fff"/>
<path d="M184.5 179.0V238.5M205.3 179.0V238.5M226.0 179.0V238.5M246.8 179.0V238.5M163.8 223.6H267.5M163.8 208.8H267.5M163.8 193.9H267.5" stroke="#e4e4e4" stroke-width="0.7" fill="none"/>
<clipPath id="c7"><rect x="163.8" y="179.0" width="103.7" height="59.5"/></clipPath>
<g clip-path="url(#c7)" fill="none" stroke-linejoin="round" stroke-linecap="round">
<polyline points="163.8,209.3 164.9,209.3 166.0,209.3 167.2,209.2 168.3,209.3 169.4,209.5 170.5,209.7 171.6,210.0 172.7,210.2 173.9,210.4 175.0,210.5 176.1,210.6 177.2,210.6 178.3,210.7 179.5,210.7 180.6,210.7 181.7,210.7 182.8,210.8 183.9,211.0 185.1,211.2 186.2,211.6 187.3,212.0 188.4,212.3 189.5,212.6 190.6,212.8 191.8,213.0 192.9,213.3 194.0,213.6 195.1,213.9 196.2,214.2 197.4,214.6 198.5,215.0 199.6,215.4 200.7,216.1 201.8,216.8 202.9,217.6 204.1,218.3 205.2,218.8 206.3,219.3 207.4,220.0 208.5,220.8 209.7,221.9 210.8,222.8 211.9,223.6 213.0,224.4 214.1,225.1 215.3,225.8 216.4,226.5 217.5,227.3 218.6,228.1 219.7,228.9 220.8,229.9 222.0,230.6 223.1,231.3 224.2,232.0 225.3,232.4 226.4,232.9 227.6,233.4 228.7,233.8 229.8,234.3 230.9,234.7 232.0,234.9 233.2,235.1 234.3,235.1 235.4,235.5 236.5,235.8 237.6,236.4 238.7,237.1 239.9,237.6 241.0,238.0 242.1,238.3 243.2,238.4 244.3,238.4 245.5,238.5 246.6,238.5 247.7,238.4 248.8,238.4 249.9,238.4 251.0,238.2 252.2,238.1 253.3,237.8 254.4,237.4 255.5,237.1 256.6,236.7 257.8,236.3 258.9,236.0 260.0,235.4 261.1,234.8 262.2,234.3 263.4,233.5" stroke="#c9003a" stroke-width="1.56"/>
<polyline points="163.8,209.7 164.9,209.6 166.0,209.5 167.2,209.5 168.3,209.5 169.4,209.7 170.5,209.9 171.6,210.1 172.7,210.3 173.9,210.4 175.0,210.5 176.1,210.7 177.2,210.8 178.3,211.0 179.5,211.2 180.6,211.4 181.7,211.9 182.8,212.4 183.9,213.0 185.1,213.5 186.2,214.1 187.3,215.0 188.4,216.0 189.5,216.9 190.6,217.6 191.8,218.1 192.9,218.6 194.0,218.9 195.1,219.1 196.2,218.7 197.4,218.0 198.5,217.1 199.6,215.8 200.7,214.7 201.8,213.3 202.9,211.6 204.1,210.1 205.2,208.8 206.3,207.8 207.4,207.1 208.5,206.5 209.7,205.8 210.8,205.0 211.9,204.1 213.0,202.8 214.1,201.4 215.3,199.9 216.4,198.4 217.5,197.2 218.6,196.0 219.7,194.7 220.8,193.5 222.0,193.1 223.1,193.2 224.2,193.5 225.3,194.1 226.4,194.3 227.6,194.6 228.7,194.6 229.8,194.4 230.9,194.4 232.0,194.3 233.2,194.4 234.3,194.5 235.4,194.4 236.5,194.4 237.6,194.2 238.7,194.3 239.9,194.4 241.0,194.6 242.1,194.5 243.2,194.0 244.3,193.3 245.5,192.4 246.6,191.6 247.7,191.2 248.8,191.0 249.9,190.9 251.0,190.8 252.2,190.6 253.3,190.3 254.4,189.9 255.5,189.5 256.6,189.1 257.8,188.7 258.9,188.2 260.0,187.8 261.1,187.4 262.2,186.9 263.4,186.6" stroke="#d40030" stroke-width="1.56"/>
<polyline points="163.8,209.1 164.9,209.2 166.0,209.2 167.2,209.4 168.3,209.8 169.4,209.8 170.5,209.8 171.6,209.8 172.7,209.8 173.9,209.9 175.0,210.0 176.1,210.2 177.2,210.6 178.3,210.7 179.5,210.9 180.6,211.0 181.7,210.7 182.8,210.6 183.9,210.5 185.1,210.4 186.2,210.6 187.3,210.7 188.4,211.1 189.5,211.4 190.6,211.7 191.8,211.9 192.9,211.9 194.0,212.0 195.1,212.2 196.2,212.5 197.4,213.2 198.5,213.8 199.6,214.4 200.7,214.8 201.8,215.1 202.9,215.2 204.1,215.1 205.2,215.1 206.3,215.2 207.4,215.4 208.5,215.6 209.7,215.7 210.8,215.2 211.9,214.3 213.0,213.2 214.1,212.3 215.3,211.8 216.4,211.5 217.5,211.2 218.6,210.7 219.7,210.2 220.8,209.8 222.0,209.6 223.1,210.1 224.2,211.0 225.3,212.0 226.4,212.6 227.6,212.9 228.7,213.3 229.8,213.6 230.9,213.9 232.0,214.3 233.2,214.2 234.3,214.1 235.4,213.8 236.5,213.3 237.6,213.0 238.7,212.6 239.9,212.2 241.0,211.8 242.1,211.1 243.2,210.4 244.3,209.4 245.5,208.1 246.6,206.9 247.7,205.6 248.8,204.4 249.9,203.6 251.0,202.8 252.2,202.2 253.3,201.7 254.4,201.2 255.5,200.8 256.6,200.5 257.8,199.9 258.9,199.2 260.0,198.3 261.1,197.5 262.2,196.9 263.4,196.4" stroke="#bf0044" stroke-width="1.56"/>
<polyline points="163.8,209.2 164.9,209.1 166.0,209.0 167.2,209.1 168.3,209.1 169.4,209.1 170.5,209.1 171.6,209.1 172.7,209.2 173.9,209.1 175.0,209.0 176.1,208.9 177.2,208.9 178.3,209.0 179.5,209.2 180.6,209.1 181.7,209.1 182.8,209.2 183.9,209.1 185.1,209.1 186.2,209.1 187.3,208.9 188.4,208.9 189.5,208.9 190.6,208.9 191.8,209.0 192.9,209.0 194.0,208.8 195.1,208.8 196.2,208.7 197.4,208.9 198.5,209.2 199.6,209.4 200.7,209.8 201.8,210.2 202.9,210.6 204.1,211.1 205.2,211.1 206.3,211.0 207.4,210.5 208.5,209.8 209.7,209.2 210.8,208.7 211.9,208.3 213.0,207.8 214.1,207.5 215.3,207.2 216.4,207.1 217.5,207.1 218.6,207.1 219.7,207.1 220.8,207.0 222.0,207.0 223.1,206.9 224.2,206.6 225.3,206.4 226.4,206.2 227.6,206.5 228.7,207.1 229.8,208.1 230.9,209.3 232.0,210.5 233.2,211.5 234.3,212.1 235.4,212.2 236.5,212.1 237.6,211.9 238.7,211.9 239.9,212.1 241.0,212.2 242.1,212.2 243.2,212.2 244.3,211.9 245.5,211.8 246.6,211.7 247.7,211.6 248.8,211.4 249.9,211.1 251.0,211.0 252.2,210.8 253.3,210.7 254.4,210.7 255.5,210.3 256.6,209.9 257.8,209.3 258.9,208.7 260.0,208.3 261.1,207.9 262.2,207.6 263.4,207.2" stroke="#7f0080" stroke-width="1.56"/>
<polyline points="163.8,209.5 164.9,209.7 166.0,209.8 167.2,209.8 168.3,209.6 169.4,209.4 170.5,209.3 171.6,209.3 172.7,209.4 173.9,209.6 175.0,209.7 176.1,209.7 177.2,209.8 178.3,209.8 179.5,209.8 180.6,209.9 181.7,210.0 182.8,210.1 183.9,210.2 185.1,210.3 186.2,210.4 187.3,210.7 188.4,210.9 189.5,211.2 190.6,211.5 191.8,211.5 192.9,211.6 194.0,211.5 195.1,211.6 196.2,211.7 197.4,212.0 198.5,212.6 199.6,213.1 200.7,213.5 201.8,213.9 202.9,214.2 204.1,214.5 205.2,214.8 206.3,215.1 207.4,215.4 208.5,215.4 209.7,215.5 210.8,215.5 211.9,215.6 213.0,215.8 214.1,215.9 215.3,216.1 216.4,216.1 217.5,216.3 218.6,216.5 219.7,216.7 220.8,217.0 222.0,217.0 223.1,217.1 224.2,217.2 225.3,217.2 226.4,217.5 227.6,217.9 228.7,218.4 229.8,218.7 230.9,219.0 232.0,219.0 233.2,219.0 234.3,219.0 235.4,219.0 236.5,219.0 237.6,219.1 238.7,219.2 239.9,219.2 241.0,219.1 242.1,219.0 243.2,218.9 244.3,218.8 245.5,218.7 246.6,218.5 247.7,218.3 248.8,218.0 249.9,217.5 251.0,217.1 252.2,216.7 253.3,216.5 254.4,216.4 255.5,216.3 256.6,216.3 257.8,216.2 258.9,216.1 260.0,216.3 261.1,216.4 262.2,216.7 263.4,217.1" stroke="#75008a" stroke-width="1.56"/>
<polyline points="163.8,209.6 164.9,209.6 166.0,209.6 167.2,209.6 168.3,209.6 169.4,209.5 170.5,209.3 171.6,209.1 172.7,208.8 173.9,208.5 175.0,208.3 176.1,208.2 177.2,208.2 178.3,208.3 179.5,208.5 180.6,208.7 181.7,208.7 182.8,208.8 183.9,208.5 185.1,208.1 186.2,207.7 187.3,207.3 188.4,207.1 189.5,206.9 190.6,206.7 191.8,206.5 192.9,206.3 194.0,205.8 195.1,205.4 196.2,205.1 197.4,204.7 198.5,204.5 199.6,204.3 200.7,203.7 201.8,203.1 202.9,202.6 204.1,202.0 205.2,201.7 206.3,201.5 207.4,201.0 208.5,200.5 209.7,199.8 210.8,199.1 211.9,198.5 213.0,198.1 214.1,197.6 215.3,197.2 216.4,196.6 217.5,195.6 218.6,194.6 219.7,193.5 220.8,192.7 222.0,192.4 223.1,192.6 224.2,193.2 225.3,193.9 226.4,194.8 227.6,195.7 228.7,196.4 229.8,196.9 230.9,197.2 232.0,197.3 233.2,197.4 234.3,197.5 235.4,197.5 236.5,197.5 237.6,197.5 238.7,197.5 239.9,197.8 241.0,198.3 242.1,198.7 243.2,199.1 244.3,199.3 245.5,199.3 246.6,199.4 247.7,199.7 248.8,199.8 249.9,200.0 251.0,200.1 252.2,200.1 253.3,200.3 254.4,200.3 255.5,200.4 256.6,200.3 257.8,200.1 258.9,199.9 260.0,199.7 261.1,199.3 262.2,198.7 263.4,198.1" stroke="#5f009e" stroke-width="1.56"/>
<polyline points="163.8,209.2 164.9,209.0 166.0,208.9 167.2,209.1 168.3,209.4 169.4,209.5 170.5,209.6 171.6,209.4 172.7,209.3 173.9,209.3 175.0,209.6 176.1,210.0 177.2,210.3 178.3,210.3 179.5,210.2 180.6,210.0 181.7,209.8 182.8,209.8 183.9,209.9 185.1,210.1 186.2,210.3 187.3,210.5 188.4,210.7 189.5,211.0 190.6,211.3 191.8,211.7 192.9,212.3 194.0,212.8 195.1,213.3 196.2,213.5 197.4,213.6 198.5,213.7 199.6,213.6 200.7,213.8 201.8,214.2 202.9,214.7 204.1,215.4 205.2,216.1 206.3,216.9 207.4,217.8 208.5,218.8 209.7,219.8 210.8,220.9 211.9,222.2 213.0,223.2 214.1,224.2 215.3,225.0 216.4,225.8 217.5,226.7 218.6,227.6 219.7,228.4 220.8,228.9 222.0,229.0 223.1,228.5 224.2,227.6 225.3,226.8 226.4,226.6 227.6,226.5 228.7,226.6 229.8,226.8 230.9,226.9 232.0,227.0 233.2,227.1 234.3,227.2 235.4,227.4 236.5,227.5 237.6,227.8 238.7,228.3 239.9,228.7 241.0,229.2 242.1,229.6 243.2,229.8 244.3,230.0 245.5,230.0 246.6,230.2 247.7,230.3 248.8,230.2 249.9,229.9 251.0,229.2 252.2,228.6 253.3,228.1 254.4,227.8 255.5,228.0 256.6,228.1 257.8,228.1 258.9,228.2 260.0,228.3 261.1,228.5 262.2,228.8 263.4,229.0" stroke="#3500c6" stroke-width="1.56"/>
<polyline points="163.8,209.5 164.9,209.4 166.0,209.5 167.2,209.5 168.3,209.5 169.4,209.6 170.5,209.4 171.6,209.2 172.7,209.0 173.9,208.8 175.0,208.6 176.1,208.6 177.2,208.6 178.3,208.5 179.5,208.3 180.6,208.2 181.7,208.0 182.8,207.8 183.9,207.7 185.1,207.5 186.2,207.4 187.3,207.1 188.4,206.7 189.5,206.4 190.6,205.9 191.8,205.6 192.9,205.3 194.0,205.0 195.1,204.9 196.2,204.9 197.4,204.8 198.5,204.8 199.6,204.6 200.7,204.4 201.8,204.2 202.9,204.0 204.1,203.7 205.2,203.5 206.3,203.1 207.4,202.7 208.5,202.5 209.7,202.2 210.8,202.1 211.9,201.9 213.0,201.6 214.1,201.5 215.3,201.3 216.4,201.2 217.5,201.3 218.6,201.5 219.7,201.9 220.8,202.5 222.0,203.1 223.1,203.6 224.2,204.0 225.3,204.2 226.4,204.3 227.6,204.5 228.7,204.6 229.8,204.7 230.9,204.7 232.0,204.9 233.2,205.1 234.3,205.3 235.4,205.4 236.5,205.4 237.6,205.4 238.7,205.4 239.9,205.3 241.0,205.3 242.1,205.1 243.2,205.3 244.3,205.7 245.5,206.1 246.6,206.3 247.7,206.1 248.8,205.7 249.9,205.1 251.0,204.7 252.2,204.5 253.3,204.2 254.4,203.9 255.5,203.7 256.6,203.3 257.8,203.0 258.9,202.4 260.0,201.6 261.1,200.7 262.2,199.6 263.4,198.5" stroke="#0b00ee" stroke-width="1.68"/>
<polyline points="163.8,209.9 164.9,209.8 166.0,209.8 167.2,209.5 168.3,209.3 169.4,209.3 170.5,209.2 171.6,209.4 172.7,209.4 173.9,209.3 175.0,209.4 176.1,209.2 177.2,209.2 178.3,209.2 179.5,209.2 180.6,209.4 181.7,209.6 182.8,209.6 183.9,209.6 185.1,209.6 186.2,209.7 187.3,209.7 188.4,209.9 189.5,210.0 190.6,210.1 191.8,210.5 192.9,210.9 194.0,211.3 195.1,211.6 196.2,211.9 197.4,212.1 198.5,212.3 199.6,212.5 200.7,212.6 201.8,212.7 202.9,213.0 204.1,213.3 205.2,213.5 206.3,213.6 207.4,213.7 208.5,213.7 209.7,214.1 210.8,214.7 211.9,215.3 213.0,216.0 214.1,216.2 215.3,216.4 216.4,216.6 217.5,216.8 218.6,217.4 219.7,217.8 220.8,218.4 222.0,219.0 223.1,219.3 224.2,219.7 225.3,219.7 226.4,219.7 227.6,219.9 228.7,220.0 229.8,220.1 230.9,220.2 232.0,220.2 233.2,220.3 234.3,220.4 235.4,220.5 236.5,220.7 237.6,220.9 238.7,220.9 239.9,220.9 241.0,220.8 242.1,220.7 243.2,220.8 244.3,221.0 245.5,221.4 246.6,221.6 247.7,221.7 248.8,221.8 249.9,221.9 251.0,222.0 252.2,222.1 253.3,222.1 254.4,222.1 255.5,222.1 256.6,222.1 257.8,222.3 258.9,222.6 260.0,222.9 261.1,223.0 262.2,223.1 263.4,223.0" stroke="#0000f8" stroke-width="1.68"/>
</g>
<path d="M163.8 238.5v-1.1M163.8 179.0v1.1M184.5 238.5v-1.1M184.5 179.0v1.1M205.3 238.5v-1.1M205.3 179.0v1.1M226.0 238.5v-1.1M226.0 179.0v1.1M246.8 238.5v-1.1M246.8 179.0v1.1M267.5 238.5v-1.1M267.5 179.0v1.1M163.8 238.5h1.1M267.5 238.5h-1.1M163.8 223.6h1.1M267.5 223.6h-1.1M163.8 208.8h1.1M267.5 208.8h-1.1M163.8 193.9h1.1M267.5 193.9h-1.1M163.8 179.0h1.1M267.5 179.0h-1.1" stroke="#9c9c9c" stroke-width="0.6" fill="none"/>
<rect x="163.8" y="179.0" width="103.7" height="59.5" fill="none" stroke="#9c9c9c" stroke-width="0.9"/>
<text x="163.8" y="246.3" text-anchor="middle" class="tk">9</text>
<text x="184.5" y="246.3" text-anchor="middle" class="tk">10</text>
<text x="205.3" y="246.3" text-anchor="middle" class="tk">11</text>
<text x="226.0" y="246.3" text-anchor="middle" class="tk">12</text>
<text x="246.8" y="246.3" text-anchor="middle" class="tk">13</text>
<text x="267.5" y="246.3" text-anchor="middle" class="tk">14</text>
<text x="161.7" y="240.4" text-anchor="end" class="tk">-2</text>
<text x="161.7" y="225.6" text-anchor="end" class="tk">-1</text>
<text x="161.7" y="210.7" text-anchor="end" class="tk">0</text>
<text x="161.7" y="195.8" text-anchor="end" class="tk">1</text>
<text x="161.7" y="180.9" text-anchor="end" class="tk">2</text>
<text x="168.0" y="188.8" class="tb">(g) B-ASB-J3</text>
<text transform="translate(153.9 208.8) rotate(-90)" text-anchor="middle" class="ql"><tspan class="qi">q&#773;</tspan><tspan class="sub" dy="1">s</tspan><tspan dy="-1"> [m</tspan><tspan class="sub" dy="-1.6">3</tspan><tspan dy="1.6">/(ms)]</tspan></text>
<text x="165.0" y="177.3" class="ex">&#215;10<tspan class="es" dy="-2.6">-6</tspan></text>
</g>
<g>
<rect x="163.8" y="262.4" width="103.7" height="59.5" fill="#fff"/>
<path d="M184.5 262.4V321.9M205.3 262.4V321.9M226.0 262.4V321.9M246.8 262.4V321.9M163.8 307.0H267.5M163.8 292.1H267.5M163.8 277.3H267.5" stroke="#e4e4e4" stroke-width="0.7" fill="none"/>
<clipPath id="c8"><rect x="163.8" y="262.4" width="103.7" height="59.5"/></clipPath>
<g clip-path="url(#c8)" fill="none" stroke-linejoin="round" stroke-linecap="round">
<polyline points="163.8,291.9 164.9,292.6 166.0,293.3 167.2,294.0 168.3,294.7 169.4,295.2 170.5,295.5 171.6,295.9 172.7,296.0 173.9,296.3 175.0,296.6 176.1,297.0 177.2,297.7 178.3,298.4 179.5,299.1 180.6,299.6 181.7,300.2 182.8,300.7 183.9,301.1 185.1,301.6 186.2,302.0 187.3,302.3 188.4,302.8 189.5,303.4 190.6,304.0 191.8,304.9 192.9,305.6 194.0,306.4 195.1,307.1 196.2,307.7 197.4,308.4 198.5,308.8 199.6,309.3 200.7,309.8 201.8,310.1 202.9,310.6 204.1,311.0 205.2,311.3 206.3,311.5 207.4,311.6 208.5,311.5 209.7,311.6 210.8,311.8 211.9,312.1 213.0,312.6 214.1,313.0 215.3,313.4 216.4,313.9 217.5,314.5 218.6,315.1 219.7,315.8 220.8,316.4 222.0,317.0 223.1,317.6 224.2,318.2 225.3,318.9 226.4,319.5 227.6,319.9 228.7,320.3 229.8,320.6 230.9,321.0 232.0,321.3 233.2,321.8 234.3,322.1 235.4,322.0 236.5,321.8 237.6,321.4 238.7,320.8 239.9,320.4 241.0,320.0 242.1,319.7 243.2,319.4 244.3,319.1 245.5,318.7 246.6,318.2 247.7,317.7 248.8,317.1 249.9,316.6 251.0,316.2 252.2,315.9 253.3,315.6 254.4,315.1 255.5,314.8 256.6,314.4 257.8,314.0 258.9,313.6 260.0,313.2 261.1,312.8 262.2,312.3 263.4,311.8" stroke="#d40030" stroke-width="1.68"/>
<polyline points="163.8,292.1 164.9,293.7 166.0,295.1 167.2,296.3 168.3,297.3 169.4,297.9 170.5,298.4 171.6,299.0 172.7,299.4 173.9,299.8 175.0,299.8 176.1,299.7 177.2,299.7 178.3,299.7 179.5,299.9 180.6,300.3 181.7,300.9 182.8,301.3 183.9,301.5 185.1,301.5 186.2,301.3 187.3,301.1 188.4,301.0 189.5,301.0 190.6,301.0 191.8,301.1 192.9,301.3 194.0,301.6 195.1,301.9 196.2,302.3 197.4,302.7 198.5,303.2 199.6,303.5 200.7,303.8 201.8,304.2 202.9,304.5 204.1,304.9 205.2,305.3 206.3,305.6 207.4,305.9 208.5,306.0 209.7,306.1 210.8,306.1 211.9,305.8 213.0,305.5 214.1,305.1 215.3,304.9 216.4,304.9 217.5,305.0 218.6,305.1 219.7,305.3 220.8,305.5 222.0,305.7 223.1,306.0 224.2,306.2 225.3,306.5 226.4,306.9 227.6,307.9 228.7,309.5 229.8,311.2 230.9,312.9 232.0,314.1 233.2,315.0 234.3,315.8 235.4,316.3 236.5,316.9 237.6,317.4 238.7,317.6 239.9,317.8 241.0,317.6 242.1,317.3 243.2,316.9 244.3,316.5 245.5,316.3 246.6,316.0 247.7,315.9 248.8,315.7 249.9,315.4 251.0,315.3 252.2,315.1 253.3,314.7 254.4,314.4 255.5,314.1 256.6,313.8 257.8,313.6 258.9,313.2 260.0,312.8 261.1,312.1 262.2,311.3 263.4,310.5" stroke="#aa0058" stroke-width="1.56"/>
<polyline points="163.8,292.2 164.9,292.1 166.0,292.1 167.2,292.2 168.3,292.3 169.4,292.7 170.5,293.0 171.6,293.2 172.7,293.4 173.9,293.3 175.0,293.2 176.1,293.3 177.2,293.2 178.3,293.4 179.5,293.6 180.6,294.0 181.7,294.4 182.8,294.7 183.9,294.7 185.1,294.6 186.2,294.5 187.3,294.3 188.4,294.3 189.5,294.3 190.6,294.2 191.8,294.4 192.9,294.5 194.0,294.7 195.1,295.0 196.2,295.2 197.4,295.4 198.5,295.8 199.6,296.2 200.7,296.6 201.8,297.0 202.9,297.3 204.1,297.4 205.2,297.5 206.3,297.8 207.4,298.0 208.5,298.3 209.7,298.5 210.8,298.5 211.9,298.6 213.0,298.6 214.1,298.9 215.3,299.2 216.4,299.4 217.5,299.5 218.6,299.4 219.7,299.4 220.8,299.5 222.0,299.7 223.1,300.1 224.2,300.6 225.3,301.0 226.4,301.4 227.6,301.7 228.7,301.8 229.8,301.9 230.9,302.0 232.0,302.1 233.2,302.4 234.3,302.7 235.4,303.0 236.5,303.1 237.6,303.3 238.7,303.4 239.9,303.7 241.0,304.1 242.1,304.4 243.2,304.6 244.3,304.6 245.5,304.6 246.6,304.5 247.7,304.4 248.8,304.2 249.9,303.7 251.0,303.3 252.2,302.9 253.3,302.7 254.4,302.6 255.5,302.5 256.6,302.5 257.8,302.6 258.9,302.8 260.0,303.1 261.1,303.5 262.2,304.0 263.4,304.4" stroke="#bb0048" stroke-width="1.44"/>
<polyline points="163.8,292.3 164.9,292.2 166.0,291.9 167.2,291.5 168.3,291.0 169.4,290.3 170.5,289.7 171.6,289.1 172.7,288.6 173.9,288.1 175.0,287.3 176.1,286.2 177.2,284.8 178.3,283.4 179.5,282.2 180.6,281.1 181.7,280.3 182.8,279.2 183.9,278.2 185.1,277.4 186.2,276.8 187.3,276.8 188.4,277.1 189.5,277.5 190.6,278.0 191.8,278.5 192.9,278.8 194.0,279.0 195.1,278.9 196.2,278.7 197.4,278.5 198.5,278.3 199.6,278.0 200.7,277.7 201.8,277.4 202.9,277.1 204.1,277.1 205.2,277.0 206.3,277.2 207.4,277.8 208.5,278.3 209.7,278.9 210.8,279.3 211.9,279.5 213.0,279.7 214.1,279.9 215.3,280.1 216.4,280.3 217.5,280.6 218.6,280.9 219.7,281.4 220.8,282.2 222.0,283.3 223.1,284.4 224.2,285.6 225.3,286.6 226.4,287.1 227.6,287.8 228.7,288.3 229.8,288.9 230.9,289.8 232.0,290.5 233.2,291.2 234.3,291.8 235.4,292.1 236.5,292.2 237.6,292.1 238.7,291.7 239.9,291.0 241.0,290.1 242.1,289.3 243.2,288.4 244.3,287.5 245.5,286.6 246.6,286.2 247.7,286.3 248.8,286.2 249.9,286.1 251.0,286.1 252.2,286.1 253.3,286.3 254.4,286.4 255.5,286.5 256.6,286.6 257.8,286.6 258.9,286.7 260.0,286.6 261.1,286.3 262.2,285.9 263.4,285.5" stroke="#7f0080" stroke-width="1.68"/>
<polyline points="163.8,292.0 164.9,292.0 166.0,292.0 167.2,292.0 168.3,292.2 169.4,292.3 170.5,292.5 171.6,292.5 172.7,292.5 173.9,292.3 175.0,292.3 176.1,292.6 177.2,292.6 178.3,292.7 179.5,292.6 180.6,292.2 181.7,292.0 182.8,291.8 183.9,291.7 185.1,291.6 186.2,291.5 187.3,291.3 188.4,291.1 189.5,290.9 190.6,290.6 191.8,290.3 192.9,290.1 194.0,289.8 195.1,289.5 196.2,289.2 197.4,288.7 198.5,288.3 199.6,287.9 200.7,287.6 201.8,287.6 202.9,287.8 204.1,288.2 205.2,288.9 206.3,289.5 207.4,290.0 208.5,290.5 209.7,290.8 210.8,291.0 211.9,291.3 213.0,291.5 214.1,291.6 215.3,291.8 216.4,291.9 217.5,292.0 218.6,292.2 219.7,292.5 220.8,292.7 222.0,293.0 223.1,293.4 224.2,293.7 225.3,294.0 226.4,294.3 227.6,294.5 228.7,294.8 229.8,295.0 230.9,295.0 232.0,295.1 233.2,295.0 234.3,294.7 235.4,294.6 236.5,294.4 237.6,294.3 238.7,294.5 239.9,294.7 241.0,295.0 242.1,295.2 243.2,295.0 244.3,293.9 245.5,292.5 246.6,291.5 247.7,291.4 248.8,291.1 249.9,290.9 251.0,290.9 252.2,290.8 253.3,290.8 254.4,290.9 255.5,290.8 256.6,290.7 257.8,290.4 258.9,289.9 260.0,289.2 261.1,288.4 262.2,287.5 263.4,286.4" stroke="#75008a" stroke-width="1.56"/>
<polyline points="163.8,292.1 164.9,292.8 166.0,293.5 167.2,294.0 168.3,294.7 169.4,295.2 170.5,295.6 171.6,296.1 172.7,296.4 173.9,296.4 175.0,296.4 176.1,296.2 177.2,296.1 178.3,296.0 179.5,296.0 180.6,296.0 181.7,295.8 182.8,295.5 183.9,295.2 185.1,295.0 186.2,294.8 187.3,294.7 188.4,294.5 189.5,294.2 190.6,294.0 191.8,293.7 192.9,293.7 194.0,293.7 195.1,293.8 196.2,294.2 197.4,294.6 198.5,295.1 199.6,295.5 200.7,295.8 201.8,295.9 202.9,296.1 204.1,296.3 205.2,296.4 206.3,296.6 207.4,296.6 208.5,296.7 209.7,296.9 210.8,297.1 211.9,297.3 213.0,297.4 214.1,297.5 215.3,297.7 216.4,297.8 217.5,297.9 218.6,297.8 219.7,297.7 220.8,297.6 222.0,297.7 223.1,298.2 224.2,298.6 225.3,298.9 226.4,299.1 227.6,299.1 228.7,299.1 229.8,299.3 230.9,299.3 232.0,299.3 233.2,299.3 234.3,299.3 235.4,299.5 236.5,299.7 237.6,299.8 238.7,299.9 239.9,299.9 241.0,300.0 242.1,300.5 243.2,301.2 244.3,302.0 245.5,302.4 246.6,302.7 247.7,302.8 248.8,302.9 249.9,303.1 251.0,303.1 252.2,303.1 253.3,302.9 254.4,302.7 255.5,302.5 256.6,302.2 257.8,302.3 258.9,302.3 260.0,302.3 261.1,302.5 262.2,302.5 263.4,302.6" stroke="#5f009e" stroke-width="1.56"/>
<polyline points="163.8,292.2 164.9,292.4 166.0,292.5 167.2,292.6 168.3,292.7 169.4,292.6 170.5,292.7 171.6,292.7 172.7,292.7 173.9,292.9 175.0,293.0 176.1,293.1 177.2,293.3 178.3,293.4 179.5,293.5 180.6,293.7 181.7,293.7 182.8,293.7 183.9,293.8 185.1,293.8 186.2,293.9 187.3,294.2 188.4,294.5 189.5,294.7 190.6,294.6 191.8,294.4 192.9,294.1 194.0,294.0 195.1,294.0 196.2,294.1 197.4,294.3 198.5,294.7 199.6,295.1 200.7,295.6 201.8,296.1 202.9,296.5 204.1,296.8 205.2,297.0 206.3,297.1 207.4,297.2 208.5,297.3 209.7,297.6 210.8,297.8 211.9,298.1 213.0,298.5 214.1,298.8 215.3,299.2 216.4,299.5 217.5,299.7 218.6,299.8 219.7,299.9 220.8,300.1 222.0,300.5 223.1,301.0 224.2,301.4 225.3,301.6 226.4,301.4 227.6,301.1 228.7,300.9 229.8,300.9 230.9,301.1 232.0,301.4 233.2,301.6 234.3,301.8 235.4,301.8 236.5,301.7 237.6,301.7 238.7,301.8 239.9,302.1 241.0,302.5 242.1,302.8 243.2,303.0 244.3,303.0 245.5,302.9 246.6,302.7 247.7,302.5 248.8,302.1 249.9,302.1 251.0,302.0 252.2,301.8 253.3,301.6 254.4,301.2 255.5,300.8 256.6,300.4 257.8,299.9 258.9,299.4 260.0,299.0 261.1,298.4 262.2,297.7 263.4,297.2" stroke="#1500e4" stroke-width="1.68"/>
<polyline points="163.8,292.0 164.9,292.5 166.0,293.0 167.2,293.6 168.3,294.2 169.4,294.7 170.5,295.4 171.6,296.3 172.7,297.5 173.9,298.8 175.0,299.9 176.1,300.9 177.2,301.4 178.3,301.5 179.5,301.3 180.6,300.6 181.7,299.7 182.8,298.7 183.9,297.5 185.1,296.4 186.2,295.2 187.3,293.9 188.4,292.7 189.5,291.7 190.6,290.9 191.8,290.2 192.9,289.4 194.0,288.7 195.1,288.4 196.2,288.7 197.4,289.6 198.5,290.7 199.6,292.0 200.7,293.0 201.8,293.6 202.9,294.3 204.1,295.0 205.2,295.8 206.3,296.6 207.4,297.4 208.5,298.0 209.7,298.5 210.8,298.9 211.9,299.0 213.0,299.2 214.1,299.4 215.3,299.7 216.4,300.2 217.5,300.5 218.6,300.8 219.7,301.1 220.8,301.5 222.0,302.0 223.1,302.5 224.2,303.0 225.3,303.6 226.4,304.0 227.6,304.6 228.7,305.1 229.8,305.6 230.9,305.8 232.0,305.7 233.2,305.6 234.3,305.3 235.4,305.0 236.5,304.8 237.6,304.5 238.7,304.1 239.9,303.5 241.0,302.9 242.1,302.3 243.2,301.8 244.3,301.3 245.5,300.8 246.6,300.3 247.7,299.5 248.8,298.9 249.9,298.2 251.0,297.7 252.2,297.2 253.3,296.7 254.4,296.0 255.5,295.2 256.6,294.2 257.8,293.1 258.9,291.9 260.0,290.7 261.1,289.6 262.2,288.5 263.4,287.4" stroke="#0000f8" stroke-width="1.68"/>
</g>
<path d="M163.8 321.9v-1.1M163.8 262.4v1.1M184.5 321.9v-1.1M184.5 262.4v1.1M205.3 321.9v-1.1M205.3 262.4v1.1M226.0 321.9v-1.1M226.0 262.4v1.1M246.8 321.9v-1.1M246.8 262.4v1.1M267.5 321.9v-1.1M267.5 262.4v1.1M163.8 321.9h1.1M267.5 321.9h-1.1M163.8 307.0h1.1M267.5 307.0h-1.1M163.8 292.1h1.1M267.5 292.1h-1.1M163.8 277.3h1.1M267.5 277.3h-1.1M163.8 262.4h1.1M267.5 262.4h-1.1" stroke="#9c9c9c" stroke-width="0.6" fill="none"/>
<rect x="163.8" y="262.4" width="103.7" height="59.5" fill="none" stroke="#9c9c9c" stroke-width="0.9"/>
<text x="163.8" y="329.7" text-anchor="middle" class="tk">9</text>
<text x="184.5" y="329.7" text-anchor="middle" class="tk">10</text>
<text x="205.3" y="329.7" text-anchor="middle" class="tk">11</text>
<text x="226.0" y="329.7" text-anchor="middle" class="tk">12</text>
<text x="246.8" y="329.7" text-anchor="middle" class="tk">13</text>
<text x="267.5" y="329.7" text-anchor="middle" class="tk">14</text>
<text x="161.7" y="323.8" text-anchor="end" class="tk">-2</text>
<text x="161.7" y="309.0" text-anchor="end" class="tk">-1</text>
<text x="161.7" y="294.1" text-anchor="end" class="tk">0</text>
<text x="161.7" y="279.2" text-anchor="end" class="tk">1</text>
<text x="161.7" y="264.3" text-anchor="end" class="tk">2</text>
<text x="168.0" y="272.1" class="tb">(h) B-ASB-J4</text>
<text transform="translate(153.9 292.1) rotate(-90)" text-anchor="middle" class="ql"><tspan class="qi">q&#773;</tspan><tspan class="sub" dy="1">s</tspan><tspan dy="-1"> [m</tspan><tspan class="sub" dy="-1.6">3</tspan><tspan dy="1.6">/(ms)]</tspan></text>
<text x="165.0" y="260.7" class="ex">&#215;10<tspan class="es" dy="-2.6">-6</tspan></text>
<text x="215.7" y="337.3" text-anchor="middle" class="yl">x [m]</text>
</g>
<g>
<rect x="301.0" y="11.8" width="103.7" height="59.5" fill="#fff"/>
<path d="M321.7 11.8V71.3M342.5 11.8V71.3M363.2 11.8V71.3M384.0 11.8V71.3M301.0 56.4H404.7M301.0 41.6H404.7M301.0 26.7H404.7" stroke="#e4e4e4" stroke-width="0.7" fill="none"/>
<clipPath id="c9"><rect x="301.0" y="11.8" width="103.7" height="59.5"/></clipPath>
<g clip-path="url(#c9)" fill="none" stroke-linejoin="round" stroke-linecap="round">
<polyline points="307.2,75.3 307.8,74.8 308.5,74.2 309.1,73.6 309.7,73.1 310.4,72.7 311.0,71.9 311.6,70.9 312.2,70.3 312.9,69.7 313.5,69.2 314.1,68.4 314.7,67.6 315.4,67.2 316.0,66.6 316.6,66.0 317.2,65.5 317.9,64.9 318.5,64.1 319.1,63.4 319.7,62.6 320.4,62.0 321.0,61.4 321.6,60.6 322.3,59.7 322.9,59.2 323.5,59.0 324.1,58.4 324.8,57.4 325.4,56.6 326.0,56.0 326.6,55.3 327.3,54.7 327.9,54.2 328.5,53.7 329.1,53.2 329.8,52.9 330.4,52.5 331.0,52.0 331.7,51.7 332.3,51.4 332.9,50.7 333.5,50.1 334.2,49.8 334.8,49.3 335.4,48.8 336.0,48.3 336.7,47.7 337.3,47.2 337.9,46.6 338.5,46.0 339.2,45.7 339.8,45.2 340.4,44.4 341.0,43.8 341.7,43.6 342.3,43.3 342.9,42.7 343.6,41.8 344.2,41.2 344.8,40.7 345.4,39.8 346.1,39.0 346.7,38.2 347.3,37.5 347.9,37.0 348.6,36.7 349.2,36.3 349.8,35.8 350.4,35.2 351.1,34.8 351.7,34.5 352.3,34.4 352.9,34.2 353.6,34.2 354.2,34.4 354.8,34.4 355.5,34.1 356.1,34.1 356.7,34.2 357.3,34.2 358.0,34.2 358.6,34.3 359.2,34.2 359.8,34.1 360.5,33.9 361.1,33.7 361.7,33.6 362.3,33.6 363.0,33.6 363.6,33.6 364.2,33.6 364.8,33.5 365.5,33.2 366.1,33.1 366.7,33.1 367.4,33.0 368.0,33.0 368.6,32.9 369.2,32.7 369.9,32.5 370.5,32.6 371.1,32.7 371.7,32.4 372.4,32.1 373.0,32.1 373.6,32.0 374.2,31.9 374.9,31.9 375.5,32.0 376.1,32.1 376.7,31.8 377.4,31.4 378.0,31.4 378.6,31.5 379.3,31.5 379.9,31.4 380.5,31.2 381.1,31.0 381.8,30.8 382.4,31.0 383.0,31.1 383.6,31.2 384.3,31.3 384.9,31.3 385.5,31.3 386.1,31.3 386.8,31.2 387.4,31.2 388.0,31.6 388.7,31.8 389.3,31.7 389.9,31.7 390.5,31.8 391.2,32.0 391.8,32.1 392.4,32.2 393.0,32.3 393.7,32.6 394.3,32.9 394.9,33.0 395.5,32.9 396.2,32.9 396.8,32.7 397.4,32.6 398.0,32.7 398.7,32.8 399.3,32.6 399.9,32.6 400.6,32.6" stroke="#000000" stroke-width="1.10"/>
<polyline points="307.2,75.0 307.8,74.8 308.5,74.4 309.1,73.5 309.7,72.8 310.4,72.2 311.0,71.6 311.6,71.1 312.2,70.5 312.9,69.7 313.5,69.1 314.1,68.6 314.7,67.9 315.4,67.1 316.0,66.3 316.6,65.6 317.2,65.0 317.9,64.4 318.5,63.8 319.1,63.1 319.7,62.6 320.4,62.1 321.0,61.3 321.6,60.5 322.3,59.7 322.9,59.2 323.5,58.7 324.1,58.0 324.8,57.2 325.4,56.7 326.0,56.0 326.6,55.4 327.3,54.7 327.9,54.0 328.5,53.5 329.1,53.0 329.8,52.7 330.4,52.6 331.0,52.2 331.7,51.8 332.3,51.2 332.9,50.7 333.5,50.2 334.2,49.5 334.8,48.8 335.4,48.4 336.0,48.3 336.7,48.0 337.3,47.3 337.9,46.6 338.5,46.1 339.2,45.7 339.8,45.1 340.4,44.7 341.0,44.2 341.7,43.5 342.3,43.1 342.9,42.4 343.6,41.7 344.2,41.1 344.8,40.4 345.4,39.5 346.1,38.9 346.7,38.2 347.3,37.6 347.9,37.1 348.6,36.6 349.2,36.2 349.8,35.7 350.4,35.2 351.1,34.8 351.7,34.6 352.3,34.5 352.9,34.3 353.6,34.0 354.2,34.0 354.8,34.1 355.5,34.2 356.1,34.2 356.7,33.9 357.3,33.8 358.0,33.8 358.6,33.7 359.2,33.7 359.8,33.7 360.5,33.7 361.1,33.8 361.7,33.7 362.3,33.5 363.0,33.4 363.6,33.5 364.2,33.5 364.8,33.4 365.5,33.4 366.1,33.3 366.7,33.1 367.4,32.7 368.0,32.5 368.6,32.7 369.2,32.6 369.9,32.5 370.5,32.5 371.1,32.3 371.7,32.1 372.4,32.0 373.0,32.1 373.6,31.9 374.2,31.8 374.9,31.8 375.5,31.8 376.1,31.8 376.7,31.7 377.4,31.6 378.0,31.5 378.6,31.3 379.3,31.3 379.9,31.6 380.5,31.5 381.1,31.1 381.8,30.9 382.4,30.8 383.0,30.8 383.6,30.9 384.3,30.8 384.9,30.9 385.5,31.1 386.1,31.2 386.8,31.1 387.4,31.1 388.0,31.2 388.7,31.3 389.3,31.5 389.9,31.7 390.5,32.0 391.2,32.0 391.8,31.6 392.4,31.6 393.0,32.0 393.7,32.4 394.3,32.4 394.9,32.4 395.5,32.5 396.2,32.7 396.8,32.9 397.4,33.1 398.0,33.2 398.7,33.0 399.3,32.8 399.9,32.6 400.6,32.5" stroke="#000000" stroke-width="1.10"/>
</g>
<path d="M301.0 71.3v-1.1M301.0 11.8v1.1M321.7 71.3v-1.1M321.7 11.8v1.1M342.5 71.3v-1.1M342.5 11.8v1.1M363.2 71.3v-1.1M363.2 11.8v1.1M384.0 71.3v-1.1M384.0 11.8v1.1M404.7 71.3v-1.1M404.7 11.8v1.1M301.0 71.3h1.1M404.7 71.3h-1.1M301.0 56.4h1.1M404.7 56.4h-1.1M301.0 41.6h1.1M404.7 41.6h-1.1M301.0 26.7h1.1M404.7 26.7h-1.1M301.0 11.8h1.1M404.7 11.8h-1.1" stroke="#9c9c9c" stroke-width="0.6" fill="none"/>
<rect x="301.0" y="11.8" width="103.7" height="59.5" fill="none" stroke="#9c9c9c" stroke-width="0.9"/>
<text x="301.0" y="79.1" text-anchor="middle" class="tk">9</text>
<text x="321.7" y="79.1" text-anchor="middle" class="tk">10</text>
<text x="342.5" y="79.1" text-anchor="middle" class="tk">11</text>
<text x="363.2" y="79.1" text-anchor="middle" class="tk">12</text>
<text x="384.0" y="79.1" text-anchor="middle" class="tk">13</text>
<text x="404.7" y="79.1" text-anchor="middle" class="tk">14</text>
<text x="298.9" y="73.2" text-anchor="end" class="tk">0.25</text>
<text x="298.9" y="58.4" text-anchor="end" class="tk">0.3</text>
<text x="298.9" y="43.5" text-anchor="end" class="tk">0.35</text>
<text x="298.9" y="28.6" text-anchor="end" class="tk">0.4</text>
<text x="298.9" y="13.8" text-anchor="end" class="tk">0.45</text>
<text x="305.2" y="21.6" class="tt">(i) B-ASB-AR-J1</text>
<text transform="translate(285.6 41.5) rotate(-90)" text-anchor="middle" class="yl">z [m]</text>
</g>
<g>
<rect x="301.0" y="95.4" width="103.7" height="59.5" fill="#fff"/>
<path d="M321.7 95.4V154.9M342.5 95.4V154.9M363.2 95.4V154.9M384.0 95.4V154.9M301.0 140.0H404.7M301.0 125.2H404.7M301.0 110.3H404.7" stroke="#e4e4e4" stroke-width="0.7" fill="none"/>
<clipPath id="c10"><rect x="301.0" y="95.4" width="103.7" height="59.5"/></clipPath>
<g clip-path="url(#c10)" fill="none" stroke-linejoin="round" stroke-linecap="round">
<polyline points="307.2,158.9 307.8,158.3 308.5,157.6 309.1,157.0 309.7,156.6 310.4,156.2 311.0,155.4 311.6,154.6 312.2,154.1 312.9,153.6 313.5,152.8 314.1,152.0 314.7,151.4 315.4,150.9 316.0,150.0 316.6,149.2 317.2,148.6 317.9,147.9 318.5,147.4 319.1,146.9 319.7,146.4 320.4,145.8 321.0,145.1 321.6,144.3 322.3,143.6 322.9,142.8 323.5,142.1 324.1,141.6 324.8,141.1 325.4,140.5 326.0,139.8 326.6,139.1 327.3,138.3 327.9,137.6 328.5,137.0 329.1,136.1 329.8,135.2 330.4,134.4 331.0,133.7 331.7,133.1 332.3,132.6 332.9,131.9 333.5,131.4 334.2,131.1 334.8,130.8 335.4,130.4 336.0,130.0 336.7,129.4 337.3,128.6 337.9,127.9 338.5,127.4 339.2,127.0 339.8,126.4 340.4,125.6 341.0,124.7 341.7,123.9 342.3,123.3 342.9,123.1 343.6,122.8 344.2,122.3 344.8,121.9 345.4,121.7 346.1,121.3 346.7,120.8 347.3,120.2 347.9,119.9 348.6,119.8 349.2,119.7 349.8,119.2 350.4,118.9 351.1,119.1 351.7,119.1 352.3,118.8 352.9,118.7 353.6,118.5 354.2,117.9 354.8,117.8 355.5,118.2 356.1,118.3 356.7,117.8 357.3,117.4 358.0,117.4 358.6,117.6 359.2,117.7 359.8,117.8 360.5,117.7 361.1,117.3 361.7,117.4 362.3,118.0 363.0,117.9 363.6,117.4 364.2,117.2 364.8,117.2 365.5,116.8 366.1,116.6 366.7,116.8 367.4,117.1 368.0,117.0 368.6,117.0 369.2,116.8 369.9,116.5 370.5,116.5 371.1,116.5 371.7,116.4 372.4,116.2 373.0,116.0 373.6,115.9 374.2,115.8 374.9,115.6 375.5,115.5 376.1,115.4 376.7,115.4 377.4,115.3 378.0,115.3 378.6,115.0 379.3,114.6 379.9,114.7 380.5,114.9 381.1,114.9 381.8,114.9 382.4,114.9 383.0,115.0 383.6,115.2 384.3,115.4 384.9,115.4 385.5,115.2 386.1,115.0 386.8,115.3 387.4,115.5 388.0,115.1 388.7,115.1 389.3,115.6 389.9,115.8 390.5,115.5 391.2,115.5 391.8,116.0 392.4,116.2 393.0,116.0 393.7,115.8 394.3,115.8 394.9,115.9 395.5,116.1 396.2,116.1 396.8,116.0 397.4,116.0 398.0,116.0 398.7,116.1 399.3,116.0 399.9,115.7 400.6,115.7" stroke="#afafaf" stroke-width="1.30"/>
<polyline points="307.2,158.9 307.8,158.3 308.5,157.7 309.1,157.2 309.7,156.6 310.4,155.6 311.0,154.8 311.6,154.7 312.2,154.4 312.9,153.7 313.5,153.1 314.1,152.5 314.7,151.7 315.4,150.7 316.0,149.8 316.6,149.1 317.2,148.6 317.9,148.1 318.5,147.5 319.1,146.9 319.7,146.5 320.4,145.7 321.0,144.8 321.6,144.0 322.3,143.6 322.9,143.0 323.5,142.2 324.1,141.4 324.8,140.6 325.4,140.0 326.0,139.5 326.6,139.0 327.3,138.4 327.9,137.5 328.5,136.3 329.1,135.4 329.8,134.9 330.4,134.1 331.0,133.3 331.7,133.0 332.3,132.8 332.9,132.4 333.5,132.1 334.2,131.6 334.8,130.9 335.4,130.2 336.0,129.7 336.7,129.4 337.3,128.9 337.9,128.3 338.5,127.9 339.2,127.6 339.8,127.2 340.4,126.3 341.0,125.2 341.7,124.6 342.3,124.3 342.9,123.6 343.6,123.0 344.2,122.6 344.8,122.2 345.4,121.8 346.1,121.4 346.7,120.7 347.3,120.1 347.9,120.0 348.6,119.8 349.2,119.4 349.8,119.3 350.4,119.3 351.1,119.3 351.7,118.9 352.3,118.7 352.9,118.6 353.6,118.2 354.2,118.1 354.8,118.3 355.5,118.4 356.1,118.4 356.7,118.3 357.3,118.1 358.0,117.8 358.6,117.6 359.2,117.9 359.8,118.1 360.5,117.9 361.1,117.8 361.7,117.6 362.3,117.5 363.0,117.5 363.6,117.3 364.2,116.9 364.8,116.8 365.5,117.0 366.1,117.0 366.7,117.0 367.4,116.9 368.0,116.6 368.6,116.5 369.2,116.5 369.9,116.4 370.5,116.5 371.1,116.3 371.7,115.9 372.4,115.8 373.0,115.8 373.6,115.6 374.2,115.5 374.9,115.6 375.5,115.5 376.1,115.4 376.7,115.3 377.4,115.0 378.0,114.7 378.6,114.8 379.3,114.8 379.9,114.7 380.5,114.7 381.1,114.7 381.8,114.8 382.4,115.0 383.0,115.0 383.6,115.0 384.3,114.8 384.9,114.7 385.5,115.0 386.1,115.2 386.8,115.3 387.4,115.3 388.0,115.2 388.7,115.0 389.3,115.2 389.9,115.3 390.5,115.1 391.2,115.0 391.8,115.3 392.4,115.8 393.0,115.9 393.7,116.0 394.3,116.1 394.9,116.2 395.5,116.5 396.2,116.7 396.8,116.5 397.4,116.0 398.0,115.8 398.7,116.0 399.3,116.3 399.9,116.2 400.6,115.9" stroke="#878787" stroke-width="1.30"/>
<polyline points="307.2,159.2 307.8,158.9 308.5,158.5 309.1,158.0 309.7,157.4 310.4,156.6 311.0,156.2 311.6,155.5 312.2,154.4 312.9,153.6 313.5,153.0 314.1,152.5 314.7,151.9 315.4,151.2 316.0,150.5 316.6,149.7 317.2,149.2 317.9,148.8 318.5,147.8 319.1,147.0 319.7,146.5 320.4,145.9 321.0,145.4 321.6,145.0 322.3,144.4 322.9,143.4 323.5,142.6 324.1,142.0 324.8,141.5 325.4,140.7 326.0,139.8 326.6,139.1 327.3,138.6 327.9,137.9 328.5,137.0 329.1,136.2 329.8,135.7 330.4,135.1 331.0,134.3 331.7,133.5 332.3,133.0 332.9,132.4 333.5,131.7 334.2,131.5 334.8,131.4 335.4,130.9 336.0,130.1 336.7,129.4 337.3,129.0 337.9,128.7 338.5,128.0 339.2,127.5 339.8,127.0 340.4,126.2 341.0,125.5 341.7,125.1 342.3,124.8 342.9,124.0 343.6,123.3 344.2,122.9 344.8,122.5 345.4,122.4 346.1,122.3 346.7,121.8 347.3,121.4 347.9,121.1 348.6,120.8 349.2,120.6 349.8,120.5 350.4,120.5 351.1,120.5 351.7,120.3 352.3,120.0 352.9,119.9 353.6,119.8 354.2,119.6 354.8,119.3 355.5,119.0 356.1,118.9 356.7,118.8 357.3,118.8 358.0,119.0 358.6,119.0 359.2,118.8 359.8,118.7 360.5,118.6 361.1,118.2 361.7,118.2 362.3,118.0 363.0,117.8 363.6,117.6 364.2,117.3 364.8,117.5 365.5,117.5 366.1,117.3 366.7,117.4 367.4,117.6 368.0,117.5 368.6,117.2 369.2,117.0 369.9,116.9 370.5,117.0 371.1,116.6 371.7,116.3 372.4,116.5 373.0,116.5 373.6,116.1 374.2,116.0 374.9,116.2 375.5,116.3 376.1,116.0 376.7,115.6 377.4,115.6 378.0,115.9 378.6,116.0 379.3,115.8 379.9,115.5 380.5,115.3 381.1,115.0 381.8,114.9 382.4,115.0 383.0,115.2 383.6,115.3 384.3,115.6 384.9,115.7 385.5,115.5 386.1,115.5 386.8,115.7 387.4,115.5 388.0,115.5 388.7,115.7 389.3,115.7 389.9,115.8 390.5,115.8 391.2,115.8 391.8,116.0 392.4,115.9 393.0,115.9 393.7,116.2 394.3,116.7 394.9,116.8 395.5,116.6 396.2,116.7 396.8,116.8 397.4,116.8 398.0,116.7 398.7,116.5 399.3,116.4 399.9,116.3 400.6,116.1" stroke="#000000" stroke-width="1.30"/>
<polyline points="307.2,159.1 307.8,158.7 308.5,158.1 309.1,157.3 309.7,156.7 310.4,156.1 311.0,155.3 311.6,154.7 312.2,154.1 312.9,153.7 313.5,153.2 314.1,152.3 314.7,151.5 315.4,151.1 316.0,150.7 316.6,149.9 317.2,149.0 317.9,148.2 318.5,147.5 319.1,146.9 319.7,146.5 320.4,145.9 321.0,145.0 321.6,144.2 322.3,143.7 322.9,143.1 323.5,142.5 324.1,141.6 324.8,140.6 325.4,139.9 326.0,139.2 326.6,138.6 327.3,138.1 327.9,137.5 328.5,136.7 329.1,135.9 329.8,135.2 330.4,134.4 331.0,133.8 331.7,133.4 332.3,132.6 332.9,132.0 333.5,131.9 334.2,131.6 334.8,131.2 335.4,130.8 336.0,130.1 336.7,129.3 337.3,128.7 337.9,128.3 338.5,127.8 339.2,127.1 339.8,126.5 340.4,126.0 341.0,125.5 341.7,125.1 342.3,124.5 342.9,123.9 343.6,123.4 344.2,123.2 344.8,122.8 345.4,122.3 346.1,122.0 346.7,121.8 347.3,121.4 347.9,120.7 348.6,120.3 349.2,120.4 349.8,120.2 350.4,119.9 351.1,119.9 351.7,120.1 352.3,120.1 352.9,119.6 353.6,119.2 354.2,119.0 354.8,118.7 355.5,118.8 356.1,118.8 356.7,118.6 357.3,118.6 358.0,118.6 358.6,118.7 359.2,118.7 359.8,118.4 360.5,118.2 361.1,118.3 361.7,118.2 362.3,117.9 363.0,117.7 363.6,117.7 364.2,117.8 364.8,117.7 365.5,117.3 366.1,117.1 366.7,117.0 367.4,116.7 368.0,116.6 368.6,116.7 369.2,116.7 369.9,116.5 370.5,116.4 371.1,116.4 371.7,116.4 372.4,116.2 373.0,116.1 373.6,116.0 374.2,115.8 374.9,115.6 375.5,115.6 376.1,115.5 376.7,115.5 377.4,115.6 378.0,115.5 378.6,115.2 379.3,114.9 379.9,114.8 380.5,115.0 381.1,115.2 381.8,115.1 382.4,114.9 383.0,115.0 383.6,115.2 384.3,115.2 384.9,115.4 385.5,115.4 386.1,115.3 386.8,115.5 387.4,115.5 388.0,115.2 388.7,115.2 389.3,115.6 389.9,115.6 390.5,115.3 391.2,115.3 391.8,115.7 392.4,116.0 393.0,115.9 393.7,115.7 394.3,115.9 394.9,116.0 395.5,116.2 396.2,116.7 396.8,116.8 397.4,116.2 398.0,116.1 398.7,116.2 399.3,116.0 399.9,115.9 400.6,115.8" stroke="#000000" stroke-width="1.30"/>
<polyline points="307.2,159.0 307.8,158.6 308.5,158.0 309.1,157.3 309.7,156.4 310.4,155.6 311.0,155.2 311.6,154.8 312.2,154.0 312.9,153.1 313.5,152.5 314.1,151.9 314.7,151.3 315.4,150.7 316.0,150.2 316.6,149.5 317.2,148.9 317.9,148.2 318.5,147.8 319.1,147.3 319.7,146.3 320.4,145.6 321.0,144.9 321.6,144.2 322.3,143.6 322.9,143.0 323.5,142.2 324.1,141.4 324.8,140.5 325.4,139.8 326.0,139.4 326.6,138.7 327.3,137.9 327.9,137.4 328.5,136.9 329.1,136.0 329.8,135.1 330.4,134.4 331.0,133.8 331.7,133.2 332.3,132.6 332.9,132.2 333.5,131.7 334.2,131.1 334.8,130.5 335.4,130.0 336.0,129.8 336.7,129.1 337.3,128.4 337.9,128.0 338.5,127.8 339.2,127.5 339.8,126.8 340.4,126.0 341.0,125.2 341.7,124.5 342.3,124.0 342.9,123.7 343.6,123.5 344.2,123.2 344.8,122.8 345.4,122.2 346.1,121.5 346.7,121.0 347.3,120.8 347.9,120.6 348.6,120.4 349.2,120.3 349.8,120.1 350.4,119.7 351.1,119.6 351.7,119.6 352.3,119.6 352.9,119.6 353.6,119.4 354.2,119.1 354.8,118.9 355.5,118.7 356.1,118.7 356.7,118.7 357.3,118.5 358.0,118.5 358.6,118.7 359.2,118.5 359.8,118.1 360.5,117.7 361.1,117.7 361.7,117.8 362.3,117.7 363.0,117.6 363.6,117.7 364.2,117.7 364.8,117.7 365.5,117.6 366.1,117.6 366.7,117.3 367.4,117.1 368.0,117.0 368.6,116.7 369.2,116.5 369.9,116.4 370.5,116.3 371.1,116.1 371.7,115.9 372.4,116.0 373.0,116.1 373.6,116.2 374.2,116.0 374.9,115.8 375.5,115.6 376.1,115.4 376.7,115.2 377.4,115.0 378.0,114.7 378.6,114.7 379.3,114.8 379.9,114.9 380.5,115.1 381.1,114.8 381.8,114.6 382.4,114.9 383.0,115.0 383.6,114.7 384.3,114.8 384.9,115.0 385.5,114.9 386.1,115.1 386.8,115.2 387.4,115.2 388.0,115.3 388.7,115.2 389.3,115.1 389.9,115.2 390.5,115.4 391.2,115.3 391.8,115.3 392.4,115.4 393.0,115.5 393.7,115.5 394.3,115.6 394.9,115.9 395.5,116.1 396.2,116.0 396.8,116.0 397.4,116.2 398.0,116.3 398.7,116.0 399.3,115.6 399.9,115.5 400.6,115.5" stroke="#000000" stroke-width="1.30"/>
<polyline points="307.2,158.5 307.8,158.1 308.5,157.6 309.1,156.9 309.7,156.2 310.4,155.6 311.0,155.1 311.6,154.6 312.2,153.9 312.9,153.3 313.5,152.6 314.1,151.8 314.7,151.3 315.4,150.6 316.0,149.7 316.6,149.1 317.2,148.6 317.9,147.9 318.5,147.4 319.1,147.0 319.7,146.6 320.4,145.8 321.0,144.8 321.6,144.1 322.3,143.7 322.9,142.9 323.5,142.1 324.1,141.4 324.8,140.5 325.4,139.6 326.0,139.1 326.6,138.6 327.3,138.0 327.9,137.3 328.5,136.6 329.1,135.8 329.8,135.1 330.4,134.3 331.0,133.6 331.7,132.9 332.3,132.2 332.9,131.8 333.5,131.2 334.2,130.6 334.8,130.2 335.4,129.7 336.0,129.1 336.7,129.0 337.3,128.7 337.9,128.0 338.5,127.5 339.2,127.1 339.8,126.4 340.4,125.7 341.0,125.0 341.7,124.4 342.3,123.8 342.9,123.5 343.6,123.1 344.2,122.8 344.8,122.4 345.4,121.9 346.1,121.6 346.7,121.1 347.3,120.7 347.9,120.7 348.6,120.7 349.2,120.3 349.8,119.8 350.4,119.5 351.1,119.3 351.7,119.3 352.3,119.2 352.9,119.2 353.6,119.1 354.2,118.7 354.8,118.5 355.5,118.5 356.1,118.5 356.7,118.4 357.3,118.3 358.0,118.2 358.6,118.1 359.2,117.8 359.8,117.5 360.5,117.3 361.1,117.4 361.7,117.5 362.3,117.3 363.0,117.2 363.6,117.3 364.2,117.3 364.8,117.3 365.5,117.1 366.1,117.0 366.7,117.0 367.4,116.9 368.0,116.6 368.6,116.4 369.2,116.3 369.9,116.1 370.5,115.9 371.1,115.9 371.7,116.0 372.4,116.1 373.0,116.2 373.6,115.9 374.2,115.7 374.9,115.5 375.5,115.1 376.1,114.9 376.7,115.0 377.4,115.0 378.0,115.1 378.6,115.1 379.3,114.8 379.9,114.6 380.5,114.7 381.1,114.6 381.8,114.4 382.4,114.5 383.0,114.6 383.6,114.6 384.3,114.7 384.9,114.9 385.5,115.1 386.1,115.1 386.8,114.9 387.4,115.1 388.0,115.4 388.7,115.4 389.3,115.2 389.9,114.9 390.5,114.9 391.2,114.9 391.8,115.0 392.4,115.2 393.0,115.5 393.7,115.7 394.3,115.8 394.9,115.9 395.5,116.0 396.2,115.9 396.8,115.7 397.4,115.6 398.0,115.9 398.7,115.9 399.3,115.6 399.9,115.3 400.6,115.4" stroke="#000000" stroke-width="1.30"/>
<polyline points="307.2,158.5 307.8,157.9 308.5,157.3 309.1,156.9 309.7,156.3 310.4,155.7 311.0,154.9 311.6,153.9 312.2,153.4 312.9,152.9 313.5,152.3 314.1,151.5 314.7,150.5 315.4,150.0 316.0,149.7 316.6,149.1 317.2,148.3 317.9,147.4 318.5,146.8 319.1,146.3 319.7,145.9 320.4,145.3 321.0,144.4 321.6,143.8 322.3,143.4 322.9,142.7 323.5,142.0 324.1,141.4 324.8,140.6 325.4,139.6 326.0,138.8 326.6,138.1 327.3,137.5 327.9,136.8 328.5,136.0 329.1,135.2 329.8,134.5 330.4,134.0 331.0,133.6 331.7,133.0 332.3,132.4 332.9,131.8 333.5,131.4 334.2,130.8 334.8,130.0 335.4,129.7 336.0,129.7 336.7,129.3 337.3,128.6 337.9,127.9 338.5,127.3 339.2,126.9 339.8,126.3 340.4,125.5 341.0,124.6 341.7,123.9 342.3,123.4 342.9,123.0 343.6,122.7 344.2,122.5 344.8,122.2 345.4,121.7 346.1,121.4 346.7,121.1 347.3,120.8 347.9,120.5 348.6,120.3 349.2,120.0 349.8,119.6 350.4,119.4 351.1,119.3 351.7,119.4 352.3,119.4 352.9,119.0 353.6,118.7 354.2,118.7 354.8,118.4 355.5,118.1 356.1,118.0 356.7,118.1 357.3,118.2 358.0,118.2 358.6,117.9 359.2,117.6 359.8,117.5 360.5,117.6 361.1,117.7 361.7,117.4 362.3,117.3 363.0,117.5 363.6,117.2 364.2,116.6 364.8,116.6 365.5,116.8 366.1,116.6 366.7,116.3 367.4,116.3 368.0,116.4 368.6,116.3 369.2,116.1 369.9,115.9 370.5,115.8 371.1,115.8 371.7,115.7 372.4,115.5 373.0,115.5 373.6,115.5 374.2,115.5 374.9,115.4 375.5,115.3 376.1,115.1 376.7,114.8 377.4,114.4 378.0,114.2 378.6,114.2 379.3,114.2 379.9,114.1 380.5,114.1 381.1,114.2 381.8,114.4 382.4,114.4 383.0,114.4 383.6,114.4 384.3,114.5 384.9,114.5 385.5,114.8 386.1,115.1 386.8,115.0 387.4,114.9 388.0,115.0 388.7,115.3 389.3,115.3 389.9,115.1 390.5,115.1 391.2,115.1 391.8,115.4 392.4,115.5 393.0,115.4 393.7,115.4 394.3,115.4 394.9,115.6 395.5,115.7 396.2,115.8 396.8,115.7 397.4,115.6 398.0,115.6 398.7,115.6 399.3,115.6 399.9,115.5 400.6,115.3" stroke="#000000" stroke-width="1.30"/>
<polyline points="307.2,158.2 307.8,157.6 308.5,157.3 309.1,156.8 309.7,156.1 310.4,155.5 311.0,154.8 311.6,154.2 312.2,153.4 312.9,152.6 313.5,152.2 314.1,152.0 314.7,151.3 315.4,150.7 316.0,150.3 316.6,149.6 317.2,148.8 317.9,148.1 318.5,147.5 319.1,146.9 319.7,146.0 320.4,145.2 321.0,144.6 321.6,144.1 322.3,143.4 322.9,142.7 323.5,141.8 324.1,140.9 324.8,140.2 325.4,139.7 326.0,139.0 326.6,138.5 327.3,137.9 327.9,137.2 328.5,136.4 329.1,135.6 329.8,134.8 330.4,134.0 331.0,133.4 331.7,132.8 332.3,132.1 332.9,131.8 333.5,131.4 334.2,130.8 334.8,130.2 335.4,129.7 336.0,129.3 336.7,129.0 337.3,128.4 337.9,127.9 338.5,127.5 339.2,127.1 339.8,126.5 340.4,125.7 341.0,124.8 341.7,124.3 342.3,123.9 342.9,123.3 343.6,122.1 344.2,122.4 344.8,121.9 345.4,122.1 346.1,121.7 346.7,121.4 347.3,121.0 347.9,120.9 348.6,120.7 349.2,120.4 349.8,119.0 350.4,119.0 351.1,119.4 351.7,119.2 352.3,118.9 352.9,119.4 353.6,119.2 354.2,119.1 354.8,119.0 355.5,118.7 356.1,118.5 356.7,118.4 357.3,118.2 358.0,117.9 358.6,117.7 359.2,117.6 359.8,116.8 360.5,117.5 361.1,116.9 361.7,117.2 362.3,117.3 363.0,117.2 363.6,116.3 364.2,116.7 364.8,117.0 365.5,116.9 366.1,116.6 366.7,116.5 367.4,116.4 368.0,116.4 368.6,116.3 369.2,116.7 369.9,116.5 370.5,116.0 371.1,114.7 371.7,115.7 372.4,115.7 373.0,115.4 373.6,114.9 374.2,115.3 374.9,114.6 375.5,115.4 376.1,115.4 376.7,115.4 377.4,115.1 378.0,114.0 378.6,114.6 379.3,114.6 379.9,114.6 380.5,114.1 381.1,114.6 381.8,114.6 382.4,114.5 383.0,114.6 383.6,114.9 384.3,114.7 384.9,114.0 385.5,114.6 386.1,114.8 386.8,114.8 387.4,114.6 388.0,114.8 388.7,115.0 389.3,114.9 389.9,114.7 390.5,114.9 391.2,114.9 391.8,115.2 392.4,114.7 393.0,115.7 393.7,114.6 394.3,115.7 394.9,115.7 395.5,115.6 396.2,115.5 396.8,115.5 397.4,115.6 398.0,115.1 398.7,114.6 399.3,115.5 399.9,115.4 400.6,115.3" stroke="#000000" stroke-width="0.80"/>
</g>
<path d="M301.0 154.9v-1.1M301.0 95.4v1.1M321.7 154.9v-1.1M321.7 95.4v1.1M342.5 154.9v-1.1M342.5 95.4v1.1M363.2 154.9v-1.1M363.2 95.4v1.1M384.0 154.9v-1.1M384.0 95.4v1.1M404.7 154.9v-1.1M404.7 95.4v1.1M301.0 154.9h1.1M404.7 154.9h-1.1M301.0 140.0h1.1M404.7 140.0h-1.1M301.0 125.2h1.1M404.7 125.2h-1.1M301.0 110.3h1.1M404.7 110.3h-1.1M301.0 95.4h1.1M404.7 95.4h-1.1" stroke="#9c9c9c" stroke-width="0.6" fill="none"/>
<rect x="301.0" y="95.4" width="103.7" height="59.5" fill="none" stroke="#9c9c9c" stroke-width="0.9"/>
<text x="301.0" y="162.7" text-anchor="middle" class="tk">9</text>
<text x="321.7" y="162.7" text-anchor="middle" class="tk">10</text>
<text x="342.5" y="162.7" text-anchor="middle" class="tk">11</text>
<text x="363.2" y="162.7" text-anchor="middle" class="tk">12</text>
<text x="384.0" y="162.7" text-anchor="middle" class="tk">13</text>
<text x="404.7" y="162.7" text-anchor="middle" class="tk">14</text>
<text x="298.9" y="156.8" text-anchor="end" class="tk">0.25</text>
<text x="298.9" y="142.0" text-anchor="end" class="tk">0.3</text>
<text x="298.9" y="127.1" text-anchor="end" class="tk">0.35</text>
<text x="298.9" y="112.2" text-anchor="end" class="tk">0.4</text>
<text x="298.9" y="97.4" text-anchor="end" class="tk">0.45</text>
<text x="305.2" y="105.2" class="tt">(j) B-ASB-AR-J2</text>
<text transform="translate(285.6 125.2) rotate(-90)" text-anchor="middle" class="yl">z [m]</text>
</g>
<g>
<rect x="301.0" y="179.0" width="103.7" height="59.5" fill="#fff"/>
<path d="M321.7 179.0V238.5M342.5 179.0V238.5M363.2 179.0V238.5M384.0 179.0V238.5M301.0 223.6H404.7M301.0 208.8H404.7M301.0 193.9H404.7" stroke="#e4e4e4" stroke-width="0.7" fill="none"/>
<clipPath id="c11"><rect x="301.0" y="179.0" width="103.7" height="59.5"/></clipPath>
<g clip-path="url(#c11)" fill="none" stroke-linejoin="round" stroke-linecap="round">
<polyline points="305.1,243.8 305.8,243.5 306.4,242.8 307.1,242.1 307.7,241.6 308.3,241.0 309.0,240.4 309.6,239.8 310.3,239.2 310.9,238.6 311.6,238.1 312.2,237.4 312.8,236.7 313.5,236.0 314.1,235.5 314.8,235.0 315.4,234.5 316.0,233.8 316.7,233.0 317.3,232.1 318.0,231.4 318.6,231.0 319.2,230.7 319.9,230.2 320.5,229.7 321.2,229.1 321.8,228.5 322.4,228.0 323.1,227.4 323.7,226.8 324.4,226.1 325.0,225.5 325.6,225.0 326.3,224.3 326.9,223.5 327.6,223.0 328.2,222.6 328.8,222.0 329.5,221.3 330.1,220.7 330.8,220.3 331.4,219.9 332.0,219.1 332.7,218.3 333.3,217.7 334.0,217.0 334.6,216.5 335.2,216.2 335.9,215.7 336.5,215.0 337.2,214.5 337.8,213.8 338.4,213.4 339.1,213.0 339.7,212.0 340.4,211.2 341.0,210.9 341.6,210.6 342.3,210.0 342.9,209.5 343.6,209.1 344.2,208.6 344.8,208.5 345.5,208.2 346.1,207.6 346.8,207.2 347.4,206.9 348.0,206.4 348.7,205.9 349.3,205.5 350.0,205.3 350.6,204.9 351.2,204.4 351.9,204.0 352.5,203.8 353.2,203.7 353.8,203.4 354.5,203.1 355.1,202.7 355.7,202.3 356.4,202.1 357.0,202.0 357.7,202.0 358.3,201.9 358.9,201.7 359.6,201.6 360.2,201.5 360.9,201.4 361.5,201.2 362.1,201.0 362.8,200.9 363.4,201.1 364.1,201.4 364.7,201.4 365.3,201.4 366.0,201.2 366.6,200.8 367.3,200.6 367.9,200.8 368.5,200.8 369.2,200.5 369.8,200.2 370.5,200.1 371.1,200.1 371.7,200.0 372.4,199.5 373.0,199.3 373.7,199.5 374.3,199.3 374.9,198.7 375.6,198.4 376.2,198.5 376.9,198.8 377.5,198.9 378.1,198.8 378.8,198.8 379.4,198.9 380.1,198.9 380.7,198.9 381.3,199.1 382.0,199.3 382.6,199.3 383.3,199.3 383.9,199.2 384.5,199.3 385.2,199.2 385.8,198.9 386.5,199.0 387.1,199.0 387.7,198.9 388.4,199.0 389.0,199.1 389.7,199.1 390.3,199.2 390.9,199.3 391.6,199.6 392.2,199.9 392.9,200.0 393.5,200.0 394.1,200.2 394.8,200.2 395.4,200.2 396.1,200.6 396.7,201.0 397.4,201.1 398.0,201.1 398.6,201.1 399.3,201.1 399.9,201.1 400.6,201.4" stroke="#969696" stroke-width="1.40"/>
<polyline points="305.1,243.5 305.8,243.2 306.4,242.8 307.1,242.0 307.7,241.4 308.3,240.8 309.0,239.9 309.6,239.5 310.3,239.2 310.9,238.7 311.6,238.0 312.2,237.3 312.8,236.7 313.5,236.3 314.1,235.7 314.8,235.0 315.4,234.3 316.0,233.6 316.7,232.9 317.3,232.1 318.0,231.4 318.6,231.0 319.2,230.8 319.9,230.0 320.5,229.3 321.2,228.9 321.8,228.5 322.4,228.1 323.1,227.9 323.7,227.3 324.4,226.4 325.0,225.6 325.6,225.0 326.3,224.4 326.9,223.7 327.6,223.1 328.2,222.7 328.8,222.2 329.5,221.5 330.1,220.8 330.8,220.0 331.4,219.4 332.0,219.0 332.7,218.6 333.3,217.8 334.0,217.0 334.6,216.2 335.2,215.6 335.9,215.3 336.5,215.1 337.2,214.6 337.8,213.8 338.4,213.2 339.1,212.7 339.7,212.0 340.4,211.4 341.0,211.0 341.6,210.4 342.3,210.0 342.9,209.5 343.6,209.0 344.2,208.7 344.8,208.4 345.5,208.0 346.1,207.8 346.8,207.4 347.4,206.7 348.0,206.0 348.7,205.7 349.3,205.6 350.0,205.3 350.6,204.9 351.2,204.3 351.9,203.9 352.5,203.9 353.2,203.8 353.8,203.5 354.5,203.0 355.1,202.7 355.7,202.4 356.4,202.3 357.0,202.1 357.7,201.8 358.3,201.6 358.9,201.8 359.6,202.0 360.2,201.8 360.9,201.4 361.5,201.1 362.1,201.0 362.8,201.2 363.4,201.3 364.1,201.4 364.7,201.4 365.3,201.2 366.0,201.2 366.6,201.4 367.3,201.4 367.9,201.1 368.5,200.8 369.2,200.6 369.8,200.4 370.5,200.3 371.1,200.2 371.7,200.0 372.4,199.9 373.0,199.7 373.7,199.3 374.3,198.9 374.9,198.7 375.6,198.8 376.2,198.9 376.9,198.8 377.5,198.6 378.1,198.7 378.8,199.1 379.4,199.1 380.1,199.0 380.7,198.9 381.3,199.0 382.0,199.1 382.6,199.2 383.3,199.1 383.9,199.3 384.5,199.2 385.2,199.0 385.8,198.8 386.5,198.8 387.1,198.8 387.7,198.8 388.4,198.9 389.0,198.8 389.7,198.8 390.3,199.2 390.9,199.6 391.6,199.6 392.2,199.4 392.9,199.5 393.5,200.0 394.1,200.2 394.8,200.3 395.4,200.6 396.1,201.1 396.7,201.3 397.4,201.1 398.0,201.1 398.6,201.2 399.3,201.3 399.9,201.5 400.6,201.7" stroke="#6e6e6e" stroke-width="1.40"/>
<polyline points="305.1,243.0 305.8,242.7 306.4,242.4 307.1,242.0 307.7,241.2 308.3,240.3 309.0,239.8 309.6,239.6 310.3,239.2 310.9,238.5 311.6,237.7 312.2,237.1 312.8,236.7 313.5,236.0 314.1,235.3 314.8,234.6 315.4,233.9 316.0,233.5 316.7,233.0 317.3,232.2 318.0,231.4 318.6,230.9 319.2,230.3 319.9,229.6 320.5,229.2 321.2,228.9 321.8,228.5 322.4,227.9 323.1,227.2 323.7,226.7 324.4,226.2 325.0,225.6 325.6,224.9 326.3,224.2 326.9,223.6 327.6,223.2 328.2,222.5 328.8,221.7 329.5,221.0 330.1,220.4 330.8,219.7 331.4,219.2 332.0,218.7 332.7,218.3 333.3,217.8 334.0,217.1 334.6,216.4 335.2,215.9 335.9,215.4 336.5,214.9 337.2,214.4 337.8,213.8 338.4,213.0 339.1,212.6 339.7,212.4 340.4,211.5 341.0,210.5 341.6,210.0 342.3,209.6 342.9,209.2 343.6,208.9 344.2,208.5 344.8,208.1 345.5,207.9 346.1,207.5 346.8,207.1 347.4,206.7 348.0,206.4 348.7,206.0 349.3,205.5 350.0,205.0 350.6,204.8 351.2,204.5 351.9,204.2 352.5,203.9 353.2,203.5 353.8,202.9 354.5,202.7 355.1,202.6 355.7,202.4 356.4,201.9 357.0,201.8 357.7,201.8 358.3,201.5 358.9,201.2 359.6,201.3 360.2,201.4 360.9,201.2 361.5,200.8 362.1,200.7 362.8,200.9 363.4,200.9 364.1,201.0 364.7,201.5 365.3,201.4 366.0,201.0 366.6,200.8 367.3,200.8 367.9,200.7 368.5,200.5 369.2,200.2 369.8,200.0 370.5,200.1 371.1,200.2 371.7,199.7 372.4,199.3 373.0,199.3 373.7,199.2 374.3,199.1 374.9,198.9 375.6,198.9 376.2,198.9 376.9,198.9 377.5,198.7 378.1,198.5 378.8,198.6 379.4,198.6 380.1,198.5 380.7,198.9 381.3,199.1 382.0,199.1 382.6,199.1 383.3,199.0 383.9,199.0 384.5,199.2 385.2,199.1 385.8,198.9 386.5,199.1 387.1,199.1 387.7,199.0 388.4,199.0 389.0,198.9 389.7,198.8 390.3,198.9 390.9,199.1 391.6,199.3 392.2,199.7 392.9,199.9 393.5,199.9 394.1,200.0 394.8,200.3 395.4,200.7 396.1,200.9 396.7,200.8 397.4,201.0 398.0,201.1 398.6,201.2 399.3,201.3 399.9,201.4 400.6,201.6" stroke="#000000" stroke-width="1.40"/>
<polyline points="305.1,243.1 305.8,242.6 306.4,242.0 307.1,241.6 307.7,241.1 308.3,240.6 309.0,240.0 309.6,239.4 310.3,239.1 310.9,238.6 311.6,237.6 312.2,236.7 312.8,236.2 313.5,235.7 314.1,234.9 314.8,234.4 315.4,234.2 316.0,233.5 316.7,232.7 317.3,231.9 318.0,231.3 318.6,230.6 319.2,230.0 319.9,229.8 320.5,229.5 321.2,229.0 321.8,228.5 322.4,227.8 323.1,227.2 323.7,226.6 324.4,225.8 325.0,224.9 325.6,224.2 326.3,223.6 326.9,223.1 327.6,222.6 328.2,221.9 328.8,221.2 329.5,220.7 330.1,220.4 330.8,220.2 331.4,219.5 332.0,218.6 332.7,217.9 333.3,217.4 334.0,216.8 334.6,216.4 335.2,215.8 335.9,215.1 336.5,214.5 337.2,213.9 337.8,213.1 338.4,212.7 339.1,212.3 339.7,211.9 340.4,211.4 341.0,210.7 341.6,210.1 342.3,209.6 342.9,208.8 343.6,208.2 344.2,208.0 344.8,207.6 345.5,207.2 346.1,206.9 346.8,206.5 347.4,206.3 348.0,206.2 348.7,205.8 349.3,205.2 350.0,204.6 350.6,204.2 351.2,203.9 351.9,203.7 352.5,203.4 353.2,202.6 353.8,202.2 354.5,202.3 355.1,202.3 355.7,202.1 356.4,202.1 357.0,202.1 357.7,201.9 358.3,201.5 358.9,201.2 359.6,201.2 360.2,201.2 360.9,201.2 361.5,200.9 362.1,200.7 362.8,200.8 363.4,200.9 364.1,201.1 364.7,201.2 365.3,201.2 366.0,201.0 366.6,200.9 367.3,200.9 367.9,200.5 368.5,200.2 369.2,200.1 369.8,200.0 370.5,199.7 371.1,199.5 371.7,199.4 372.4,199.3 373.0,199.0 373.7,198.7 374.3,198.5 374.9,198.5 375.6,198.4 376.2,198.4 376.9,198.6 377.5,198.7 378.1,198.6 378.8,198.4 379.4,198.6 380.1,198.7 380.7,198.6 381.3,198.6 382.0,198.7 382.6,198.6 383.3,198.7 383.9,198.9 384.5,198.8 385.2,198.6 385.8,198.7 386.5,198.9 387.1,198.7 387.7,198.6 388.4,198.7 389.0,198.6 389.7,198.4 390.3,198.4 390.9,198.6 391.6,198.9 392.2,199.0 392.9,199.2 393.5,199.6 394.1,199.9 394.8,200.1 395.4,200.3 396.1,200.7 396.7,200.9 397.4,201.0 398.0,201.0 398.6,201.2 399.3,201.2 399.9,201.0 400.6,201.0" stroke="#000000" stroke-width="1.40"/>
<polyline points="305.1,243.1 305.8,242.8 306.4,242.4 307.1,241.8 307.7,240.9 308.3,240.1 309.0,239.6 309.6,239.0 310.3,238.3 310.9,237.7 311.6,237.1 312.2,236.5 312.8,236.1 313.5,235.7 314.1,235.2 314.8,234.2 315.4,233.3 316.0,232.7 316.7,232.3 317.3,231.7 318.0,231.0 318.6,230.5 319.2,229.9 319.9,229.3 320.5,228.7 321.2,228.2 321.8,227.8 322.4,227.2 323.1,226.6 323.7,226.1 324.4,225.5 325.0,224.8 325.6,224.3 326.3,223.8 326.9,223.3 327.6,222.9 328.2,222.4 328.8,221.6 329.5,220.8 330.1,220.0 330.8,219.3 331.4,218.9 332.0,218.3 332.7,217.7 333.3,217.2 334.0,216.8 334.6,216.1 335.2,215.4 335.9,214.5 336.5,213.9 337.2,213.6 337.8,213.1 338.4,212.3 339.1,211.9 339.7,211.5 340.4,210.9 341.0,210.2 341.6,209.7 342.3,209.3 342.9,208.7 343.6,208.0 344.2,207.6 344.8,207.4 345.5,207.2 346.1,206.8 346.8,206.4 347.4,206.1 348.0,205.7 348.7,205.4 349.3,205.0 350.0,204.6 350.6,204.2 351.2,203.9 351.9,203.4 352.5,203.1 353.2,202.9 353.8,202.7 354.5,202.4 355.1,202.0 355.7,201.7 356.4,201.7 357.0,201.6 357.7,201.3 358.3,200.9 358.9,200.8 359.6,200.9 360.2,200.8 360.9,200.7 361.5,200.8 362.1,200.8 362.8,200.9 363.4,201.0 364.1,200.9 364.7,200.6 365.3,200.7 366.0,200.9 366.6,200.9 367.3,200.8 367.9,200.7 368.5,200.4 369.2,200.1 369.8,199.8 370.5,199.5 371.1,199.3 371.7,199.1 372.4,198.7 373.0,198.6 373.7,198.4 374.3,198.0 374.9,198.0 375.6,198.1 376.2,198.1 376.9,198.3 377.5,198.3 378.1,197.9 378.8,198.0 379.4,198.3 380.1,198.5 380.7,198.5 381.3,198.4 382.0,198.4 382.6,198.5 383.3,198.4 383.9,198.5 384.5,198.6 385.2,198.5 385.8,198.5 386.5,198.4 387.1,198.4 387.7,198.3 388.4,198.2 389.0,198.3 389.7,198.4 390.3,198.3 390.9,198.4 391.6,198.6 392.2,199.0 392.9,199.3 393.5,199.4 394.1,199.5 394.8,199.8 395.4,200.2 396.1,200.5 396.7,200.6 397.4,200.5 398.0,200.7 398.6,200.8 399.3,200.8 399.9,200.6 400.6,200.5" stroke="#000000" stroke-width="1.40"/>
<polyline points="305.1,242.6 305.8,242.0 306.4,241.5 307.1,241.2 307.7,240.7 308.3,240.1 309.0,239.6 309.6,239.1 310.3,238.4 310.9,237.8 311.6,237.4 312.2,236.8 312.8,235.9 313.5,235.0 314.1,234.4 314.8,233.8 315.4,233.3 316.0,232.5 316.7,231.8 317.3,231.3 318.0,230.6 318.6,230.0 319.2,229.5 319.9,229.0 320.5,228.6 321.2,228.0 321.8,227.4 322.4,226.9 323.1,226.3 323.7,225.8 324.4,225.6 325.0,224.8 325.6,223.9 326.3,223.4 326.9,223.0 327.6,222.5 328.2,222.0 328.8,221.4 329.5,220.6 330.1,219.8 330.8,219.0 331.4,218.4 332.0,218.0 332.7,217.7 333.3,217.3 334.0,216.4 334.6,215.7 335.2,215.4 335.9,215.0 336.5,214.1 337.2,213.5 337.8,213.1 338.4,212.7 339.1,211.9 339.7,211.1 340.4,210.5 341.0,210.0 341.6,209.6 342.3,209.1 342.9,208.6 343.6,208.3 344.2,208.0 344.8,207.6 345.5,207.1 346.1,206.7 346.8,206.3 347.4,206.0 348.0,205.5 348.7,204.8 349.3,204.5 350.0,204.4 350.6,204.2 351.2,203.7 351.9,203.1 352.5,202.8 353.2,202.7 353.8,202.4 354.5,202.2 355.1,202.1 355.7,202.0 356.4,201.7 357.0,201.1 357.7,200.9 358.3,200.9 358.9,200.8 359.6,200.5 360.2,200.5 360.9,200.5 361.5,200.4 362.1,200.1 362.8,200.2 363.4,200.4 364.1,200.6 364.7,200.6 365.3,200.5 366.0,200.4 366.6,200.4 367.3,200.4 367.9,200.2 368.5,200.2 369.2,200.2 369.8,199.6 370.5,199.2 371.1,199.2 371.7,199.0 372.4,198.7 373.0,198.6 373.7,198.5 374.3,198.3 374.9,198.0 375.6,198.0 376.2,198.1 376.9,198.1 377.5,198.1 378.1,197.9 378.8,197.7 379.4,197.9 380.1,198.1 380.7,198.3 381.3,198.3 382.0,198.3 382.6,198.4 383.3,198.7 383.9,198.8 384.5,198.7 385.2,198.6 385.8,198.4 386.5,198.2 387.1,198.5 387.7,198.5 388.4,198.3 389.0,198.3 389.7,198.3 390.3,198.2 390.9,198.4 391.6,198.6 392.2,198.6 392.9,198.8 393.5,199.3 394.1,199.5 394.8,199.5 395.4,199.9 396.1,200.2 396.7,200.2 397.4,200.2 398.0,200.4 398.6,200.3 399.3,200.4 399.9,200.5 400.6,200.4" stroke="#000000" stroke-width="1.40"/>
<polyline points="305.1,242.3 305.8,241.9 306.4,241.5 307.1,241.1 307.7,240.4 308.3,239.6 309.0,239.1 309.6,238.6 310.3,238.0 310.9,237.4 311.6,236.9 312.2,236.1 312.8,235.7 313.5,235.1 314.1,234.4 314.8,233.7 315.4,233.0 316.0,232.4 316.7,231.7 317.3,231.0 318.0,230.4 318.6,229.7 319.2,229.2 319.9,228.8 320.5,228.2 321.2,227.7 321.8,227.3 322.4,226.6 323.1,226.0 323.7,225.6 324.4,225.3 325.0,224.6 325.6,223.9 326.3,223.3 326.9,222.7 327.6,222.0 328.2,221.3 328.8,220.7 329.5,220.2 330.1,219.5 330.8,218.8 331.4,218.2 332.0,217.7 332.7,217.2 333.3,216.9 334.0,216.6 334.6,215.9 335.2,215.0 335.9,214.3 336.5,213.5 337.2,213.0 337.8,212.8 338.4,212.0 339.1,211.2 339.7,210.9 340.4,210.5 341.0,209.9 341.6,209.4 342.3,208.9 342.9,208.3 343.6,207.9 344.2,207.6 344.8,207.2 345.5,206.8 346.1,206.3 346.8,206.0 347.4,205.7 348.0,205.3 348.7,205.0 349.3,204.5 350.0,204.1 350.6,203.8 351.2,203.3 351.9,202.8 352.5,202.5 353.2,202.1 353.8,201.9 354.5,201.9 355.1,201.7 355.7,201.4 356.4,201.3 357.0,201.0 357.7,200.8 358.3,201.0 358.9,200.9 359.6,200.5 360.2,200.4 360.9,200.4 361.5,200.4 362.1,200.5 362.8,200.3 363.4,200.3 364.1,200.6 364.7,200.6 365.3,200.5 366.0,200.5 366.6,200.3 367.3,199.9 367.9,199.8 368.5,199.8 369.2,199.7 369.8,199.3 370.5,199.0 371.1,198.9 371.7,198.7 372.4,198.6 373.0,198.5 373.7,198.1 374.3,197.7 374.9,197.3 375.6,197.3 376.2,197.6 376.9,197.8 377.5,198.0 378.1,198.0 378.8,197.8 379.4,197.8 380.1,198.0 380.7,197.9 381.3,197.8 382.0,197.8 382.6,198.0 383.3,198.1 383.9,198.0 384.5,197.9 385.2,198.3 385.8,198.4 386.5,198.0 387.1,197.9 387.7,197.7 388.4,197.5 389.0,197.6 389.7,197.8 390.3,198.0 390.9,198.0 391.6,198.2 392.2,198.4 392.9,198.7 393.5,199.0 394.1,199.3 394.8,199.5 395.4,199.7 396.1,199.9 396.7,200.0 397.4,199.9 398.0,199.8 398.6,200.0 399.3,200.4 399.9,200.6 400.6,200.5" stroke="#000000" stroke-width="1.40"/>
<polyline points="305.1,242.7 305.8,242.1 306.4,241.5 307.1,240.8 307.7,240.2 308.3,239.8 309.0,239.4 309.6,238.9 310.3,238.2 310.9,237.7 311.6,237.1 312.2,236.3 312.8,235.6 313.5,235.0 314.1,234.4 314.8,233.7 315.4,233.1 316.0,232.6 316.7,232.1 317.3,231.6 318.0,230.7 318.6,230.0 319.2,229.5 319.9,229.0 320.5,228.5 321.2,228.2 321.8,227.8 322.4,227.1 323.1,226.3 323.7,224.7 324.4,225.4 325.0,225.0 325.6,224.3 326.3,223.4 326.9,223.0 327.6,222.5 328.2,221.7 328.8,221.1 329.5,220.4 330.1,219.6 330.8,219.1 331.4,218.6 332.0,217.8 332.7,216.8 333.3,217.0 334.0,216.3 334.6,215.0 335.2,215.2 335.9,214.9 336.5,214.4 337.2,213.6 337.8,212.8 338.4,212.1 339.1,211.1 339.7,211.0 340.4,210.6 341.0,210.1 341.6,209.4 342.3,208.8 342.9,208.4 343.6,207.3 344.2,206.9 344.8,207.3 345.5,206.5 346.1,206.4 346.8,206.3 347.4,205.8 348.0,205.1 348.7,204.9 349.3,204.6 350.0,203.8 350.6,203.3 351.2,203.3 351.9,202.5 352.5,202.9 353.2,202.6 353.8,202.5 354.5,202.2 355.1,201.9 355.7,201.6 356.4,201.0 357.0,201.4 357.7,201.2 358.3,200.9 358.9,200.6 359.6,199.9 360.2,200.5 360.9,200.2 361.5,200.2 362.1,200.2 362.8,200.2 363.4,200.2 364.1,200.5 364.7,200.7 365.3,200.8 366.0,200.6 366.6,200.2 367.3,200.0 367.9,199.9 368.5,199.8 369.2,199.7 369.8,199.5 370.5,199.1 371.1,199.1 371.7,198.9 372.4,198.1 373.0,198.5 373.7,197.3 374.3,198.1 374.9,198.0 375.6,197.7 376.2,197.5 376.9,196.6 377.5,197.8 378.1,198.0 378.8,198.2 379.4,197.3 380.1,198.3 380.7,198.3 381.3,198.4 382.0,198.6 382.6,198.5 383.3,198.3 383.9,198.4 384.5,198.5 385.2,198.3 385.8,197.8 386.5,197.9 387.1,198.1 387.7,198.6 388.4,198.4 389.0,198.1 389.7,198.0 390.3,198.0 390.9,197.2 391.6,198.4 392.2,198.7 392.9,199.0 393.5,198.9 394.1,199.3 394.8,198.9 395.4,199.6 396.1,199.7 396.7,199.9 397.4,200.2 398.0,200.2 398.6,200.2 399.3,200.5 399.9,200.5 400.6,200.5" stroke="#000000" stroke-width="0.80"/>
</g>
<path d="M301.0 238.5v-1.1M301.0 179.0v1.1M321.7 238.5v-1.1M321.7 179.0v1.1M342.5 238.5v-1.1M342.5 179.0v1.1M363.2 238.5v-1.1M363.2 179.0v1.1M384.0 238.5v-1.1M384.0 179.0v1.1M404.7 238.5v-1.1M404.7 179.0v1.1M301.0 238.5h1.1M404.7 238.5h-1.1M301.0 223.6h1.1M404.7 223.6h-1.1M301.0 208.8h1.1M404.7 208.8h-1.1M301.0 193.9h1.1M404.7 193.9h-1.1M301.0 179.0h1.1M404.7 179.0h-1.1" stroke="#9c9c9c" stroke-width="0.6" fill="none"/>
<rect x="301.0" y="179.0" width="103.7" height="59.5" fill="none" stroke="#9c9c9c" stroke-width="0.9"/>
<text x="301.0" y="246.3" text-anchor="middle" class="tk">9</text>
<text x="321.7" y="246.3" text-anchor="middle" class="tk">10</text>
<text x="342.5" y="246.3" text-anchor="middle" class="tk">11</text>
<text x="363.2" y="246.3" text-anchor="middle" class="tk">12</text>
<text x="384.0" y="246.3" text-anchor="middle" class="tk">13</text>
<text x="404.7" y="246.3" text-anchor="middle" class="tk">14</text>
<text x="298.9" y="240.4" text-anchor="end" class="tk">0.25</text>
<text x="298.9" y="225.6" text-anchor="end" class="tk">0.3</text>
<text x="298.9" y="210.7" text-anchor="end" class="tk">0.35</text>
<text x="298.9" y="195.8" text-anchor="end" class="tk">0.4</text>
<text x="298.9" y="180.9" text-anchor="end" class="tk">0.45</text>
<text x="305.2" y="188.8" class="tt">(k) B-ASB-AR-J3</text>
<text transform="translate(285.6 208.8) rotate(-90)" text-anchor="middle" class="yl">z [m]</text>
</g>
<g>
<rect x="301.0" y="262.4" width="103.7" height="59.5" fill="#fff"/>
<path d="M321.7 262.4V321.9M342.5 262.4V321.9M363.2 262.4V321.9M384.0 262.4V321.9M301.0 307.0H404.7M301.0 292.1H404.7M301.0 277.3H404.7" stroke="#e4e4e4" stroke-width="0.7" fill="none"/>
<clipPath id="c12"><rect x="301.0" y="262.4" width="103.7" height="59.5"/></clipPath>
<g clip-path="url(#c12)" fill="none" stroke-linejoin="round" stroke-linecap="round">
<polyline points="304.1,327.1 304.8,326.9 305.4,326.5 306.1,325.7 306.7,325.2 307.3,325.1 308.0,324.7 308.6,324.0 309.3,323.6 309.9,323.3 310.6,322.2 311.2,321.1 311.9,320.6 312.5,320.5 313.2,320.5 313.8,319.6 314.5,318.3 315.1,317.8 315.8,317.9 316.4,317.6 317.1,317.0 317.7,316.7 318.4,316.4 319.0,315.9 319.6,315.1 320.3,314.1 320.9,313.4 321.6,313.1 322.2,312.9 322.9,312.4 323.5,311.9 324.2,311.1 324.8,310.3 325.5,309.5 326.1,309.0 326.8,308.8 327.4,307.9 328.1,307.1 328.7,306.5 329.4,305.6 330.0,304.9 330.6,304.0 331.3,303.3 331.9,303.0 332.6,302.4 333.2,302.0 333.9,301.8 334.5,301.5 335.2,300.8 335.8,299.8 336.5,299.0 337.1,298.2 337.8,297.7 338.4,297.3 339.1,296.5 339.7,295.8 340.4,295.3 341.0,294.7 341.7,294.2 342.3,293.6 342.9,293.0 343.6,292.8 344.2,292.5 344.9,291.6 345.5,290.7 346.2,290.0 346.8,289.6 347.5,289.8 348.1,289.2 348.8,288.2 349.4,287.2 350.1,286.5 350.7,286.4 351.4,286.1 352.0,285.3 352.7,285.1 353.3,285.4 353.9,284.8 354.6,284.3 355.2,284.3 355.9,284.0 356.5,283.5 357.2,283.2 357.8,283.2 358.5,283.1 359.1,282.8 359.8,282.6 360.4,282.4 361.1,282.2 361.7,281.8 362.4,281.4 363.0,281.3 363.7,281.4 364.3,281.6 365.0,281.3 365.6,281.2 366.2,281.3 366.9,281.6 367.5,281.8 368.2,281.4 368.8,281.4 369.5,281.5 370.1,281.1 370.8,280.9 371.4,280.8 372.1,280.6 372.7,280.5 373.4,280.6 374.0,280.6 374.7,280.4 375.3,280.7 376.0,281.2 376.6,281.2 377.3,281.2 377.9,281.1 378.5,280.6 379.2,280.7 379.8,281.4 380.5,281.5 381.1,281.2 381.8,281.4 382.4,281.7 383.1,282.0 383.7,281.6 384.4,281.3 385.0,281.6 385.7,281.5 386.3,281.2 387.0,281.2 387.6,281.4 388.3,281.5 388.9,282.0 389.5,282.6 390.2,283.0 390.8,282.7 391.5,282.1 392.1,282.3 392.8,283.0 393.4,283.4 394.1,284.1 394.7,284.2 395.4,283.6 396.0,283.8 396.7,284.5 397.3,284.9 398.0,285.0 398.6,284.9 399.3,285.1 399.9,285.4 400.6,285.7" stroke="#b9b9b9" stroke-width="1.50"/>
<polyline points="304.1,327.1 304.8,326.5 305.4,326.0 306.1,325.6 306.7,325.3 307.3,324.8 308.0,324.0 308.6,323.6 309.3,323.0 309.9,322.5 310.6,322.2 311.2,321.6 311.9,320.6 312.5,320.0 313.2,319.8 313.8,319.3 314.5,318.7 315.1,318.4 315.8,318.0 316.4,317.3 317.1,316.7 317.7,316.2 318.4,315.5 319.0,315.2 319.6,314.9 320.3,314.1 320.9,313.4 321.6,313.3 322.2,313.0 322.9,312.4 323.5,311.7 324.2,311.1 324.8,310.2 325.5,309.5 326.1,309.3 326.8,308.9 327.4,308.3 328.1,307.5 328.7,306.9 329.4,306.3 330.0,305.6 330.6,304.8 331.3,303.7 331.9,303.1 332.6,303.2 333.2,302.6 333.9,301.7 334.5,301.2 335.2,300.5 335.8,299.5 336.5,298.5 337.1,297.9 337.8,297.7 338.4,297.2 339.1,296.7 339.7,296.2 340.4,296.0 341.0,295.5 341.7,294.5 342.3,293.4 342.9,293.0 343.6,293.0 344.2,292.4 344.9,291.6 345.5,291.0 346.2,290.4 346.8,289.6 347.5,289.0 348.1,288.3 348.8,287.9 349.4,287.8 350.1,287.0 350.7,286.0 351.4,285.6 352.0,285.3 352.7,285.1 353.3,285.0 353.9,284.5 354.6,283.9 355.2,283.4 355.9,283.3 356.5,283.5 357.2,283.3 357.8,283.3 358.5,283.0 359.1,282.6 359.8,282.2 360.4,281.9 361.1,281.8 361.7,281.8 362.4,281.5 363.0,281.3 363.7,281.5 364.3,281.6 365.0,281.3 365.6,281.0 366.2,280.9 366.9,281.1 367.5,281.1 368.2,280.9 368.8,280.7 369.5,280.4 370.1,280.3 370.8,280.4 371.4,280.7 372.1,281.1 372.7,280.9 373.4,280.4 374.0,280.3 374.7,280.5 375.3,280.7 376.0,281.0 376.6,281.1 377.3,280.7 377.9,280.7 378.5,280.7 379.2,280.5 379.8,280.6 380.5,280.9 381.1,281.4 381.8,281.6 382.4,281.5 383.1,281.6 383.7,281.7 384.4,281.9 385.0,281.8 385.7,281.8 386.3,281.9 387.0,281.7 387.6,281.7 388.3,281.7 388.9,281.5 389.5,281.5 390.2,281.5 390.8,281.4 391.5,281.6 392.1,281.8 392.8,282.0 393.4,282.2 394.1,282.4 394.7,283.1 395.4,283.7 396.0,284.0 396.7,283.9 397.3,283.8 398.0,284.1 398.6,284.3 399.3,284.3 399.9,284.2 400.6,284.3" stroke="#969696" stroke-width="1.50"/>
<polyline points="304.1,327.4 304.8,326.7 305.4,326.2 306.1,325.9 306.7,325.4 307.3,324.8 308.0,324.1 308.6,323.5 309.3,323.4 309.9,322.9 310.6,322.1 311.2,321.5 311.9,321.0 312.5,320.4 313.2,320.1 313.8,319.5 314.5,318.7 315.1,318.2 315.8,317.8 316.4,317.2 317.1,316.4 317.7,315.9 318.4,315.9 319.0,315.8 319.6,315.0 320.3,314.2 320.9,314.1 321.6,313.8 322.2,312.7 322.9,312.0 323.5,311.7 324.2,311.3 324.8,310.8 325.5,309.8 326.1,308.7 326.8,308.2 327.4,307.8 328.1,307.1 328.7,306.5 329.4,306.0 330.0,305.8 330.6,304.9 331.3,303.7 331.9,303.2 332.6,302.6 333.2,302.0 333.9,301.2 334.5,300.6 335.2,300.0 335.8,299.3 336.5,299.0 337.1,298.7 337.8,298.1 338.4,297.5 339.1,296.9 339.7,296.3 340.4,295.4 341.0,294.7 341.7,294.7 342.3,294.4 342.9,293.6 343.6,292.7 344.2,291.7 344.9,291.0 345.5,290.6 346.2,289.8 346.8,289.2 347.5,289.3 348.1,289.0 348.8,288.1 349.4,287.4 350.1,287.0 350.7,286.8 351.4,286.5 352.0,286.0 352.7,285.6 353.3,285.4 353.9,284.9 354.6,284.1 355.2,283.5 355.9,283.3 356.5,283.4 357.2,283.3 357.8,283.1 358.5,282.9 359.1,282.7 359.8,282.8 360.4,282.8 361.1,282.3 361.7,282.0 362.4,282.2 363.0,281.8 363.7,281.2 364.3,281.0 365.0,281.1 365.6,280.9 366.2,280.5 366.9,280.6 367.5,281.1 368.2,281.1 368.8,280.7 369.5,280.8 370.1,281.0 370.8,280.9 371.4,280.7 372.1,280.7 372.7,280.8 373.4,280.9 374.0,280.8 374.7,280.2 375.3,279.9 376.0,280.2 376.6,280.6 377.3,280.8 377.9,280.6 378.5,280.9 379.2,281.4 379.8,281.4 380.5,281.4 381.1,281.4 381.8,281.2 382.4,280.9 383.1,281.0 383.7,281.1 384.4,281.0 385.0,281.3 385.7,281.6 386.3,281.6 387.0,281.4 387.6,281.2 388.3,281.1 388.9,281.2 389.5,281.1 390.2,280.9 390.8,280.9 391.5,280.9 392.1,281.3 392.8,281.9 393.4,282.3 394.1,282.3 394.7,282.0 395.4,282.1 396.0,282.8 396.7,283.1 397.3,283.1 398.0,283.3 398.6,283.6 399.3,284.1 399.9,284.1 400.6,283.8" stroke="#737373" stroke-width="1.50"/>
<polyline points="304.1,327.5 304.8,326.8 305.4,326.3 306.1,326.0 306.7,325.2 307.3,324.5 308.0,324.0 308.6,323.5 309.3,323.4 309.9,322.8 310.6,321.6 311.2,321.0 311.9,320.5 312.5,319.9 313.2,319.5 313.8,319.1 314.5,318.4 315.1,317.8 315.8,317.3 316.4,317.0 317.1,316.8 317.7,316.5 318.4,315.8 319.0,315.2 319.6,314.4 320.3,313.7 320.9,313.4 321.6,312.9 322.2,312.2 322.9,311.8 323.5,311.3 324.2,310.8 324.8,310.5 325.5,310.0 326.1,309.2 326.8,308.6 327.4,308.0 328.1,307.3 328.7,306.6 329.4,306.3 330.0,305.8 330.6,304.7 331.3,303.5 331.9,302.8 332.6,302.4 333.2,301.9 333.9,301.3 334.5,301.0 335.2,300.4 335.8,299.7 336.5,299.3 337.1,298.5 337.8,297.4 338.4,296.8 339.1,296.5 339.7,296.1 340.4,295.6 341.0,295.4 341.7,295.2 342.3,294.2 342.9,292.9 343.6,292.2 344.2,291.5 344.9,290.7 345.5,290.5 346.2,290.5 346.8,289.9 347.5,288.9 348.1,288.2 348.8,287.9 349.4,287.3 350.1,286.6 350.7,286.4 351.4,286.3 352.0,286.1 352.7,285.8 353.3,285.6 353.9,284.8 354.6,283.9 355.2,283.7 355.9,283.7 356.5,283.1 357.2,282.5 357.8,282.4 358.5,282.5 359.1,282.6 359.8,282.7 360.4,282.6 361.1,282.3 361.7,281.9 362.4,281.4 363.0,281.3 363.7,281.4 364.3,281.9 365.0,282.2 365.6,281.7 366.2,281.1 366.9,281.3 367.5,282.1 368.2,282.0 368.8,281.4 369.5,281.2 370.1,281.1 370.8,280.9 371.4,280.9 372.1,281.2 372.7,280.9 373.4,280.4 374.0,280.5 374.7,280.8 375.3,280.6 376.0,280.7 376.6,280.9 377.3,280.7 377.9,280.7 378.5,280.8 379.2,281.0 379.8,281.2 380.5,281.1 381.1,281.3 381.8,281.6 382.4,281.4 383.1,281.2 383.7,281.4 384.4,281.6 385.0,281.6 385.7,281.4 386.3,280.7 387.0,280.2 387.6,280.3 388.3,280.5 388.9,280.6 389.5,280.8 390.2,281.0 390.8,280.8 391.5,280.3 392.1,280.5 392.8,281.0 393.4,281.1 394.1,281.2 394.7,281.5 395.4,281.6 396.0,281.6 396.7,281.9 397.3,282.4 398.0,282.7 398.6,283.0 399.3,283.0 399.9,282.7 400.6,282.9" stroke="#505050" stroke-width="1.50"/>
<polyline points="304.1,327.1 304.8,326.6 305.4,326.0 306.1,325.4 306.7,324.9 307.3,324.3 308.0,323.8 308.6,323.2 309.3,322.7 309.9,322.2 310.6,321.5 311.2,321.0 311.9,320.6 312.5,320.2 313.2,319.6 313.8,319.1 314.5,318.5 315.1,318.1 315.8,318.0 316.4,317.5 317.1,316.8 317.7,316.0 318.4,315.5 319.0,315.3 319.6,314.9 320.3,314.3 320.9,313.7 321.6,312.9 322.2,312.3 322.9,311.7 323.5,311.0 324.2,310.4 324.8,310.0 325.5,309.6 326.1,308.9 326.8,308.0 327.4,307.2 328.1,306.7 328.7,306.3 329.4,305.7 330.0,304.9 330.6,304.1 331.3,303.6 331.9,303.2 332.6,302.6 333.2,301.9 333.9,301.2 334.5,300.6 335.2,299.9 335.8,299.3 336.5,298.7 337.1,298.1 337.8,297.6 338.4,297.1 339.1,296.4 339.7,295.7 340.4,295.2 341.0,294.6 341.7,293.9 342.3,293.3 342.9,292.8 343.6,292.1 344.2,291.4 344.9,291.0 345.5,290.5 346.2,290.0 346.8,289.8 347.5,289.3 348.1,288.4 348.8,287.6 349.4,287.1 350.1,286.8 350.7,286.2 351.4,285.7 352.0,285.5 352.7,285.3 353.3,284.8 353.9,284.3 354.6,284.0 355.2,283.5 355.9,283.2 356.5,283.0 357.2,283.2 357.8,283.1 358.5,282.7 359.1,282.3 359.8,281.9 360.4,281.6 361.1,281.5 361.7,281.4 362.4,281.4 363.0,281.4 363.7,281.4 364.3,281.2 365.0,281.0 365.6,280.9 366.2,280.9 366.9,280.6 367.5,280.5 368.2,280.8 368.8,280.9 369.5,280.6 370.1,280.3 370.8,280.0 371.4,280.1 372.1,280.4 372.7,280.6 373.4,280.5 374.0,280.4 374.7,280.5 375.3,280.5 376.0,280.4 376.6,280.5 377.3,280.6 377.9,280.7 378.5,280.9 379.2,280.9 379.8,280.9 380.5,280.9 381.1,280.9 381.8,280.8 382.4,280.6 383.1,280.8 383.7,281.5 384.4,281.7 385.0,281.3 385.7,281.3 386.3,281.6 387.0,281.9 387.6,282.2 388.3,282.1 388.9,281.5 389.5,281.6 390.2,281.9 390.8,282.1 391.5,282.4 392.1,282.4 392.8,282.5 393.4,283.0 394.1,283.3 394.7,283.6 395.4,283.6 396.0,283.5 396.7,283.8 397.3,284.1 398.0,284.5 398.6,284.8 399.3,284.8 399.9,285.1 400.6,285.5" stroke="#000000" stroke-width="1.50"/>
<polyline points="304.1,326.9 304.8,326.5 305.4,325.9 306.1,325.4 306.7,325.0 307.3,323.9 308.0,323.2 308.6,322.8 309.3,322.1 309.9,321.4 310.6,320.9 311.2,320.6 311.9,320.4 312.5,319.9 313.2,319.2 313.8,318.6 314.5,318.4 315.1,318.1 315.8,317.2 316.4,316.6 317.1,316.3 317.7,315.8 318.4,315.1 319.0,314.6 319.6,314.4 320.3,314.1 320.9,313.5 321.6,312.9 322.2,312.4 322.9,311.9 323.5,311.2 324.2,310.6 324.8,310.0 325.5,309.3 326.1,308.5 326.8,307.5 327.4,306.8 328.1,306.2 328.7,305.7 329.4,305.2 330.0,304.6 330.6,304.0 331.3,303.5 331.9,303.0 332.6,302.5 333.2,301.9 333.9,301.1 334.5,300.4 335.2,299.8 335.8,299.4 336.5,298.8 337.1,298.1 337.8,297.6 338.4,297.0 339.1,296.2 339.7,295.5 340.4,295.2 341.0,294.7 341.7,293.8 342.3,293.1 342.9,292.7 343.6,292.4 344.2,291.9 344.9,291.1 345.5,290.4 346.2,289.8 346.8,289.3 347.5,288.7 348.1,288.3 348.8,287.6 349.4,286.7 350.1,286.4 350.7,286.1 351.4,285.6 352.0,285.1 352.7,284.8 353.3,284.7 353.9,284.3 354.6,283.8 355.2,283.5 355.9,283.3 356.5,283.2 357.2,283.2 357.8,282.9 358.5,282.4 359.1,282.0 359.8,281.7 360.4,281.4 361.1,281.4 361.7,281.3 362.4,281.3 363.0,281.3 363.7,281.1 364.3,281.0 365.0,280.8 365.6,280.5 366.2,280.7 366.9,280.7 367.5,280.5 368.2,280.5 368.8,280.5 369.5,280.3 370.1,280.2 370.8,280.6 371.4,280.5 372.1,280.0 372.7,280.0 373.4,280.3 374.0,280.4 374.7,280.0 375.3,279.7 376.0,280.0 376.6,280.4 377.3,280.5 377.9,280.4 378.5,280.2 379.2,280.2 379.8,280.3 380.5,280.3 381.1,280.3 381.8,280.5 382.4,280.8 383.1,281.1 383.7,281.1 384.4,281.0 385.0,280.9 385.7,280.8 386.3,281.1 387.0,281.4 387.6,281.4 388.3,281.5 388.9,281.6 389.5,281.8 390.2,281.9 390.8,281.7 391.5,281.8 392.1,282.0 392.8,282.5 393.4,283.0 394.1,283.2 394.7,283.3 395.4,283.4 396.0,283.5 396.7,283.8 397.3,284.2 398.0,284.5 398.6,284.8 399.3,284.7 399.9,284.4 400.6,284.6" stroke="#000000" stroke-width="1.50"/>
<polyline points="304.1,326.4 304.8,325.7 305.4,325.1 306.1,324.6 306.7,324.1 307.3,323.7 308.0,323.3 308.6,322.8 309.3,322.2 309.9,321.8 310.6,321.2 311.2,320.6 311.9,320.1 312.5,319.4 313.2,318.8 313.8,318.5 314.5,318.0 315.1,317.7 315.8,317.3 316.4,316.5 317.1,316.0 317.7,315.7 318.4,315.3 319.0,314.8 319.6,314.3 320.3,313.7 320.9,313.2 321.6,312.7 322.2,312.0 322.9,311.3 323.5,310.7 324.2,310.2 324.8,309.5 325.5,308.5 326.1,307.8 326.8,307.4 327.4,306.8 328.1,306.3 328.7,305.8 329.4,305.0 330.0,304.3 330.6,303.8 331.3,303.4 331.9,302.6 332.6,302.0 333.2,301.5 333.9,300.9 334.5,300.4 335.2,299.8 335.8,299.0 336.5,298.3 337.1,297.9 337.8,297.4 338.4,296.9 339.1,296.1 339.7,295.2 340.4,294.6 341.0,294.2 341.7,293.7 342.3,293.0 342.9,292.4 343.6,291.7 344.2,291.1 344.9,290.6 345.5,289.9 346.2,289.4 346.8,288.8 347.5,288.2 348.1,287.7 348.8,287.0 349.4,286.5 350.1,286.1 350.7,285.6 351.4,285.2 352.0,284.8 352.7,284.7 353.3,284.7 353.9,284.5 354.6,283.9 355.2,283.2 355.9,282.8 356.5,282.4 357.2,282.1 357.8,281.8 358.5,282.0 359.1,281.9 359.8,281.7 360.4,281.5 361.1,281.3 361.7,280.8 362.4,280.6 363.0,280.7 363.7,280.8 364.3,280.6 365.0,280.4 365.6,280.6 366.2,280.5 366.9,280.5 367.5,280.5 368.2,280.2 368.8,280.2 369.5,280.1 370.1,280.0 370.8,280.2 371.4,280.1 372.1,280.0 372.7,280.0 373.4,279.9 374.0,279.8 374.7,279.9 375.3,279.9 376.0,279.9 376.6,280.0 377.3,280.2 377.9,280.1 378.5,280.0 379.2,280.1 379.8,280.4 380.5,280.6 381.1,280.5 381.8,280.4 382.4,280.4 383.1,280.5 383.7,280.7 384.4,280.5 385.0,280.7 385.7,281.3 386.3,281.4 387.0,281.1 387.6,281.0 388.3,281.3 388.9,281.4 389.5,281.5 390.2,281.5 390.8,281.4 391.5,281.6 392.1,282.0 392.8,282.3 393.4,282.3 394.1,282.6 394.7,282.9 395.4,282.9 396.0,283.3 396.7,284.0 397.3,284.3 398.0,284.4 398.6,284.5 399.3,284.4 399.9,283.9 400.6,284.0" stroke="#000000" stroke-width="1.50"/>
<polyline points="304.1,326.2 304.8,325.6 305.4,325.1 306.1,324.8 306.7,324.3 307.3,323.5 308.0,322.9 308.6,322.2 309.3,321.7 309.9,321.2 310.6,320.5 311.2,320.1 311.9,319.8 312.5,319.3 313.2,318.6 313.8,318.1 314.5,317.8 315.1,317.3 315.8,317.0 316.4,316.6 317.1,315.9 317.7,315.2 318.4,314.6 319.0,314.2 319.6,313.9 320.3,313.5 320.9,312.8 321.6,312.2 322.2,311.8 322.9,311.5 323.5,310.8 324.2,309.7 324.8,309.0 325.5,308.5 326.1,307.8 326.8,307.2 327.4,306.6 328.1,305.9 328.7,305.5 329.4,305.2 330.0,304.6 330.6,303.7 331.3,302.8 331.9,302.1 332.6,301.5 333.2,300.9 333.9,300.4 334.5,299.9 335.2,299.2 335.8,298.5 336.5,297.8 337.1,297.0 337.8,296.4 338.4,295.8 339.1,295.3 339.7,294.7 340.4,294.0 341.0,293.4 341.7,293.1 342.3,292.8 342.9,292.3 343.6,291.7 344.2,291.0 344.9,290.4 345.5,289.8 346.2,289.2 346.8,288.8 347.5,288.4 348.1,287.8 348.8,287.3 349.4,286.7 350.1,285.9 350.7,285.3 351.4,285.2 352.0,285.1 352.7,284.2 353.3,283.5 353.9,283.5 354.6,283.4 355.2,283.0 355.9,282.5 356.5,282.1 357.2,282.0 357.8,281.9 358.5,281.8 359.1,281.8 359.8,281.6 360.4,281.3 361.1,281.1 361.7,281.0 362.4,280.8 363.0,280.6 363.7,280.4 364.3,280.5 365.0,280.6 365.6,280.5 366.2,280.3 366.9,280.1 367.5,280.0 368.2,279.8 368.8,279.7 369.5,279.8 370.1,279.7 370.8,279.5 371.4,279.5 372.1,279.5 372.7,279.4 373.4,279.2 374.0,279.4 374.7,279.6 375.3,279.4 376.0,279.2 376.6,279.4 377.3,279.6 377.9,279.7 378.5,279.8 379.2,279.9 379.8,279.9 380.5,279.9 381.1,279.9 381.8,279.9 382.4,280.1 383.1,279.9 383.7,279.7 384.4,279.9 385.0,280.3 385.7,280.8 386.3,281.0 387.0,280.8 387.6,280.6 388.3,281.2 388.9,281.5 389.5,281.1 390.2,281.3 390.8,281.7 391.5,281.6 392.1,281.7 392.8,282.0 393.4,282.1 394.1,282.3 394.7,282.4 395.4,282.7 396.0,283.3 396.7,283.7 397.3,283.7 398.0,283.8 398.6,284.1 399.3,284.3 399.9,284.4 400.6,284.4" stroke="#000000" stroke-width="1.50"/>
<polyline points="304.1,326.2 304.8,325.7 305.4,325.0 306.1,324.4 306.7,323.6 307.3,323.0 308.0,322.6 308.6,322.4 309.3,322.1 309.9,321.3 310.6,320.5 311.2,320.0 311.9,319.5 312.5,319.1 313.2,318.5 313.8,318.1 314.5,317.8 315.1,317.2 315.8,316.7 316.4,316.4 317.1,315.9 317.7,315.2 318.4,314.4 319.0,313.8 319.6,313.4 320.3,313.1 320.9,312.7 321.6,312.1 322.2,311.4 322.9,310.6 323.5,309.8 324.2,309.3 324.8,308.8 325.5,308.2 326.1,307.9 326.8,307.4 327.4,306.5 328.1,305.8 328.7,305.1 329.4,304.5 330.0,304.0 330.6,303.4 331.3,302.6 331.9,301.9 332.6,301.2 333.2,300.7 333.9,300.4 334.5,299.9 335.2,299.1 335.8,298.5 336.5,297.6 337.1,296.7 337.8,296.4 338.4,296.0 339.1,295.2 339.7,294.7 340.4,294.2 341.0,293.5 341.7,292.8 342.3,292.2 342.9,291.7 343.6,291.1 344.2,290.7 344.9,290.1 345.5,289.5 346.2,289.0 346.8,288.5 347.5,287.8 348.1,287.1 348.8,286.8 349.4,286.4 350.1,285.6 350.7,285.1 351.4,284.8 352.0,284.2 352.7,283.7 353.3,283.7 353.9,283.5 354.6,283.2 355.2,282.9 355.9,282.5 356.5,282.2 357.2,281.9 357.8,281.7 358.5,281.6 359.1,281.4 359.8,280.8 360.4,280.5 361.1,280.8 361.7,280.5 362.4,280.0 363.0,280.0 363.7,280.0 364.3,280.0 365.0,280.2 365.6,280.1 366.2,280.0 366.9,280.0 367.5,280.0 368.2,279.9 368.8,280.0 369.5,279.7 370.1,279.3 370.8,279.3 371.4,279.5 372.1,279.5 372.7,279.2 373.4,278.9 374.0,279.1 374.7,279.4 375.3,279.6 376.0,279.6 376.6,279.5 377.3,279.7 377.9,279.9 378.5,279.9 379.2,279.8 379.8,279.8 380.5,279.9 381.1,280.0 381.8,280.0 382.4,279.9 383.1,280.0 383.7,280.2 384.4,280.2 385.0,280.4 385.7,280.7 386.3,280.5 387.0,280.3 387.6,280.3 388.3,280.6 388.9,281.0 389.5,281.3 390.2,281.2 390.8,281.0 391.5,281.4 392.1,281.5 392.8,281.5 393.4,281.8 394.1,282.1 394.7,282.2 395.4,282.5 396.0,282.8 396.7,283.1 397.3,283.4 398.0,283.5 398.6,283.7 399.3,284.1 399.9,284.3 400.6,284.5" stroke="#000000" stroke-width="1.50"/>
<polyline points="304.1,325.5 304.8,325.1 305.4,324.5 306.1,323.8 306.7,323.3 307.3,322.9 308.0,322.4 308.6,321.8 309.3,321.2 309.9,320.4 310.6,319.9 311.2,319.7 311.9,319.3 312.5,318.6 313.2,318.1 313.8,318.0 314.5,317.6 315.1,317.0 315.8,316.3 316.4,315.4 317.1,314.9 317.7,314.7 318.4,314.2 319.0,313.6 319.6,313.3 320.3,313.2 320.9,312.5 321.6,311.7 322.2,311.1 322.9,310.5 323.5,309.9 324.2,309.1 324.8,308.6 325.5,308.2 326.1,307.7 326.8,306.8 327.4,306.0 328.1,305.5 328.7,304.8 329.4,303.9 330.0,303.7 330.6,303.2 331.3,302.5 331.9,302.0 332.6,301.3 333.2,300.8 333.9,300.2 334.5,299.5 335.2,298.9 335.8,298.2 336.5,297.4 337.1,296.9 337.8,296.1 338.4,295.2 339.1,294.7 339.7,294.3 340.4,294.0 341.0,293.5 341.7,292.8 342.3,292.1 342.9,291.7 343.6,291.1 344.2,290.4 344.9,289.9 345.5,289.3 346.2,288.9 346.8,288.3 347.5,287.4 348.1,286.7 348.8,286.4 349.4,286.1 350.1,285.4 350.7,284.8 351.4,284.4 352.0,284.0 352.7,283.9 353.3,283.7 353.9,283.5 354.6,283.4 355.2,282.8 355.9,282.3 356.5,282.1 357.2,281.9 357.8,281.8 358.5,281.7 359.1,281.4 359.8,281.2 360.4,280.9 361.1,280.8 361.7,280.8 362.4,280.4 363.0,279.9 363.7,279.9 364.3,279.9 365.0,279.9 365.6,279.9 366.2,279.8 366.9,279.8 367.5,279.8 368.2,279.8 368.8,279.6 369.5,279.6 370.1,279.2 370.8,279.2 371.4,279.3 372.1,279.2 372.7,279.0 373.4,278.9 374.0,279.1 374.7,279.2 375.3,279.1 376.0,279.2 376.6,279.4 377.3,279.4 377.9,279.3 378.5,279.5 379.2,279.5 379.8,279.3 380.5,279.2 381.1,279.4 381.8,279.9 382.4,280.2 383.1,280.1 383.7,280.0 384.4,280.0 385.0,279.7 385.7,279.6 386.3,280.1 387.0,280.5 387.6,280.5 388.3,280.5 388.9,280.6 389.5,280.5 390.2,280.7 390.8,280.9 391.5,280.9 392.1,280.9 392.8,281.0 393.4,281.4 394.1,282.2 394.7,282.5 395.4,282.4 396.0,282.4 396.7,282.6 397.3,283.0 398.0,283.5 398.6,283.6 399.3,283.6 399.9,283.9 400.6,284.1" stroke="#000000" stroke-width="1.50"/>
<polyline points="304.1,325.8 304.8,325.5 305.4,325.1 306.1,324.4 306.7,323.8 307.3,323.3 308.0,322.6 308.6,321.9 309.3,321.4 309.9,321.0 310.6,320.5 311.2,320.0 311.9,319.5 312.5,318.9 313.2,318.4 313.8,318.0 314.5,317.5 315.1,317.0 315.8,315.7 316.4,316.2 317.1,315.6 317.7,315.1 318.4,314.6 319.0,314.0 319.6,313.5 320.3,313.1 320.9,312.9 321.6,312.4 322.2,311.7 322.9,310.7 323.5,309.3 324.2,309.4 324.8,308.6 325.5,308.0 326.1,307.5 326.8,307.0 327.4,306.5 328.1,305.8 328.7,305.3 329.4,304.6 330.0,303.8 330.6,303.2 331.3,302.2 331.9,302.3 332.6,301.6 333.2,300.9 333.9,300.3 334.5,299.7 335.2,298.3 335.8,298.2 336.5,296.6 337.1,297.2 337.8,295.9 338.4,295.8 339.1,294.0 339.7,294.6 340.4,293.9 341.0,293.5 341.7,293.0 342.3,292.4 342.9,292.1 343.6,291.3 344.2,289.8 344.9,290.1 345.5,289.6 346.2,288.8 346.8,288.3 347.5,288.0 348.1,287.3 348.8,286.6 349.4,286.0 350.1,285.6 350.7,285.4 351.4,284.2 352.0,284.3 352.7,284.1 353.3,284.1 353.9,283.7 354.6,282.3 355.2,282.4 355.9,282.5 356.5,281.2 357.2,282.0 357.8,281.1 358.5,281.7 359.1,281.3 359.8,281.2 360.4,281.2 361.1,279.8 361.7,280.4 362.4,280.5 363.0,279.2 363.7,280.2 364.3,280.1 365.0,279.8 365.6,279.8 366.2,279.8 366.9,279.8 367.5,279.8 368.2,279.6 368.8,279.4 369.5,279.5 370.1,279.5 370.8,279.6 371.4,279.4 372.1,279.3 372.7,279.4 373.4,279.5 374.0,279.7 374.7,279.7 375.3,279.5 376.0,279.3 376.6,279.4 377.3,279.1 377.9,279.7 378.5,279.8 379.2,279.9 379.8,279.7 380.5,279.0 381.1,279.6 381.8,280.0 382.4,280.2 383.1,280.3 383.7,280.3 384.4,280.2 385.0,280.2 385.7,280.4 386.3,280.5 387.0,280.4 387.6,280.5 388.3,280.8 388.9,280.8 389.5,280.4 390.2,281.3 390.8,280.6 391.5,281.0 392.1,280.3 392.8,281.4 393.4,281.8 394.1,282.0 394.7,282.1 395.4,281.2 396.0,282.8 396.7,282.0 397.3,283.3 398.0,283.6 398.6,283.2 399.3,283.8 399.9,284.0 400.6,283.1" stroke="#000000" stroke-width="0.80"/>
</g>
<path d="M301.0 321.9v-1.1M301.0 262.4v1.1M321.7 321.9v-1.1M321.7 262.4v1.1M342.5 321.9v-1.1M342.5 262.4v1.1M363.2 321.9v-1.1M363.2 262.4v1.1M384.0 321.9v-1.1M384.0 262.4v1.1M404.7 321.9v-1.1M404.7 262.4v1.1M301.0 321.9h1.1M404.7 321.9h-1.1M301.0 307.0h1.1M404.7 307.0h-1.1M301.0 292.1h1.1M404.7 292.1h-1.1M301.0 277.3h1.1M404.7 277.3h-1.1M301.0 262.4h1.1M404.7 262.4h-1.1" stroke="#9c9c9c" stroke-width="0.6" fill="none"/>
<rect x="301.0" y="262.4" width="103.7" height="59.5" fill="none" stroke="#9c9c9c" stroke-width="0.9"/>
<text x="301.0" y="329.7" text-anchor="middle" class="tk">9</text>
<text x="321.7" y="329.7" text-anchor="middle" class="tk">10</text>
<text x="342.5" y="329.7" text-anchor="middle" class="tk">11</text>
<text x="363.2" y="329.7" text-anchor="middle" class="tk">12</text>
<text x="384.0" y="329.7" text-anchor="middle" class="tk">13</text>
<text x="404.7" y="329.7" text-anchor="middle" class="tk">14</text>
<text x="298.9" y="323.8" text-anchor="end" class="tk">0.25</text>
<text x="298.9" y="309.0" text-anchor="end" class="tk">0.3</text>
<text x="298.9" y="294.1" text-anchor="end" class="tk">0.35</text>
<text x="298.9" y="279.2" text-anchor="end" class="tk">0.4</text>
<text x="298.9" y="264.3" text-anchor="end" class="tk">0.45</text>
<text x="305.2" y="272.1" class="tt">(l) B-ASB-AR-J4</text>
<text transform="translate(285.6 292.1) rotate(-90)" text-anchor="middle" class="yl">z [m]</text>
<text x="352.9" y="337.3" text-anchor="middle" class="yl">x [m]</text>
</g>
<g>
<rect x="438.3" y="11.8" width="103.7" height="59.5" fill="#fff"/>
<path d="M459.0 11.8V71.3M479.8 11.8V71.3M500.5 11.8V71.3M521.3 11.8V71.3M438.3 56.4H542.0M438.3 41.5H542.0M438.3 26.7H542.0" stroke="#e4e4e4" stroke-width="0.7" fill="none"/>
<clipPath id="c13"><rect x="438.3" y="11.8" width="103.7" height="59.5"/></clipPath>
<g clip-path="url(#c13)" fill="none" stroke-linejoin="round" stroke-linecap="round">
<polyline points="438.3,41.5 439.4,41.5 440.5,41.5 441.7,41.5 442.8,41.5 443.9,41.5 445.0,41.5 446.1,41.6 447.2,41.6 448.4,41.6 449.5,41.6 450.6,41.6 451.7,41.6 452.8,41.6 454.0,41.6 455.1,41.6 456.2,41.6 457.3,41.5 458.4,41.5 459.6,41.5 460.7,41.5 461.8,41.5 462.9,41.5 464.0,41.5 465.1,41.5 466.3,41.5 467.4,41.5 468.5,41.5 469.6,41.5 470.7,41.5 471.9,41.6 473.0,41.6 474.1,41.6 475.2,41.6 476.3,41.6 477.4,41.6 478.6,41.5 479.7,41.5 480.8,41.5 481.9,41.5 483.0,41.5 484.2,41.5 485.3,41.5 486.4,41.5 487.5,41.5 488.6,41.5 489.8,41.5 490.9,41.5 492.0,41.5 493.1,41.6 494.2,41.5 495.3,41.5 496.5,41.5 497.6,41.5 498.7,41.5 499.8,41.5 500.9,41.5 502.1,41.5 503.2,41.5 504.3,41.6 505.4,41.6 506.5,41.6 507.7,41.6 508.8,41.6 509.9,41.6 511.0,41.6 512.1,41.5 513.2,41.5 514.4,41.5 515.5,41.5 516.6,41.5 517.7,41.5 518.8,41.5 520.0,41.5 521.1,41.5 522.2,41.5 523.3,41.5 524.4,41.6 525.5,41.6 526.7,41.6 527.8,41.6 528.9,41.6 530.0,41.6 531.1,41.6 532.3,41.6 533.4,41.6 534.5,41.6 535.6,41.6 536.7,41.6 537.9,41.6" stroke="#0000f8" stroke-width="1.32"/>
<polyline points="468.4,41.5 469.2,41.4 469.9,41.2 470.7,40.9 471.5,40.8 472.3,40.6 473.1,40.5 473.8,40.5 474.6,40.5 475.4,40.5 476.2,40.5 477.0,40.5 477.7,40.5 478.5,40.5 479.3,40.5 480.1,40.5 480.9,40.5 481.6,40.5 482.4,40.5 483.2,40.5 484.0,40.5 484.8,40.5 485.5,40.5 486.3,40.5 487.1,40.5 487.9,40.5 488.7,40.5 489.5,40.5 490.2,40.5 491.0,40.5 491.8,40.5 492.6,40.5 493.4,40.5 494.1,40.5 494.9,40.5 495.7,40.5 496.5,40.5 497.3,40.5 498.0,40.5 498.8,40.5 499.6,40.5 500.4,40.5 501.2,40.5 501.9,40.5 502.7,40.5 503.5,40.5 504.3,40.5 505.1,40.5 505.8,40.5 506.6,40.5 507.4,40.5 508.2,40.5 509.0,40.5 509.7,40.5 510.5,40.5 511.3,40.5 512.1,40.5 512.9,40.5 513.7,40.5 514.4,40.5 515.2,40.5 516.0,40.5 516.8,40.5 517.6,40.5 518.3,40.5 519.1,40.5 519.9,40.5 520.7,40.5 521.5,40.5 522.2,40.5 523.0,40.5 523.8,40.5 524.6,40.5 525.4,40.5 526.1,40.5 526.9,40.5 527.7,40.5 528.5,40.5 529.3,40.5 530.0,40.5 530.8,40.5 531.6,40.5 532.4,40.5 533.2,40.5 533.9,40.5 534.7,40.5 535.5,40.5 536.3,40.5 537.1,40.5 537.9,40.5" stroke="#0b00ee" stroke-width="1.08"/>
<polyline points="469.4,41.7 470.2,41.7 470.9,41.7 471.7,41.7 472.5,41.7 473.3,41.7 474.0,41.7 474.8,41.7 475.6,41.7 476.3,41.7 477.1,41.7 477.9,41.7 478.6,41.7 479.4,41.7 480.2,41.8 480.9,41.8 481.7,41.8 482.5,41.8 483.3,41.8 484.0,41.8 484.8,41.8 485.6,41.8 486.3,41.8 487.1,41.8 487.9,41.8 488.6,41.8 489.4,41.8 490.2,41.9 490.9,41.9 491.7,41.9 492.5,41.9 493.2,41.9 494.0,41.9 494.8,41.9 495.6,41.9 496.3,41.9 497.1,41.9 497.9,42.0 498.6,42.0 499.4,42.0 500.2,42.0 500.9,42.0 501.7,42.0 502.5,42.0 503.2,42.0 504.0,42.1 504.8,42.1 505.6,42.1 506.3,42.1 507.1,42.1 507.9,42.1 508.6,42.2 509.4,42.2 510.2,42.2 510.9,42.2 511.7,42.2 512.5,42.3 513.2,42.3 514.0,42.3 514.8,42.3 515.6,42.3 516.3,42.4 517.1,42.4 517.9,42.4 518.6,42.4 519.4,42.4 520.2,42.4 520.9,42.4 521.7,42.4 522.5,42.5 523.2,42.5 524.0,42.5 524.8,42.5 525.5,42.5 526.3,42.5 527.1,42.5 527.9,42.5 528.6,42.5 529.4,42.5 530.2,42.6 530.9,42.6 531.7,42.6 532.5,42.6 533.2,42.5 534.0,42.6 534.8,42.6 535.5,42.6 536.3,42.6 537.1,42.6 537.9,42.6" stroke="#0000f8" stroke-width="1.08"/>
<polyline points="468.4,41.6 469.2,41.5 469.9,41.4 470.7,41.4 471.5,41.3 472.3,41.3 473.1,41.2 473.8,41.2 474.6,41.2 475.4,41.2 476.2,41.2 477.0,41.2 477.7,41.3 478.5,41.2 479.3,41.2 480.1,41.2 480.9,41.2 481.6,41.3 482.4,41.3 483.2,41.3 484.0,41.3 484.8,41.3 485.5,41.3 486.3,41.3 487.1,41.3 487.9,41.3 488.7,41.3 489.5,41.3 490.2,41.3 491.0,41.3 491.8,41.3 492.6,41.3 493.4,41.3 494.1,41.3 494.9,41.3 495.7,41.3 496.5,41.3 497.3,41.3 498.0,41.3 498.8,41.3 499.6,41.2 500.4,41.2 501.2,41.2 501.9,41.2 502.7,41.3 503.5,41.3 504.3,41.3 505.1,41.3 505.8,41.3 506.6,41.3 507.4,41.3 508.2,41.3 509.0,41.3 509.7,41.4 510.5,41.4 511.3,41.4 512.1,41.4 512.9,41.5 513.7,41.5 514.4,41.5 515.2,41.5 516.0,41.5 516.8,41.5 517.6,41.5 518.3,41.6 519.1,41.6 519.9,41.6 520.7,41.6 521.5,41.6 522.2,41.6 523.0,41.5 523.8,41.6 524.6,41.6 525.4,41.6 526.1,41.6 526.9,41.5 527.7,41.5 528.5,41.5 529.3,41.5 530.0,41.5 530.8,41.5 531.6,41.5 532.4,41.5 533.2,41.5 533.9,41.5 534.7,41.5 535.5,41.5 536.3,41.5 537.1,41.6 537.9,41.5" stroke="#3b00c0" stroke-width="1.56"/>
</g>
<path d="M438.3 71.3v-1.1M438.3 11.8v1.1M459.0 71.3v-1.1M459.0 11.8v1.1M479.8 71.3v-1.1M479.8 11.8v1.1M500.5 71.3v-1.1M500.5 11.8v1.1M521.3 71.3v-1.1M521.3 11.8v1.1M542.0 71.3v-1.1M542.0 11.8v1.1M438.3 71.3h1.1M542.0 71.3h-1.1M438.3 56.4h1.1M542.0 56.4h-1.1M438.3 41.5h1.1M542.0 41.5h-1.1M438.3 26.7h1.1M542.0 26.7h-1.1M438.3 11.8h1.1M542.0 11.8h-1.1" stroke="#9c9c9c" stroke-width="0.6" fill="none"/>
<rect x="438.3" y="11.8" width="103.7" height="59.5" fill="none" stroke="#9c9c9c" stroke-width="0.9"/>
<text x="438.3" y="79.1" text-anchor="middle" class="tk">9</text>
<text x="459.0" y="79.1" text-anchor="middle" class="tk">10</text>
<text x="479.8" y="79.1" text-anchor="middle" class="tk">11</text>
<text x="500.5" y="79.1" text-anchor="middle" class="tk">12</text>
<text x="521.3" y="79.1" text-anchor="middle" class="tk">13</text>
<text x="542.0" y="79.1" text-anchor="middle" class="tk">14</text>
<text x="436.2" y="73.2" text-anchor="end" class="tk">-2</text>
<text x="436.2" y="58.4" text-anchor="end" class="tk">-1</text>
<text x="436.2" y="43.5" text-anchor="end" class="tk">0</text>
<text x="436.2" y="28.6" text-anchor="end" class="tk">1</text>
<text x="436.2" y="13.8" text-anchor="end" class="tk">2</text>
<text x="442.5" y="21.6" class="tb">(m) B-ASB-AR-J1</text>
<text transform="translate(428.4 41.5) rotate(-90)" text-anchor="middle" class="ql"><tspan class="qi">q&#773;</tspan><tspan class="sub" dy="1">s</tspan><tspan dy="-1"> [m</tspan><tspan class="sub" dy="-1.6">3</tspan><tspan dy="1.6">/(ms)]</tspan></text>
<text x="439.5" y="10.1" class="ex">&#215;10<tspan class="es" dy="-2.6">-6</tspan></text>
</g>
<g>
<rect x="438.3" y="95.4" width="103.7" height="59.5" fill="#fff"/>
<path d="M459.0 95.4V154.9M479.8 95.4V154.9M500.5 95.4V154.9M521.3 95.4V154.9M438.3 140.0H542.0M438.3 125.2H542.0M438.3 110.3H542.0" stroke="#e4e4e4" stroke-width="0.7" fill="none"/>
<clipPath id="c14"><rect x="438.3" y="95.4" width="103.7" height="59.5"/></clipPath>
<g clip-path="url(#c14)" fill="none" stroke-linejoin="round" stroke-linecap="round">
<polyline points="438.3,125.2 439.4,125.3 440.5,125.3 441.7,125.3 442.8,125.3 443.9,125.3 445.0,125.4 446.1,125.4 447.2,125.4 448.4,125.5 449.5,125.6 450.6,125.8 451.7,125.9 452.8,126.0 454.0,126.0 455.1,126.0 456.2,126.0 457.3,126.0 458.4,126.0 459.6,126.2 460.7,126.4 461.8,126.7 462.9,127.0 464.0,127.2 465.1,127.4 466.3,127.6 467.4,127.8 468.5,128.0 469.6,128.1 470.7,128.1 471.9,128.0 473.0,127.9 474.1,127.7 475.2,127.7 476.3,127.6 477.4,127.5 478.6,127.4 479.7,127.4 480.8,127.4 481.9,127.5 483.0,127.6 484.2,127.7 485.3,127.8 486.4,127.8 487.5,127.8 488.6,127.9 489.8,128.0 490.9,128.2 492.0,128.4 493.1,128.6 494.2,128.7 495.3,128.8 496.5,128.9 497.6,128.9 498.7,129.0 499.8,129.0 500.9,129.1 502.1,129.2 503.2,129.2 504.3,129.2 505.4,129.1 506.5,129.0 507.7,128.9 508.8,128.9 509.9,128.7 511.0,128.7 512.1,128.6 513.2,128.5 514.4,128.4 515.5,128.3 516.6,128.2 517.7,128.0 518.8,127.8 520.0,127.5 521.1,127.2 522.2,126.9 523.3,126.7 524.4,126.5 525.5,126.3 526.7,126.1 527.8,125.9 528.9,125.6 530.0,125.4 531.1,125.3 532.3,125.2 533.4,125.2 534.5,125.1 535.6,125.1 536.7,125.1 537.9,125.1" stroke="#d40030" stroke-width="1.44"/>
<polyline points="438.3,125.2 439.4,125.4 440.5,125.5 441.7,125.5 442.8,125.4 443.9,125.3 445.0,125.3 446.1,125.3 447.2,125.4 448.4,125.5 449.5,125.6 450.6,125.7 451.7,125.7 452.8,125.7 454.0,125.7 455.1,125.7 456.2,125.6 457.3,125.6 458.4,125.6 459.6,125.5 460.7,125.6 461.8,125.6 462.9,125.7 464.0,125.7 465.1,125.8 466.3,125.8 467.4,125.9 468.5,125.9 469.6,125.9 470.7,126.0 471.9,126.0 473.0,126.0 474.1,126.0 475.2,126.0 476.3,126.0 477.4,125.9 478.6,125.9 479.7,125.8 480.8,125.7 481.9,125.6 483.0,125.4 484.2,125.2 485.3,125.1 486.4,124.8 487.5,124.7 488.6,124.5 489.8,124.4 490.9,124.4 492.0,124.2 493.1,124.1 494.2,123.9 495.3,123.6 496.5,123.4 497.6,123.2 498.7,123.1 499.8,122.9 500.9,122.8 502.1,122.6 503.2,122.5 504.3,122.4 505.4,122.3 506.5,122.2 507.7,122.1 508.8,122.1 509.9,122.0 511.0,121.8 512.1,121.7 513.2,121.5 514.4,121.3 515.5,121.1 516.6,121.1 517.7,121.0 518.8,120.9 520.0,120.8 521.1,120.8 522.2,120.7 523.3,120.6 524.4,120.6 525.5,120.6 526.7,120.5 527.8,120.5 528.9,120.3 530.0,120.2 531.1,120.2 532.3,120.2 533.4,120.3 534.5,120.4 535.6,120.4 536.7,120.4 537.9,120.4" stroke="#c9003a" stroke-width="1.44"/>
<polyline points="438.3,125.2 439.4,125.3 440.5,125.3 441.7,125.3 442.8,125.3 443.9,125.3 445.0,125.3 446.1,125.3 447.2,125.3 448.4,125.4 449.5,125.5 450.6,125.6 451.7,125.7 452.8,125.8 454.0,125.8 455.1,125.8 456.2,125.7 457.3,125.7 458.4,125.8 459.6,125.9 460.7,126.0 461.8,126.1 462.9,126.2 464.0,126.3 465.1,126.4 466.3,126.5 467.4,126.5 468.5,126.5 469.6,126.4 470.7,126.4 471.9,126.4 473.0,126.4 474.1,126.6 475.2,126.6 476.3,126.6 477.4,126.6 478.6,126.6 479.7,126.7 480.8,126.7 481.9,126.7 483.0,126.7 484.2,126.6 485.3,126.5 486.4,126.4 487.5,126.2 488.6,126.0 489.8,125.9 490.9,125.7 492.0,125.6 493.1,125.6 494.2,125.6 495.3,125.7 496.5,125.7 497.6,125.7 498.7,125.5 499.8,125.5 500.9,125.4 502.1,125.3 503.2,125.2 504.3,125.0 505.4,124.9 506.5,124.7 507.7,124.6 508.8,124.5 509.9,124.5 511.0,124.6 512.1,124.7 513.2,124.7 514.4,124.6 515.5,124.5 516.6,124.3 517.7,124.2 518.8,124.1 520.0,124.1 521.1,124.1 522.2,124.2 523.3,124.4 524.4,124.5 525.5,124.7 526.7,124.8 527.8,125.0 528.9,125.3 530.0,125.5 531.1,125.7 532.3,125.8 533.4,125.9 534.5,126.1 535.6,126.2 536.7,126.5 537.9,126.7" stroke="#7f0080" stroke-width="1.44"/>
<polyline points="438.3,125.0 439.4,125.0 440.5,125.1 441.7,125.2 442.8,125.3 443.9,125.3 445.0,125.3 446.1,125.3 447.2,125.3 448.4,125.4 449.5,125.5 450.6,125.6 451.7,125.6 452.8,125.6 454.0,125.6 455.1,125.5 456.2,125.5 457.3,125.5 458.4,125.5 459.6,125.7 460.7,125.8 461.8,125.9 462.9,125.9 464.0,125.8 465.1,125.8 466.3,125.7 467.4,125.6 468.5,125.6 469.6,125.6 470.7,125.6 471.9,125.6 473.0,125.5 474.1,125.5 475.2,125.5 476.3,125.5 477.4,125.5 478.6,125.5 479.7,125.3 480.8,125.2 481.9,125.0 483.0,124.8 484.2,124.6 485.3,124.3 486.4,124.0 487.5,123.7 488.6,123.5 489.8,123.3 490.9,123.1 492.0,123.0 493.1,122.8 494.2,122.7 495.3,122.6 496.5,122.7 497.6,122.8 498.7,122.9 499.8,123.0 500.9,123.1 502.1,123.3 503.2,123.5 504.3,123.6 505.4,123.7 506.5,123.7 507.7,123.6 508.8,123.5 509.9,123.4 511.0,123.4 512.1,123.4 513.2,123.4 514.4,123.3 515.5,123.3 516.6,123.1 517.7,123.1 518.8,123.0 520.0,122.9 521.1,122.8 522.2,122.8 523.3,122.8 524.4,122.8 525.5,122.8 526.7,122.7 527.8,122.6 528.9,122.6 530.0,122.5 531.1,122.5 532.3,122.5 533.4,122.4 534.5,122.4 535.6,122.4 536.7,122.3 537.9,122.3" stroke="#4000bc" stroke-width="1.56"/>
<polyline points="438.3,125.2 439.4,125.2 440.5,125.3 441.7,125.3 442.8,125.3 443.9,125.4 445.0,125.4 446.1,125.5 447.2,125.6 448.4,125.6 449.5,125.6 450.6,125.6 451.7,125.7 452.8,125.8 454.0,125.9 455.1,126.0 456.2,126.1 457.3,126.1 458.4,126.0 459.6,126.0 460.7,126.0 461.8,126.0 462.9,126.1 464.0,126.2 465.1,126.2 466.3,126.2 467.4,126.2 468.5,126.1 469.6,126.1 470.7,126.1 471.9,126.1 473.0,126.3 474.1,126.4 475.2,126.5 476.3,126.7 477.4,126.8 478.6,126.9 479.7,126.9 480.8,127.0 481.9,127.1 483.0,127.2 484.2,127.4 485.3,127.6 486.4,127.8 487.5,128.0 488.6,128.2 489.8,128.3 490.9,128.4 492.0,128.5 493.1,128.6 494.2,128.7 495.3,128.8 496.5,128.8 497.6,128.7 498.7,128.6 499.8,128.5 500.9,128.3 502.1,128.1 503.2,127.8 504.3,127.6 505.4,127.5 506.5,127.4 507.7,127.4 508.8,127.2 509.9,127.1 511.0,126.9 512.1,126.7 513.2,126.5 514.4,126.4 515.5,126.2 516.6,126.1 517.7,126.0 518.8,126.0 520.0,126.0 521.1,125.9 522.2,126.0 523.3,126.0 524.4,126.0 525.5,126.1 526.7,126.1 527.8,126.2 528.9,126.2 530.0,126.3 531.1,126.5 532.3,126.5 533.4,126.7 534.5,126.8 535.6,126.8 536.7,126.9 537.9,127.0" stroke="#2000da" stroke-width="1.56"/>
<polyline points="438.3,125.1 439.4,125.2 440.5,125.3 441.7,125.2 442.8,125.3 443.9,125.3 445.0,125.4 446.1,125.5 447.2,125.5 448.4,125.5 449.5,125.5 450.6,125.5 451.7,125.5 452.8,125.7 454.0,125.8 455.1,125.9 456.2,125.9 457.3,125.8 458.4,125.8 459.6,125.8 460.7,125.9 461.8,126.0 462.9,126.1 464.0,126.1 465.1,126.1 466.3,126.0 467.4,125.9 468.5,126.0 469.6,126.1 470.7,126.3 471.9,126.4 473.0,126.3 474.1,126.3 475.2,126.2 476.3,126.2 477.4,126.3 478.6,126.3 479.7,126.3 480.8,126.2 481.9,126.2 483.0,126.2 484.2,126.2 485.3,126.2 486.4,126.1 487.5,126.1 488.6,126.0 489.8,126.0 490.9,126.0 492.0,126.1 493.1,126.1 494.2,126.2 495.3,126.2 496.5,126.3 497.6,126.3 498.7,126.3 499.8,126.2 500.9,126.2 502.1,126.2 503.2,126.3 504.3,126.3 505.4,126.3 506.5,126.3 507.7,126.2 508.8,126.1 509.9,126.0 511.0,125.9 512.1,125.8 513.2,125.8 514.4,125.9 515.5,125.9 516.6,126.0 517.7,125.9 518.8,125.8 520.0,125.8 521.1,125.8 522.2,125.8 523.3,126.0 524.4,126.0 525.5,126.0 526.7,125.9 527.8,125.8 528.9,125.8 530.0,125.9 531.1,126.0 532.3,126.1 533.4,126.2 534.5,126.2 535.6,126.1 536.7,126.1 537.9,126.1" stroke="#0000f8" stroke-width="1.80"/>
<polyline points="438.3,125.2 439.4,125.3 440.5,125.3 441.7,125.4 442.8,125.4 443.9,125.6 445.0,125.7 446.1,125.7 447.2,125.7 448.4,125.7 449.5,125.7 450.6,125.6 451.7,125.6 452.8,125.7 454.0,125.7 455.1,125.7 456.2,125.7 457.3,125.7 458.4,125.7 459.6,125.8 460.7,125.8 461.8,125.8 462.9,125.8 464.0,125.8 465.1,125.8 466.3,125.7 467.4,125.7 468.5,125.6 469.6,125.5 470.7,125.5 471.9,125.6 473.0,125.6 474.1,125.6 475.2,125.6 476.3,125.6 477.4,125.6 478.6,125.6 479.7,125.6 480.8,125.6 481.9,125.6 483.0,125.6 484.2,125.7 485.3,125.7 486.4,125.7 487.5,125.7 488.6,125.6 489.8,125.5 490.9,125.4 492.0,125.3 493.1,125.3 494.2,125.2 495.3,125.3 496.5,125.3 497.6,125.2 498.7,125.2 499.8,125.1 500.9,125.0 502.1,124.9 503.2,124.8 504.3,124.7 505.4,124.7 506.5,124.8 507.7,124.8 508.8,124.8 509.9,124.7 511.0,124.7 512.1,124.7 513.2,124.8 514.4,124.8 515.5,124.6 516.6,124.6 517.7,124.6 518.8,124.6 520.0,124.7 521.1,124.8 522.2,124.8 523.3,124.7 524.4,124.7 525.5,124.8 526.7,124.9 527.8,125.0 528.9,125.0 530.0,125.0 531.1,125.0 532.3,124.8 533.4,124.7 534.5,124.7 535.6,124.7 536.7,124.7 537.9,124.8" stroke="#0000f8" stroke-width="1.80"/>
<polyline points="438.3,125.2 439.4,125.2 440.5,125.3 441.7,125.3 442.8,125.3 443.9,125.4 445.0,125.4 446.1,125.4 447.2,125.5 448.4,125.5 449.5,125.6 450.6,125.7 451.7,125.7 452.8,125.7 454.0,125.6 455.1,125.5 456.2,125.5 457.3,125.5 458.4,125.5 459.6,125.6 460.7,125.7 461.8,125.7 462.9,125.7 464.0,125.6 465.1,125.6 466.3,125.6 467.4,125.5 468.5,125.5 469.6,125.5 470.7,125.4 471.9,125.5 473.0,125.5 474.1,125.4 475.2,125.3 476.3,125.2 477.4,125.2 478.6,125.2 479.7,125.2 480.8,125.2 481.9,125.2 483.0,125.1 484.2,125.1 485.3,125.0 486.4,125.0 487.5,125.0 488.6,125.0 489.8,125.0 490.9,125.0 492.0,124.8 493.1,124.8 494.2,124.6 495.3,124.5 496.5,124.4 497.6,124.3 498.7,124.2 499.8,124.2 500.9,124.2 502.1,124.1 503.2,124.1 504.3,124.2 505.4,124.2 506.5,124.3 507.7,124.3 508.8,124.3 509.9,124.3 511.0,124.3 512.1,124.2 513.2,124.1 514.4,124.0 515.5,123.9 516.6,123.9 517.7,123.9 518.8,123.8 520.0,123.8 521.1,123.7 522.2,123.7 523.3,123.7 524.4,123.7 525.5,123.6 526.7,123.6 527.8,123.5 528.9,123.4 530.0,123.4 531.1,123.4 532.3,123.4 533.4,123.4 534.5,123.4 535.6,123.3 536.7,123.2 537.9,123.2" stroke="#0000f8" stroke-width="1.80"/>
</g>
<path d="M438.3 154.9v-1.1M438.3 95.4v1.1M459.0 154.9v-1.1M459.0 95.4v1.1M479.8 154.9v-1.1M479.8 95.4v1.1M500.5 154.9v-1.1M500.5 95.4v1.1M521.3 154.9v-1.1M521.3 95.4v1.1M542.0 154.9v-1.1M542.0 95.4v1.1M438.3 154.9h1.1M542.0 154.9h-1.1M438.3 140.0h1.1M542.0 140.0h-1.1M438.3 125.2h1.1M542.0 125.2h-1.1M438.3 110.3h1.1M542.0 110.3h-1.1M438.3 95.4h1.1M542.0 95.4h-1.1" stroke="#9c9c9c" stroke-width="0.6" fill="none"/>
<rect x="438.3" y="95.4" width="103.7" height="59.5" fill="none" stroke="#9c9c9c" stroke-width="0.9"/>
<text x="438.3" y="162.7" text-anchor="middle" class="tk">9</text>
<text x="459.0" y="162.7" text-anchor="middle" class="tk">10</text>
<text x="479.8" y="162.7" text-anchor="middle" class="tk">11</text>
<text x="500.5" y="162.7" text-anchor="middle" class="tk">12</text>
<text x="521.3" y="162.7" text-anchor="middle" class="tk">13</text>
<text x="542.0" y="162.7" text-anchor="middle" class="tk">14</text>
<text x="436.2" y="156.8" text-anchor="end" class="tk">-2</text>
<text x="436.2" y="142.0" text-anchor="end" class="tk">-1</text>
<text x="436.2" y="127.1" text-anchor="end" class="tk">0</text>
<text x="436.2" y="112.2" text-anchor="end" class="tk">1</text>
<text x="436.2" y="97.4" text-anchor="end" class="tk">2</text>
<text x="442.5" y="105.2" class="tb">(n) B-ASB-AR-J2</text>
<text transform="translate(428.4 125.2) rotate(-90)" text-anchor="middle" class="ql"><tspan class="qi">q&#773;</tspan><tspan class="sub" dy="1">s</tspan><tspan dy="-1"> [m</tspan><tspan class="sub" dy="-1.6">3</tspan><tspan dy="1.6">/(ms)]</tspan></text>
<text x="439.5" y="93.7" class="ex">&#215;10<tspan class="es" dy="-2.6">-6</tspan></text>
</g>
<g>
<rect x="438.3" y="179.0" width="103.7" height="59.5" fill="#fff"/>
<path d="M459.0 179.0V238.5M479.8 179.0V238.5M500.5 179.0V238.5M521.3 179.0V238.5M438.3 223.6H542.0M438.3 208.8H542.0M438.3 193.9H542.0" stroke="#e4e4e4" stroke-width="0.7" fill="none"/>
<clipPath id="c15"><rect x="438.3" y="179.0" width="103.7" height="59.5"/></clipPath>
<g clip-path="url(#c15)" fill="none" stroke-linejoin="round" stroke-linecap="round">
<polyline points="438.3,213.2 439.4,213.4 440.5,213.7 441.7,213.8 442.8,213.9 443.9,214.1 445.0,214.2 446.1,214.4 447.2,214.8 448.4,215.1 449.5,215.5 450.6,215.9 451.7,216.1 452.8,216.4 454.0,216.6 455.1,216.8 456.2,216.9 457.3,217.2 458.4,217.5 459.6,217.8 460.7,218.1 461.8,218.4 462.9,218.7 464.0,219.0 465.1,219.4 466.3,219.8 467.4,220.0 468.5,220.4 469.6,220.6 470.7,220.9 471.9,221.2 473.0,221.3 474.1,221.5 475.2,221.6 476.3,221.7 477.4,221.8 478.6,221.9 479.7,222.0 480.8,222.3 481.9,222.5 483.0,222.9 484.2,223.0 485.3,223.0 486.4,223.0 487.5,222.8 488.6,222.6 489.8,222.3 490.9,222.0 492.0,221.6 493.1,221.2 494.2,220.8 495.3,220.4 496.5,220.0 497.6,219.7 498.7,219.4 499.8,219.3 500.9,219.2 502.1,219.3 503.2,219.5 504.3,219.7 505.4,220.1 506.5,220.4 507.7,220.6 508.8,220.7 509.9,220.7 511.0,220.5 512.1,220.4 513.2,220.3 514.4,220.1 515.5,220.1 516.6,220.0 517.7,219.9 518.8,219.9 520.0,219.8 521.1,219.8 522.2,219.8 523.3,220.1 524.4,220.4 525.5,220.9 526.7,221.4 527.8,221.7 528.9,222.0 530.0,222.2 531.1,222.3 532.3,222.4 533.4,222.4 534.5,222.2 535.6,222.0 536.7,221.7 537.9,221.4" stroke="#d40030" stroke-width="1.56"/>
<polyline points="438.3,213.4 439.4,213.5 440.5,213.7 441.7,213.8 442.8,213.9 443.9,214.0 445.0,214.0 446.1,214.1 447.2,214.1 448.4,214.1 449.5,214.2 450.6,214.4 451.7,214.6 452.8,214.8 454.0,214.9 455.1,215.0 456.2,215.0 457.3,214.9 458.4,214.9 459.6,214.9 460.7,214.9 461.8,215.0 462.9,215.0 464.0,215.2 465.1,215.3 466.3,215.4 467.4,215.5 468.5,215.4 469.6,215.5 470.7,215.6 471.9,215.7 473.0,215.8 474.1,215.7 475.2,215.7 476.3,215.5 477.4,215.4 478.6,215.4 479.7,215.4 480.8,215.4 481.9,215.3 483.0,215.0 484.2,214.4 485.3,213.8 486.4,213.2 487.5,212.7 488.6,212.3 489.8,212.0 490.9,211.8 492.0,211.5 493.1,211.3 494.2,211.1 495.3,210.8 496.5,210.7 497.6,210.5 498.7,210.4 499.8,210.3 500.9,210.2 502.1,210.0 503.2,209.8 504.3,209.7 505.4,209.5 506.5,209.5 507.7,209.5 508.8,209.5 509.9,209.6 511.0,209.5 512.1,209.5 513.2,209.5 514.4,209.4 515.5,209.4 516.6,209.4 517.7,209.4 518.8,209.5 520.0,209.5 521.1,209.5 522.2,209.5 523.3,209.6 524.4,209.6 525.5,209.7 526.7,209.7 527.8,209.7 528.9,209.6 530.0,209.6 531.1,209.6 532.3,209.6 533.4,209.7 534.5,209.9 535.6,210.0 536.7,210.3 537.9,210.3" stroke="#bb0048" stroke-width="1.44"/>
<polyline points="438.3,213.3 439.4,213.5 440.5,213.7 441.7,213.8 442.8,214.0 443.9,214.1 445.0,214.3 446.1,214.5 447.2,214.8 448.4,215.0 449.5,215.1 450.6,215.3 451.7,215.5 452.8,215.7 454.0,215.9 455.1,216.0 456.2,216.0 457.3,216.0 458.4,216.0 459.6,216.0 460.7,216.1 461.8,216.3 462.9,216.4 464.0,216.6 465.1,216.6 466.3,216.6 467.4,216.6 468.5,216.6 469.6,216.8 470.7,217.0 471.9,217.1 473.0,217.4 474.1,217.5 475.2,217.6 476.3,217.8 477.4,217.8 478.6,217.7 479.7,217.6 480.8,217.5 481.9,217.5 483.0,217.3 484.2,217.2 485.3,217.0 486.4,216.7 487.5,216.5 488.6,216.4 489.8,216.2 490.9,216.1 492.0,216.0 493.1,215.9 494.2,215.8 495.3,215.8 496.5,215.6 497.6,215.4 498.7,215.3 499.8,215.1 500.9,215.0 502.1,215.1 503.2,215.4 504.3,215.7 505.4,216.2 506.5,216.6 507.7,217.0 508.8,217.4 509.9,217.6 511.0,217.6 512.1,217.6 513.2,217.6 514.4,217.7 515.5,217.7 516.6,217.8 517.7,217.8 518.8,217.7 520.0,217.8 521.1,217.7 522.2,217.7 523.3,217.7 524.4,217.6 525.5,217.6 526.7,217.6 527.8,217.5 528.9,217.4 530.0,217.3 531.1,217.1 532.3,216.9 533.4,216.7 534.5,216.5 535.6,216.3 536.7,216.2 537.9,216.0" stroke="#7f0080" stroke-width="1.44"/>
<polyline points="438.3,213.1 439.4,213.2 440.5,213.3 441.7,213.3 442.8,213.4 443.9,213.5 445.0,213.6 446.1,213.7 447.2,213.8 448.4,213.9 449.5,213.9 450.6,213.9 451.7,213.9 452.8,213.8 454.0,213.8 455.1,213.8 456.2,213.8 457.3,213.9 458.4,214.0 459.6,214.1 460.7,214.1 461.8,214.2 462.9,214.2 464.0,214.3 465.1,214.3 466.3,214.3 467.4,214.3 468.5,214.4 469.6,214.4 470.7,214.5 471.9,214.5 473.0,214.4 474.1,214.4 475.2,214.5 476.3,214.5 477.4,214.6 478.6,214.7 479.7,214.9 480.8,215.0 481.9,215.1 483.0,215.2 484.2,215.2 485.3,215.2 486.4,215.2 487.5,215.3 488.6,215.4 489.8,215.5 490.9,215.5 492.0,215.4 493.1,215.2 494.2,214.9 495.3,214.7 496.5,214.5 497.6,214.2 498.7,214.0 499.8,213.8 500.9,213.7 502.1,213.7 503.2,213.8 504.3,213.8 505.4,213.9 506.5,213.9 507.7,213.9 508.8,213.9 509.9,213.9 511.0,213.9 512.1,213.8 513.2,213.8 514.4,213.8 515.5,213.8 516.6,213.8 517.7,213.9 518.8,213.9 520.0,214.0 521.1,213.9 522.2,213.9 523.3,213.9 524.4,213.9 525.5,214.0 526.7,214.0 527.8,214.0 528.9,213.9 530.0,213.7 531.1,213.6 532.3,213.5 533.4,213.4 534.5,213.3 535.6,213.3 536.7,213.3 537.9,213.3" stroke="#5f009e" stroke-width="1.44"/>
<polyline points="438.3,212.8 439.4,212.8 440.5,212.7 441.7,212.7 442.8,212.8 443.9,212.9 445.0,212.9 446.1,212.9 447.2,212.8 448.4,212.8 449.5,212.6 450.6,212.5 451.7,212.4 452.8,212.3 454.0,212.3 455.1,212.3 456.2,212.4 457.3,212.4 458.4,212.4 459.6,212.4 460.7,212.3 461.8,212.3 462.9,212.3 464.0,212.2 465.1,212.1 466.3,212.0 467.4,211.9 468.5,211.8 469.6,211.7 470.7,211.6 471.9,211.6 473.0,211.5 474.1,211.4 475.2,211.3 476.3,211.2 477.4,211.2 478.6,211.3 479.7,211.3 480.8,211.2 481.9,211.1 483.0,210.8 484.2,210.5 485.3,210.2 486.4,209.9 487.5,209.6 488.6,209.3 489.8,209.1 490.9,208.8 492.0,208.6 493.1,208.6 494.2,208.7 495.3,208.7 496.5,209.0 497.6,209.2 498.7,209.6 499.8,209.9 500.9,210.3 502.1,210.6 503.2,210.8 504.3,210.9 505.4,210.9 506.5,210.8 507.7,210.7 508.8,210.7 509.9,210.6 511.0,210.5 512.1,210.3 513.2,210.2 514.4,210.1 515.5,210.1 516.6,210.1 517.7,210.0 518.8,210.0 520.0,210.0 521.1,210.0 522.2,210.0 523.3,209.9 524.4,209.8 525.5,209.7 526.7,209.8 527.8,210.0 528.9,210.1 530.0,210.2 531.1,210.2 532.3,210.3 533.4,210.4 534.5,210.5 535.6,210.6 536.7,210.6 537.9,210.7" stroke="#1500e4" stroke-width="1.56"/>
<polyline points="438.3,213.4 439.4,213.3 440.5,213.2 441.7,213.1 442.8,213.0 443.9,213.0 445.0,213.0 446.1,213.1 447.2,213.2 448.4,213.3 449.5,213.4 450.6,213.4 451.7,213.4 452.8,213.4 454.0,213.3 455.1,213.3 456.2,213.2 457.3,213.3 458.4,213.4 459.6,213.4 460.7,213.5 461.8,213.4 462.9,213.2 464.0,213.1 465.1,213.0 466.3,213.0 467.4,213.0 468.5,213.0 469.6,212.9 470.7,212.9 471.9,213.0 473.0,213.2 474.1,213.3 475.2,213.4 476.3,213.4 477.4,213.3 478.6,213.2 479.7,213.2 480.8,213.1 481.9,213.1 483.0,213.0 484.2,212.9 485.3,212.8 486.4,212.7 487.5,212.6 488.6,212.5 489.8,212.3 490.9,212.2 492.0,212.1 493.1,212.0 494.2,212.0 495.3,212.0 496.5,212.2 497.6,212.4 498.7,212.6 499.8,212.9 500.9,213.2 502.1,213.4 503.2,213.5 504.3,213.6 505.4,213.6 506.5,213.5 507.7,213.4 508.8,213.3 509.9,213.2 511.0,213.2 512.1,213.2 513.2,213.1 514.4,213.0 515.5,212.9 516.6,212.8 517.7,212.8 518.8,212.8 520.0,212.8 521.1,212.8 522.2,212.8 523.3,212.8 524.4,212.9 525.5,213.0 526.7,213.1 527.8,213.1 528.9,213.1 530.0,212.9 531.1,212.9 532.3,212.9 533.4,212.9 534.5,213.1 535.6,213.2 536.7,213.3 537.9,213.3" stroke="#0000f8" stroke-width="1.56"/>
<polyline points="438.3,213.1 439.4,213.0 440.5,212.8 441.7,212.7 442.8,212.7 443.9,212.7 445.0,212.9 446.1,212.9 447.2,212.9 448.4,212.9 449.5,212.8 450.6,212.7 451.7,212.7 452.8,212.7 454.0,212.7 455.1,212.7 456.2,212.7 457.3,212.6 458.4,212.5 459.6,212.5 460.7,212.4 461.8,212.4 462.9,212.3 464.0,212.3 465.1,212.3 466.3,212.4 467.4,212.5 468.5,212.6 469.6,212.7 470.7,212.6 471.9,212.5 473.0,212.4 474.1,212.3 475.2,212.2 476.3,212.2 477.4,212.1 478.6,212.1 479.7,212.0 480.8,211.9 481.9,211.7 483.0,211.5 484.2,211.4 485.3,211.3 486.4,211.3 487.5,211.2 488.6,211.1 489.8,210.9 490.9,210.6 492.0,210.3 493.1,210.0 494.2,209.8 495.3,209.9 496.5,210.1 497.6,210.4 498.7,210.8 499.8,211.2 500.9,211.6 502.1,211.8 503.2,212.1 504.3,212.2 505.4,212.2 506.5,212.2 507.7,212.1 508.8,212.0 509.9,212.0 511.0,211.9 512.1,211.8 513.2,211.6 514.4,211.4 515.5,211.4 516.6,211.5 517.7,211.6 518.8,211.7 520.0,211.7 521.1,211.6 522.2,211.4 523.3,211.4 524.4,211.3 525.5,211.3 526.7,211.4 527.8,211.5 528.9,211.6 530.0,211.6 531.1,211.6 532.3,211.6 533.4,211.5 534.5,211.5 535.6,211.6 536.7,211.7 537.9,211.8" stroke="#0000f8" stroke-width="1.92"/>
</g>
<path d="M438.3 238.5v-1.1M438.3 179.0v1.1M459.0 238.5v-1.1M459.0 179.0v1.1M479.8 238.5v-1.1M479.8 179.0v1.1M500.5 238.5v-1.1M500.5 179.0v1.1M521.3 238.5v-1.1M521.3 179.0v1.1M542.0 238.5v-1.1M542.0 179.0v1.1M438.3 238.5h1.1M542.0 238.5h-1.1M438.3 223.6h1.1M542.0 223.6h-1.1M438.3 208.8h1.1M542.0 208.8h-1.1M438.3 193.9h1.1M542.0 193.9h-1.1M438.3 179.0h1.1M542.0 179.0h-1.1" stroke="#9c9c9c" stroke-width="0.6" fill="none"/>
<rect x="438.3" y="179.0" width="103.7" height="59.5" fill="none" stroke="#9c9c9c" stroke-width="0.9"/>
<text x="438.3" y="246.3" text-anchor="middle" class="tk">9</text>
<text x="459.0" y="246.3" text-anchor="middle" class="tk">10</text>
<text x="479.8" y="246.3" text-anchor="middle" class="tk">11</text>
<text x="500.5" y="246.3" text-anchor="middle" class="tk">12</text>
<text x="521.3" y="246.3" text-anchor="middle" class="tk">13</text>
<text x="542.0" y="246.3" text-anchor="middle" class="tk">14</text>
<text x="436.2" y="240.4" text-anchor="end" class="tk">-2</text>
<text x="436.2" y="225.6" text-anchor="end" class="tk">-1</text>
<text x="436.2" y="210.7" text-anchor="end" class="tk">0</text>
<text x="436.2" y="195.8" text-anchor="end" class="tk">1</text>
<text x="436.2" y="180.9" text-anchor="end" class="tk">2</text>
<text x="442.5" y="188.8" class="tb">(o) B-ASB-AR-J3</text>
<text transform="translate(428.4 208.8) rotate(-90)" text-anchor="middle" class="ql"><tspan class="qi">q&#773;</tspan><tspan class="sub" dy="1">s</tspan><tspan dy="-1"> [m</tspan><tspan class="sub" dy="-1.6">3</tspan><tspan dy="1.6">/(ms)]</tspan></text>
<text x="439.5" y="177.3" class="ex">&#215;10<tspan class="es" dy="-2.6">-6</tspan></text>
</g>
<g>
<rect x="438.3" y="262.4" width="103.7" height="59.5" fill="#fff"/>
<path d="M459.0 262.4V321.9M479.8 262.4V321.9M500.5 262.4V321.9M521.3 262.4V321.9M438.3 307.0H542.0M438.3 292.1H542.0M438.3 277.3H542.0" stroke="#e4e4e4" stroke-width="0.7" fill="none"/>
<clipPath id="c16"><rect x="438.3" y="262.4" width="103.7" height="59.5"/></clipPath>
<g clip-path="url(#c16)" fill="none" stroke-linejoin="round" stroke-linecap="round">
<polyline points="438.3,289.7 439.4,290.0 440.5,290.2 441.7,290.6 442.8,290.9 443.9,291.3 445.0,291.5 446.1,291.7 447.2,291.9 448.4,292.1 449.5,292.4 450.6,292.6 451.7,292.9 452.8,293.1 454.0,293.3 455.1,293.5 456.2,293.7 457.3,293.9 458.4,294.2 459.6,294.5 460.7,294.8 461.8,295.2 462.9,295.5 464.0,295.9 465.1,296.4 466.3,296.7 467.4,297.1 468.5,297.3 469.6,297.4 470.7,297.4 471.9,297.4 473.0,297.3 474.1,297.1 475.2,297.0 476.3,296.9 477.4,296.8 478.6,296.8 479.7,296.7 480.8,296.7 481.9,296.7 483.0,296.7 484.2,296.6 485.3,296.6 486.4,296.5 487.5,296.4 488.6,296.4 489.8,296.4 490.9,296.5 492.0,296.4 493.1,296.2 494.2,295.8 495.3,295.3 496.5,294.8 497.6,294.4 498.7,294.1 499.8,293.8 500.9,293.8 502.1,294.0 503.2,294.4 504.3,295.1 505.4,295.8 506.5,296.5 507.7,297.1 508.8,297.3 509.9,297.4 511.0,297.4 512.1,297.5 513.2,297.6 514.4,297.6 515.5,297.6 516.6,297.6 517.7,297.5 518.8,297.4 520.0,297.3 521.1,297.2 522.2,297.3 523.3,297.6 524.4,298.0 525.5,298.6 526.7,298.9 527.8,299.1 528.9,299.3 530.0,299.3 531.1,299.1 532.3,298.9 533.4,298.5 534.5,298.0 535.6,297.6 536.7,297.1 537.9,296.6" stroke="#d40030" stroke-width="1.56"/>
<polyline points="438.3,290.1 439.4,290.2 440.5,290.3 441.7,290.4 442.8,290.6 443.9,290.9 445.0,291.1 446.1,291.2 447.2,291.3 448.4,291.4 449.5,291.6 450.6,291.9 451.7,292.2 452.8,292.3 454.0,292.5 455.1,292.5 456.2,292.6 457.3,292.6 458.4,292.8 459.6,292.9 460.7,293.0 461.8,293.2 462.9,293.3 464.0,293.5 465.1,293.6 466.3,293.7 467.4,293.8 468.5,294.0 469.6,294.2 470.7,294.4 471.9,294.6 473.0,294.7 474.1,294.8 475.2,294.8 476.3,294.8 477.4,294.9 478.6,294.9 479.7,294.8 480.8,294.8 481.9,294.8 483.0,294.7 484.2,294.7 485.3,294.6 486.4,294.5 487.5,294.5 488.6,294.4 489.8,294.2 490.9,293.9 492.0,293.5 493.1,293.3 494.2,293.1 495.3,293.1 496.5,293.2 497.6,293.2 498.7,293.1 499.8,293.1 500.9,293.0 502.1,293.0 503.2,293.1 504.3,293.2 505.4,293.4 506.5,293.6 507.7,293.8 508.8,294.0 509.9,294.3 511.0,294.6 512.1,294.9 513.2,295.2 514.4,295.4 515.5,295.6 516.6,295.8 517.7,296.1 518.8,296.3 520.0,296.6 521.1,296.8 522.2,296.8 523.3,296.8 524.4,296.8 525.5,296.8 526.7,297.0 527.8,297.1 528.9,297.2 530.0,297.3 531.1,297.3 532.3,297.5 533.4,297.5 534.5,297.6 535.6,297.6 536.7,297.5 537.9,297.5" stroke="#b4004e" stroke-width="1.44"/>
<polyline points="438.3,289.9 439.4,290.1 440.5,290.2 441.7,290.3 442.8,290.4 443.9,290.6 445.0,290.8 446.1,291.0 447.2,291.1 448.4,291.2 449.5,291.3 450.6,291.4 451.7,291.4 452.8,291.3 454.0,291.3 455.1,291.3 456.2,291.4 457.3,291.4 458.4,291.4 459.6,291.4 460.7,291.3 461.8,291.3 462.9,291.2 464.0,291.3 465.1,291.3 466.3,291.2 467.4,291.0 468.5,290.7 469.6,290.5 470.7,290.2 471.9,290.1 473.0,290.1 474.1,290.1 475.2,290.1 476.3,290.1 477.4,290.0 478.6,290.0 479.7,289.9 480.8,290.0 481.9,289.9 483.0,290.0 484.2,290.0 485.3,290.2 486.4,290.4 487.5,290.6 488.6,290.9 489.8,291.1 490.9,291.2 492.0,291.4 493.1,291.4 494.2,291.5 495.3,291.6 496.5,291.7 497.6,291.8 498.7,292.0 499.8,292.1 500.9,292.1 502.1,292.1 503.2,292.1 504.3,292.1 505.4,292.1 506.5,292.0 507.7,291.9 508.8,291.9 509.9,291.8 511.0,291.8 512.1,291.8 513.2,291.7 514.4,291.6 515.5,291.6 516.6,291.6 517.7,291.6 518.8,291.6 520.0,291.6 521.1,291.6 522.2,291.5 523.3,291.4 524.4,291.4 525.5,291.2 526.7,291.2 527.8,291.1 528.9,291.1 530.0,291.0 531.1,291.0 532.3,291.0 533.4,290.9 534.5,290.9 535.6,290.8 536.7,290.7 537.9,290.7" stroke="#94006c" stroke-width="1.44"/>
<polyline points="438.3,289.9 439.4,290.0 440.5,290.3 441.7,290.5 442.8,290.6 443.9,290.7 445.0,290.7 446.1,290.8 447.2,290.9 448.4,291.1 449.5,291.4 450.6,291.5 451.7,291.7 452.8,291.8 454.0,291.8 455.1,292.0 456.2,292.1 457.3,292.2 458.4,292.3 459.6,292.2 460.7,292.2 461.8,292.3 462.9,292.4 464.0,292.6 465.1,292.6 466.3,292.7 467.4,292.7 468.5,292.7 469.6,292.7 470.7,292.6 471.9,292.6 473.0,292.6 474.1,292.7 475.2,292.8 476.3,292.9 477.4,292.9 478.6,292.9 479.7,292.8 480.8,292.8 481.9,292.8 483.0,292.8 484.2,292.8 485.3,292.9 486.4,293.1 487.5,293.2 488.6,293.2 489.8,293.2 490.9,293.0 492.0,292.9 493.1,292.9 494.2,292.9 495.3,292.9 496.5,292.8 497.6,292.8 498.7,292.8 499.8,293.0 500.9,293.0 502.1,293.0 503.2,292.9 504.3,292.8 505.4,292.9 506.5,293.0 507.7,293.1 508.8,293.3 509.9,293.4 511.0,293.5 512.1,293.5 513.2,293.5 514.4,293.5 515.5,293.7 516.6,293.9 517.7,294.1 518.8,294.3 520.0,294.4 521.1,294.4 522.2,294.4 523.3,294.4 524.4,294.3 525.5,294.4 526.7,294.5 527.8,294.6 528.9,294.7 530.0,294.7 531.1,294.8 532.3,294.8 533.4,294.8 534.5,294.8 535.6,294.8 536.7,294.9 537.9,295.0" stroke="#6a0094" stroke-width="1.56"/>
<polyline points="438.3,290.1 439.4,290.2 440.5,290.2 441.7,290.2 442.8,290.2 443.9,290.2 445.0,290.2 446.1,290.2 447.2,290.2 448.4,290.3 449.5,290.3 450.6,290.3 451.7,290.4 452.8,290.4 454.0,290.5 455.1,290.7 456.2,290.9 457.3,291.0 458.4,291.0 459.6,291.0 460.7,291.0 461.8,291.0 462.9,291.1 464.0,291.1 465.1,291.1 466.3,291.1 467.4,291.1 468.5,291.1 469.6,291.2 470.7,291.2 471.9,291.4 473.0,291.4 474.1,291.4 475.2,291.4 476.3,291.3 477.4,291.4 478.6,291.4 479.7,291.4 480.8,291.4 481.9,291.3 483.0,291.2 484.2,291.1 485.3,290.9 486.4,290.7 487.5,290.5 488.6,290.3 489.8,290.0 490.9,289.8 492.0,289.5 493.1,289.2 494.2,289.0 495.3,288.8 496.5,288.8 497.6,288.7 498.7,288.6 499.8,288.5 500.9,288.4 502.1,288.3 503.2,288.3 504.3,288.5 505.4,288.7 506.5,288.9 507.7,289.0 508.8,289.0 509.9,289.0 511.0,289.1 512.1,289.3 513.2,289.5 514.4,289.7 515.5,289.8 516.6,289.9 517.7,290.0 518.8,290.1 520.0,290.3 521.1,290.5 522.2,290.7 523.3,291.0 524.4,291.4 525.5,291.8 526.7,292.2 527.8,292.6 528.9,292.8 530.0,292.9 531.1,292.9 532.3,292.8 533.4,292.5 534.5,292.0 535.6,291.4 536.7,290.6 537.9,289.8" stroke="#4000bc" stroke-width="1.56"/>
<polyline points="438.3,289.9 439.4,289.9 440.5,289.8 441.7,289.9 442.8,289.9 443.9,290.0 445.0,290.1 446.1,290.1 447.2,290.3 448.4,290.5 449.5,290.7 450.6,290.9 451.7,291.0 452.8,290.9 454.0,290.8 455.1,290.8 456.2,290.7 457.3,290.8 458.4,290.8 459.6,290.9 460.7,290.9 461.8,290.9 462.9,291.0 464.0,291.2 465.1,291.3 466.3,291.4 467.4,291.5 468.5,291.5 469.6,291.6 470.7,291.7 471.9,291.8 473.0,291.8 474.1,291.8 475.2,291.8 476.3,291.9 477.4,292.0 478.6,292.1 479.7,292.1 480.8,292.1 481.9,292.1 483.0,292.0 484.2,292.0 485.3,292.0 486.4,292.0 487.5,292.1 488.6,292.0 489.8,291.9 490.9,291.9 492.0,291.9 493.1,291.9 494.2,291.9 495.3,291.9 496.5,291.9 497.6,291.8 498.7,291.7 499.8,291.6 500.9,291.5 502.1,291.6 503.2,291.6 504.3,291.7 505.4,291.8 506.5,291.7 507.7,291.7 508.8,291.8 509.9,291.9 511.0,292.1 512.1,292.3 513.2,292.5 514.4,292.7 515.5,292.8 516.6,293.0 517.7,293.3 518.8,293.4 520.0,293.6 521.1,293.7 522.2,293.7 523.3,293.9 524.4,294.1 525.5,294.3 526.7,294.7 527.8,295.1 528.9,295.5 530.0,295.9 531.1,296.2 532.3,296.5 533.4,296.7 534.5,296.9 535.6,297.2 536.7,297.5 537.9,297.9" stroke="#2000da" stroke-width="1.56"/>
<polyline points="438.3,289.7 439.4,289.7 440.5,289.7 441.7,289.7 442.8,289.8 443.9,289.8 445.0,290.0 446.1,290.1 447.2,290.2 448.4,290.3 449.5,290.4 450.6,290.5 451.7,290.6 452.8,290.6 454.0,290.6 455.1,290.5 456.2,290.4 457.3,290.4 458.4,290.4 459.6,290.5 460.7,290.7 461.8,290.7 462.9,290.7 464.0,290.7 465.1,290.7 466.3,290.9 467.4,291.0 468.5,291.1 469.6,291.1 470.7,291.1 471.9,291.0 473.0,291.0 474.1,291.1 475.2,291.2 476.3,291.3 477.4,291.4 478.6,291.4 479.7,291.3 480.8,291.2 481.9,291.2 483.0,291.2 484.2,291.2 485.3,291.2 486.4,291.3 487.5,291.3 488.6,291.3 489.8,291.1 490.9,290.9 492.0,290.7 493.1,290.6 494.2,290.5 495.3,290.5 496.5,290.5 497.6,290.5 498.7,290.4 499.8,290.4 500.9,290.5 502.1,290.5 503.2,290.6 504.3,290.7 505.4,290.7 506.5,290.8 507.7,290.9 508.8,291.0 509.9,291.1 511.0,291.2 512.1,291.3 513.2,291.4 514.4,291.6 515.5,291.7 516.6,291.8 517.7,291.8 518.8,292.0 520.0,292.1 521.1,292.3 522.2,292.4 523.3,292.5 524.4,292.6 525.5,292.6 526.7,292.6 527.8,292.6 528.9,292.7 530.0,292.9 531.1,293.0 532.3,293.2 533.4,293.3 534.5,293.4 535.6,293.5 536.7,293.5 537.9,293.6" stroke="#0b00ee" stroke-width="1.80"/>
<polyline points="438.3,290.0 439.4,290.1 440.5,290.1 441.7,290.1 442.8,290.2 443.9,290.2 445.0,290.3 446.1,290.4 447.2,290.3 448.4,290.2 449.5,290.2 450.6,290.2 451.7,290.3 452.8,290.5 454.0,290.6 455.1,290.6 456.2,290.6 457.3,290.6 458.4,290.6 459.6,290.6 460.7,290.6 461.8,290.6 462.9,290.6 464.0,290.7 465.1,290.7 466.3,290.7 467.4,290.8 468.5,290.7 469.6,290.6 470.7,290.5 471.9,290.3 473.0,290.2 474.1,290.2 475.2,290.1 476.3,290.2 477.4,290.1 478.6,290.1 479.7,290.2 480.8,290.1 481.9,290.1 483.0,289.9 484.2,289.6 485.3,289.4 486.4,289.0 487.5,288.7 488.6,288.4 489.8,288.3 490.9,288.1 492.0,288.0 493.1,287.9 494.2,287.6 495.3,287.4 496.5,287.2 497.6,287.0 498.7,286.8 499.8,286.8 500.9,286.8 502.1,286.8 503.2,286.9 504.3,286.9 505.4,286.9 506.5,286.9 507.7,286.9 508.8,287.1 509.9,287.2 511.0,287.3 512.1,287.3 513.2,287.3 514.4,287.2 515.5,287.1 516.6,287.1 517.7,287.0 518.8,287.0 520.0,287.0 521.1,286.9 522.2,286.8 523.3,286.7 524.4,286.6 525.5,286.6 526.7,286.5 527.8,286.4 528.9,286.3 530.0,286.1 531.1,285.7 532.3,285.4 533.4,284.9 534.5,284.3 535.6,283.8 536.7,283.2 537.9,282.5" stroke="#0000f8" stroke-width="1.68"/>
</g>
<path d="M438.3 321.9v-1.1M438.3 262.4v1.1M459.0 321.9v-1.1M459.0 262.4v1.1M479.8 321.9v-1.1M479.8 262.4v1.1M500.5 321.9v-1.1M500.5 262.4v1.1M521.3 321.9v-1.1M521.3 262.4v1.1M542.0 321.9v-1.1M542.0 262.4v1.1M438.3 321.9h1.1M542.0 321.9h-1.1M438.3 307.0h1.1M542.0 307.0h-1.1M438.3 292.1h1.1M542.0 292.1h-1.1M438.3 277.3h1.1M542.0 277.3h-1.1M438.3 262.4h1.1M542.0 262.4h-1.1" stroke="#9c9c9c" stroke-width="0.6" fill="none"/>
<rect x="438.3" y="262.4" width="103.7" height="59.5" fill="none" stroke="#9c9c9c" stroke-width="0.9"/>
<text x="438.3" y="329.7" text-anchor="middle" class="tk">9</text>
<text x="459.0" y="329.7" text-anchor="middle" class="tk">10</text>
<text x="479.8" y="329.7" text-anchor="middle" class="tk">11</text>
<text x="500.5" y="329.7" text-anchor="middle" class="tk">12</text>
<text x="521.3" y="329.7" text-anchor="middle" class="tk">13</text>
<text x="542.0" y="329.7" text-anchor="middle" class="tk">14</text>
<text x="436.2" y="323.8" text-anchor="end" class="tk">-2</text>
<text x="436.2" y="309.0" text-anchor="end" class="tk">-1</text>
<text x="436.2" y="294.1" text-anchor="end" class="tk">0</text>
<text x="436.2" y="279.2" text-anchor="end" class="tk">1</text>
<text x="436.2" y="264.3" text-anchor="end" class="tk">2</text>
<text x="442.5" y="272.1" class="tb">(p) B-ASB-AR-J4</text>
<text transform="translate(428.4 292.1) rotate(-90)" text-anchor="middle" class="ql"><tspan class="qi">q&#773;</tspan><tspan class="sub" dy="1">s</tspan><tspan dy="-1"> [m</tspan><tspan class="sub" dy="-1.6">3</tspan><tspan dy="1.6">/(ms)]</tspan></text>
<text x="439.5" y="260.7" class="ex">&#215;10<tspan class="es" dy="-2.6">-6</tspan></text>
<text x="490.2" y="337.3" text-anchor="middle" class="yl">x [m]</text>
</g>
</g>
</svg>
</body>
</html>
